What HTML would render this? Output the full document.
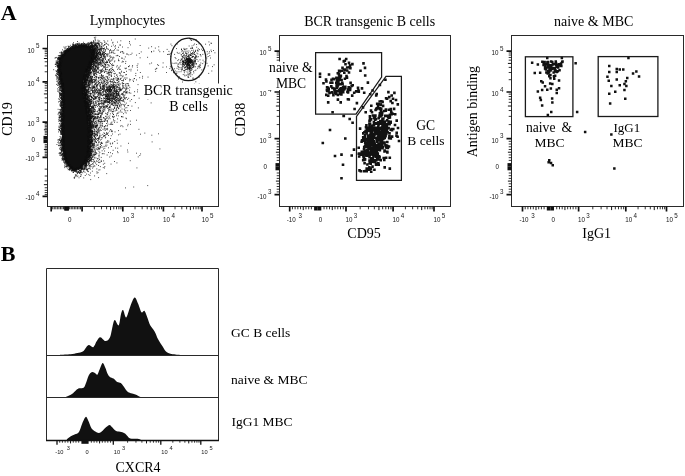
<!DOCTYPE html>
<html><head><meta charset="utf-8"><title>Figure</title><style>html,body{margin:0;padding:0;background:#fff}</style></head><body>
<svg width="685" height="476" viewBox="0 0 685 476" style="display:block">
<rect width="685" height="476" fill="#fff"/>
<text x="0.8" y="19.8" font-size="22" text-anchor="start" font-weight="bold" font-family="'Liberation Serif', serif" >A</text>
<text x="0.8" y="260.7" font-size="22" text-anchor="start" font-weight="bold" font-family="'Liberation Serif', serif" >B</text>
<path d="M65.7 52.5C67.2 51.0 67.9 50.5 69.3 49.7C70.6 48.9 71.8 48.2 73.9 47.6C76.0 47.0 79.8 46.3 81.9 46.2C84.0 46.0 85.3 46.3 86.6 46.6C88.0 46.9 89.0 47.2 89.8 47.8C90.6 48.5 91.3 49.4 91.7 50.4C92.0 51.5 92.1 52.3 92.0 53.9C91.8 55.6 91.7 57.9 90.9 60.2C90.1 62.5 88.1 65.0 86.9 67.8C85.7 70.6 84.5 74.1 83.7 77.3C82.9 80.5 82.3 83.5 82.2 86.7C82.1 89.9 82.5 93.1 83.1 96.2C83.7 99.3 85.0 101.6 85.7 105.6C86.4 109.6 87.1 114.5 87.5 120.0C87.9 125.5 88.3 132.7 88.3 138.4C88.3 144.1 88.0 150.4 87.3 154.4C86.6 158.4 85.3 160.4 83.9 162.7C82.4 165.0 80.3 167.3 78.6 168.4C76.9 169.4 75.4 169.7 73.8 169.0C72.1 168.3 69.9 166.2 68.5 164.4C67.1 162.6 66.3 160.8 65.4 158.1C64.5 155.3 63.8 152.7 63.4 147.8C63.0 142.9 63.2 135.2 63.2 128.9C63.2 122.6 63.1 113.9 63.2 110.0C63.3 106.1 63.9 108.8 63.9 105.6C63.9 102.3 63.5 94.9 63.1 90.5C62.7 86.1 62.0 82.9 61.4 79.1C60.8 75.3 59.8 71.2 59.6 67.8C59.4 64.4 59.4 61.5 60.4 58.9C61.4 56.4 64.3 54.0 65.7 52.5Z" fill="#101010" stroke="#101010" stroke-width="1.6" stroke-linejoin="round"/>
<path d="M57.5 66.4h0.85M63.5 155.0h0.85M62.4 139.0h0.85M61.0 78.3h0.85M68.0 169.2h0.85M60.4 113.2h0.85M62.2 96.4h0.85M86.2 83.0h0.85M79.9 46.5h0.85M86.0 103.5h0.85M84.8 98.8h0.85M57.0 85.3h0.85M60.6 75.4h0.85M64.4 48.8h0.85M88.0 157.7h0.85M62.9 100.3h0.85M94.7 57.5h0.85M63.5 106.7h0.85M93.1 54.5h0.85M90.4 149.1h0.85M61.8 101.5h0.85M87.2 103.6h0.85M89.5 114.6h0.85M84.2 97.9h0.85M62.9 129.2h0.85M82.7 90.8h0.85M62.9 54.4h0.85M89.8 143.8h0.85M88.1 152.6h0.85M88.0 159.3h0.85M66.7 166.2h0.85M75.4 169.4h0.85M86.0 161.2h0.85M62.6 52.8h0.85M64.5 103.9h0.85M62.3 108.0h0.85M61.5 133.4h0.85M63.3 156.2h0.85M86.9 114.8h0.85M60.4 54.0h0.85M89.5 149.0h0.85M84.3 79.2h0.85M63.5 93.2h0.85M89.7 65.8h0.85M60.7 89.8h0.85M65.4 158.9h0.85M93.1 53.3h0.85M75.9 47.9h0.85M91.0 143.1h0.85M74.2 46.7h0.85M90.9 62.2h0.85M86.2 163.1h0.85M59.0 58.3h0.85M88.2 148.4h0.85M60.3 103.7h0.85M59.8 74.0h0.85M61.7 99.2h0.85M60.3 153.5h0.85M87.6 141.4h0.85M85.7 161.9h0.85M85.0 93.5h0.85M87.4 157.4h0.85M89.3 126.0h0.85M83.8 88.4h0.85M64.4 53.6h0.85M67.2 50.2h0.85M91.5 47.7h0.85M85.2 74.0h0.85M59.1 58.5h0.85M62.1 136.3h0.85M60.5 83.1h0.85M86.8 76.3h0.85M58.7 127.7h0.85M91.5 122.1h0.85M86.4 154.9h0.85M66.7 52.4h0.85M64.2 158.1h0.85M62.8 98.4h0.85M64.1 144.6h0.85M92.7 63.6h0.85M82.6 166.9h0.85M84.7 95.9h0.85M58.7 61.2h0.85M59.0 84.5h0.85M87.6 73.0h0.85M86.2 160.3h0.85M57.7 66.4h0.85M59.7 92.9h0.85M62.2 131.5h0.85M61.1 151.4h0.85M77.0 41.5h0.85M62.9 121.8h0.85M89.4 151.5h0.85M90.4 46.3h0.85M83.7 88.1h0.85M80.5 167.3h0.85M60.3 126.1h0.85M86.2 159.5h0.85M63.4 158.9h0.85M61.2 86.1h0.85M63.0 137.5h0.85M89.5 120.1h0.85M60.1 149.8h0.85M66.3 161.6h0.85M90.8 51.7h0.85M79.9 46.4h0.85M62.9 145.2h0.85M90.2 126.6h0.85M66.7 160.9h0.85M86.5 110.5h0.85M85.8 82.5h0.85M93.9 62.2h0.85M88.6 125.4h0.85M60.9 102.9h0.85M88.7 130.5h0.85M88.9 124.9h0.85M70.2 166.9h0.85M61.6 57.4h0.85M90.0 129.3h0.85M67.2 165.1h0.85M87.8 141.9h0.85M65.0 159.3h0.85M88.8 142.9h0.85M63.0 151.1h0.85M78.4 169.9h0.85M62.8 140.1h0.85M59.5 63.0h0.85M89.3 62.8h0.85M74.3 168.7h0.85M91.3 143.1h0.85M87.7 119.0h0.85M84.7 86.3h0.85M78.8 45.1h0.85M88.2 131.2h0.85M59.8 98.7h0.85M90.3 48.1h0.85M89.0 132.6h0.85M61.1 60.0h0.85M60.0 63.9h0.85M84.2 81.3h0.85M65.5 50.4h0.85M63.8 141.9h0.85M68.6 50.0h0.85M84.7 103.5h0.85M88.0 156.9h0.85M61.7 85.4h0.85M89.9 48.0h0.85M62.5 145.4h0.85M82.0 166.8h0.85M92.0 58.1h0.85M60.2 93.7h0.85M61.6 93.9h0.85M89.2 152.5h0.85M59.9 66.3h0.85M65.3 160.0h0.85M59.4 77.5h0.85M60.6 61.6h0.85M71.6 168.7h0.85M84.1 98.9h0.85M89.9 62.2h0.85M72.7 172.3h0.85M85.7 72.5h0.85M60.9 119.2h0.85M57.9 71.6h0.85M82.1 87.9h0.85M77.8 171.7h0.85M79.1 45.3h0.85M85.6 70.6h0.85M93.4 124.8h0.85M61.4 82.8h0.85M57.4 58.8h0.85M62.3 150.1h0.85M67.9 165.6h0.85M71.7 170.3h0.85M81.1 45.5h0.85M88.1 123.5h0.85M58.8 55.5h0.85M91.0 133.9h0.85M84.0 79.6h0.85M82.5 87.8h0.85M61.1 130.1h0.85M75.3 46.4h0.85M59.2 59.3h0.85M61.5 83.8h0.85M72.6 168.0h0.85M89.3 148.6h0.85M61.6 116.7h0.85M77.9 167.8h0.85M89.1 151.4h0.85M87.1 110.0h0.85M89.7 143.5h0.85M63.1 119.3h0.85M79.6 46.3h0.85M71.8 47.0h0.85M60.9 127.7h0.85M90.3 122.6h0.85M62.4 105.1h0.85M72.6 48.2h0.85M60.7 76.1h0.85M95.0 56.0h0.85M88.9 134.7h0.85M59.2 59.5h0.85M93.4 51.6h0.85M58.4 145.7h0.85M63.3 125.9h0.85M90.1 137.9h0.85M86.3 45.8h0.85M84.7 164.2h0.85M87.8 139.8h0.85M60.9 86.1h0.85M57.8 139.7h0.85M87.1 116.0h0.85M80.7 45.9h0.85M66.3 164.0h0.85M86.9 97.7h0.85M60.0 138.8h0.85M62.2 88.3h0.85M87.6 118.2h0.85M59.9 76.8h0.85M84.0 163.4h0.85M81.3 165.1h0.85M61.2 115.3h0.85M59.4 109.6h0.85M60.2 76.5h0.85M66.0 52.6h0.85M89.9 62.5h0.85M89.9 133.4h0.85M59.7 69.0h0.85M88.2 105.3h0.85M64.5 50.6h0.85M70.1 166.3h0.85M62.8 118.5h0.85M61.1 121.3h0.85M61.8 103.5h0.85M61.0 149.0h0.85M92.3 59.0h0.85M62.9 91.8h0.85M90.0 135.8h0.85M59.8 93.0h0.85M62.2 102.1h0.85M60.1 58.9h0.85M68.9 50.0h0.85M61.9 88.5h0.85M62.7 153.8h0.85M87.2 153.9h0.85M61.8 107.3h0.85M58.5 64.2h0.85M86.1 160.6h0.85M88.7 47.5h0.85M61.5 126.6h0.85M82.6 84.7h0.85M82.8 83.4h0.85M85.7 74.2h0.85M84.2 75.8h0.85M59.9 75.5h0.85M90.4 120.3h0.85M92.4 50.5h0.85M86.3 70.9h0.85M91.1 129.0h0.85M90.6 116.6h0.85M90.3 106.3h0.85M60.5 64.6h0.85M62.3 86.8h0.85M69.3 170.1h0.85M62.8 56.7h0.85M88.7 114.0h0.85M91.4 60.8h0.85M84.0 94.9h0.85M90.2 47.1h0.85M56.4 63.7h0.85M86.4 81.1h0.85M88.7 142.9h0.85M85.0 76.5h0.85M62.1 57.4h0.85M88.9 64.3h0.85M85.4 162.7h0.85M59.6 64.9h0.85M83.7 163.3h0.85M60.1 78.2h0.85M59.8 79.9h0.85M60.9 114.9h0.85M60.3 121.1h0.85M70.1 165.9h0.85M69.1 165.4h0.85M63.3 96.6h0.85M88.0 138.4h0.85M58.5 65.0h0.85M60.0 84.0h0.85M89.8 123.8h0.85M89.4 133.8h0.85M58.6 129.5h0.85M59.0 71.7h0.85M90.3 49.6h0.85M84.1 45.2h0.85M87.7 89.3h0.85M88.1 139.4h0.85M87.7 66.8h0.85M86.2 163.7h0.85M79.4 168.4h0.85M58.7 63.9h0.85M62.6 120.1h0.85M86.1 89.6h0.85M59.7 109.8h0.85M62.2 104.6h0.85M62.0 139.0h0.85M58.6 139.8h0.85M87.1 105.5h0.85M63.0 129.8h0.85M92.3 60.0h0.85M63.1 152.9h0.85M60.4 72.9h0.85M57.8 58.4h0.85M86.1 103.1h0.85M88.3 112.5h0.85M64.7 156.2h0.85M89.1 130.9h0.85M62.4 126.1h0.85M88.5 77.2h0.85M89.2 67.7h0.85M79.4 46.3h0.85M89.1 149.4h0.85M87.2 80.4h0.85M84.9 103.5h0.85M56.5 74.3h0.85M62.4 103.1h0.85M60.6 95.2h0.85M67.1 162.7h0.85M91.8 52.8h0.85M58.0 121.1h0.85M66.2 160.0h0.85M57.3 76.8h0.85M88.0 152.9h0.85M87.3 68.5h0.85M67.5 162.3h0.85M87.7 146.0h0.85M62.4 145.7h0.85M88.8 123.9h0.85M88.7 105.1h0.85M90.9 56.4h0.85M56.5 61.0h0.85M59.2 118.1h0.85M91.2 149.4h0.85M83.9 85.3h0.85M64.4 153.9h0.85M90.9 134.2h0.85M64.4 152.5h0.85M89.1 48.7h0.85M85.6 71.9h0.85M62.7 125.1h0.85M81.4 45.6h0.85M63.8 140.7h0.85M89.6 133.9h0.85M65.2 51.7h0.85M58.6 115.9h0.85M63.0 133.8h0.85M63.0 102.2h0.85M61.3 78.8h0.85M61.9 125.3h0.85M61.4 94.1h0.85M92.1 52.6h0.85M59.1 73.5h0.85M60.3 75.0h0.85M63.1 134.9h0.85M61.1 105.7h0.85M61.9 123.0h0.85M62.8 83.9h0.85M60.5 82.2h0.85M86.0 164.9h0.85M59.2 101.3h0.85M59.1 73.3h0.85M85.7 101.7h0.85M76.9 46.3h0.85M87.5 68.1h0.85M72.5 45.9h0.85M91.1 140.4h0.85M69.2 48.9h0.85M83.5 91.6h0.85M83.8 90.8h0.85M62.5 132.9h0.85M84.8 88.8h0.85M55.7 64.1h0.85M86.0 72.6h0.85M59.0 58.4h0.85M71.4 168.9h0.85M83.0 87.4h0.85M74.8 46.7h0.85M88.8 104.9h0.85M67.4 164.0h0.85M94.2 50.3h0.85M88.1 66.5h0.85M93.9 52.2h0.85M60.9 140.4h0.85M88.9 47.0h0.85M69.5 48.7h0.85M92.3 146.2h0.85M86.1 105.4h0.85M72.7 168.5h0.85M59.2 68.4h0.85M62.7 90.1h0.85M80.6 168.0h0.85M63.1 150.3h0.85M62.0 102.3h0.85M88.1 141.2h0.85M62.4 144.3h0.85M84.3 80.4h0.85M62.5 159.4h0.85M82.5 85.7h0.85M85.4 73.0h0.85M62.6 116.9h0.85M69.6 168.8h0.85M91.8 124.8h0.85M75.7 47.6h0.85M84.9 86.8h0.85M60.5 106.5h0.85M87.5 149.3h0.85M59.5 61.5h0.85M60.2 78.8h0.85M62.8 91.2h0.85M68.5 48.3h0.85M77.9 45.9h0.85M68.7 167.1h0.85M86.6 113.6h0.85M61.0 93.8h0.85M92.2 107.6h0.85M91.7 64.1h0.85M92.4 52.0h0.85M87.2 104.5h0.85M62.7 154.0h0.85M94.2 56.7h0.85M63.9 106.3h0.85M85.4 103.4h0.85M88.8 106.6h0.85M60.4 144.0h0.85M62.0 89.8h0.85M92.2 140.4h0.85M61.1 107.7h0.85M86.1 105.1h0.85M91.7 57.4h0.85M63.4 98.2h0.85M59.2 116.0h0.85M61.7 120.4h0.85M61.0 83.1h0.85M86.6 157.5h0.85M84.6 75.5h0.85M67.6 166.1h0.85M70.6 168.0h0.85M88.0 127.4h0.85M61.8 150.6h0.85M84.9 93.5h0.85M61.4 158.7h0.85M62.6 108.2h0.85M93.5 47.1h0.85M88.7 145.3h0.85M61.8 145.1h0.85M79.5 45.2h0.85M65.0 152.3h0.85M55.9 75.7h0.85M62.5 99.1h0.85M62.1 137.8h0.85M63.9 105.5h0.85M87.4 120.6h0.85M89.0 110.9h0.85M88.1 47.0h0.85M60.0 128.3h0.85M86.6 108.2h0.85M61.9 88.1h0.85M87.6 148.6h0.85M58.6 79.5h0.85M91.2 59.5h0.85M89.6 65.2h0.85M89.8 116.1h0.85M71.6 46.5h0.85M90.4 155.4h0.85M61.7 147.5h0.85M62.9 143.7h0.85M83.3 79.2h0.85M91.2 67.5h0.85M73.5 170.3h0.85M63.5 151.7h0.85M58.1 66.5h0.85M59.7 79.5h0.85M88.1 125.1h0.85M89.0 65.6h0.85M82.8 90.0h0.85M62.4 82.9h0.85M87.3 145.7h0.85M61.8 53.2h0.85M64.8 145.3h0.85M66.4 162.9h0.85M92.3 48.8h0.85M67.7 163.3h0.85M89.9 124.4h0.85M61.4 94.0h0.85M91.0 58.9h0.85M87.3 73.9h0.85M61.4 144.8h0.85M57.6 140.1h0.85M60.6 98.0h0.85M83.2 163.6h0.85M89.0 123.9h0.85M85.3 105.4h0.85M87.2 122.9h0.85M59.4 144.0h0.85M81.2 168.9h0.85M86.4 103.0h0.85M82.6 79.5h0.85M60.1 131.5h0.85M83.6 88.9h0.85M84.4 78.1h0.85M87.3 110.8h0.85M62.5 91.9h0.85M87.7 146.7h0.85M67.1 163.3h0.85M87.0 46.6h0.85M91.0 114.9h0.85M61.6 119.0h0.85M61.4 112.9h0.85M69.6 166.6h0.85M63.3 85.1h0.85M87.6 102.7h0.85M88.3 66.7h0.85M85.9 45.0h0.85M84.5 75.6h0.85M60.4 116.6h0.85M58.3 77.9h0.85M93.5 57.8h0.85M86.8 158.5h0.85M93.0 58.2h0.85M61.2 93.8h0.85M91.9 57.0h0.85M61.2 150.2h0.85M87.1 45.9h0.85M61.2 123.6h0.85M58.8 76.2h0.85M63.2 125.7h0.85M83.3 95.3h0.85M61.6 95.1h0.85M86.6 104.6h0.85M62.5 118.4h0.85M63.7 97.0h0.85M88.3 153.8h0.85M62.3 156.1h0.85M62.2 91.0h0.85M85.7 72.7h0.85M69.6 48.3h0.85M88.8 140.1h0.85M87.7 70.5h0.85M62.3 82.8h0.85M61.5 87.4h0.85M90.0 123.9h0.85M87.0 106.0h0.85M58.8 130.6h0.85M89.0 146.2h0.85M91.5 47.7h0.85M63.6 145.0h0.85M59.8 126.0h0.85M86.6 43.7h0.85M59.6 112.6h0.85M81.5 166.5h0.85M62.6 99.1h0.85M61.6 91.6h0.85M61.3 140.9h0.85M85.8 112.7h0.85M88.9 124.1h0.85M62.5 126.9h0.85M81.5 44.5h0.85M84.2 84.3h0.85M88.4 164.7h0.85M58.9 66.9h0.85M61.6 118.5h0.85M61.3 101.3h0.85M84.6 74.3h0.85M85.9 98.2h0.85M82.9 94.3h0.85M61.4 120.2h0.85M81.4 168.0h0.85M86.4 79.1h0.85M63.5 120.3h0.85M63.1 150.9h0.85M59.9 79.3h0.85M75.0 168.8h0.85M92.7 56.6h0.85M61.4 81.8h0.85M85.8 70.8h0.85M79.4 45.4h0.85M61.4 105.7h0.85M88.8 144.6h0.85M63.5 148.9h0.85M91.6 57.2h0.85M63.2 128.2h0.85M89.7 131.8h0.85M62.9 52.3h0.85M63.6 151.3h0.85M58.4 68.1h0.85M63.2 107.8h0.85M62.9 94.4h0.85M87.7 47.0h0.85M62.2 113.1h0.85M62.3 159.9h0.85M88.4 129.5h0.85M89.1 106.6h0.85M61.4 150.0h0.85M86.0 76.1h0.85M86.6 71.7h0.85M62.2 86.0h0.85M64.1 118.0h0.85M68.1 163.6h0.85M62.9 117.9h0.85M89.9 108.9h0.85M61.9 127.6h0.85M87.1 77.3h0.85M88.6 142.2h0.85M91.4 62.8h0.85M89.1 125.5h0.85M88.0 113.7h0.85M89.1 136.3h0.85M90.5 152.2h0.85M72.9 44.0h0.85M88.5 114.6h0.85M59.1 93.1h0.85M89.5 140.4h0.85M80.8 170.6h0.85M92.3 48.7h0.85M88.7 127.4h0.85M57.4 59.2h0.85M78.0 168.9h0.85M70.0 49.2h0.85M63.0 128.4h0.85M62.4 114.5h0.85M91.3 125.9h0.85M73.8 48.1h0.85M63.6 98.0h0.85M84.4 90.7h0.85M59.4 72.1h0.85M88.5 120.7h0.85M88.8 127.3h0.85M63.2 109.0h0.85M94.7 59.1h0.85M72.2 44.1h0.85M63.7 116.6h0.85M57.4 71.5h0.85M63.8 53.6h0.85M91.7 57.6h0.85M91.0 61.4h0.85M90.0 113.7h0.85M64.3 130.5h0.85M55.7 75.7h0.85M61.6 98.6h0.85M90.1 123.4h0.85M57.9 73.8h0.85M83.1 91.1h0.85M93.7 54.7h0.85M89.0 140.2h0.85M90.2 46.9h0.85M62.2 139.5h0.85M62.4 54.7h0.85M91.7 51.3h0.85M93.5 54.1h0.85M89.3 70.3h0.85M86.9 69.8h0.85M83.3 169.8h0.85M70.4 167.5h0.85M59.2 64.7h0.85M88.5 144.0h0.85M56.3 71.0h0.85M61.0 119.4h0.85M60.7 90.8h0.85M87.4 74.2h0.85M89.9 146.5h0.85M59.3 74.6h0.85M61.8 119.6h0.85M84.5 80.4h0.85M59.5 94.2h0.85M60.1 114.6h0.85M93.3 62.5h0.85M84.4 44.8h0.85M83.6 93.0h0.85M87.8 151.5h0.85M88.8 63.7h0.85M73.8 47.7h0.85M91.4 52.3h0.85M88.0 106.5h0.85M92.4 127.8h0.85M84.8 106.0h0.85M90.2 143.0h0.85M63.2 128.5h0.85M83.0 88.5h0.85M89.4 145.8h0.85M62.5 125.5h0.85M79.8 45.6h0.85M59.7 67.6h0.85M63.5 53.1h0.85M88.5 101.2h0.85M56.5 81.5h0.85M85.3 89.9h0.85M60.2 73.8h0.85M58.1 145.3h0.85M83.1 88.7h0.85M81.9 46.1h0.85M88.7 128.4h0.85M61.5 121.6h0.85M83.2 84.4h0.85M85.4 161.8h0.85M93.3 55.5h0.85M88.2 139.0h0.85M73.7 47.4h0.85M61.3 55.7h0.85M85.5 159.5h0.85M61.1 93.8h0.85M92.5 56.6h0.85M89.3 67.6h0.85M86.9 69.4h0.85M73.0 169.0h0.85M62.6 89.3h0.85M66.6 159.5h0.85M87.8 153.5h0.85M59.5 67.9h0.85M86.8 71.5h0.85M90.1 67.1h0.85M61.0 141.6h0.85M63.5 90.6h0.85M83.9 94.4h0.85M83.4 92.9h0.85M84.6 165.7h0.85M63.4 111.6h0.85M84.8 98.3h0.85M61.1 99.0h0.85M85.0 162.6h0.85M58.2 131.9h0.85M62.5 154.0h0.85M91.4 153.6h0.85M80.9 166.1h0.85M63.3 52.0h0.85M90.2 130.0h0.85M57.0 65.5h0.85M62.2 107.7h0.85M88.9 71.7h0.85M62.0 85.6h0.85M88.0 125.5h0.85M88.2 70.1h0.85M87.1 90.7h0.85M93.0 60.4h0.85M86.5 115.0h0.85M91.9 53.3h0.85M78.7 168.4h0.85M61.1 56.9h0.85M57.6 61.2h0.85M59.4 67.2h0.85M84.3 88.0h0.85M81.6 85.2h0.85M63.6 139.8h0.85M55.2 57.7h0.85M61.3 99.2h0.85M83.5 77.4h0.85M62.8 124.6h0.85M85.6 159.5h0.85M90.7 142.6h0.85M87.0 157.0h0.85M78.4 169.2h0.85M57.2 74.3h0.85M61.9 108.6h0.85M75.8 46.5h0.85M62.8 115.3h0.85M87.6 106.8h0.85M87.0 113.5h0.85M66.4 160.5h0.85M62.1 55.6h0.85M82.8 45.6h0.85M84.5 161.3h0.85M86.0 86.6h0.85M58.2 75.4h0.85M91.5 149.5h0.85M58.3 91.8h0.85M61.6 83.7h0.85M91.1 49.7h0.85M62.6 116.7h0.85M62.6 108.3h0.85M63.0 98.3h0.85M63.9 55.9h0.85M62.7 117.3h0.85M59.9 97.8h0.85M62.5 131.7h0.85M86.2 101.2h0.85M61.9 92.7h0.85M62.7 133.3h0.85M62.6 139.5h0.85M59.6 57.8h0.85M62.3 124.4h0.85M88.2 113.6h0.85M87.8 104.4h0.85M88.0 109.7h0.85M89.1 67.0h0.85M86.6 46.8h0.85M63.0 117.7h0.85M61.7 110.2h0.85M90.0 66.6h0.85M89.5 129.4h0.85M59.1 72.6h0.85M62.6 95.0h0.85M63.6 162.5h0.85M59.4 58.3h0.85M85.9 110.6h0.85M61.0 93.8h0.85M57.7 69.0h0.85M67.5 163.4h0.85M89.1 64.1h0.85M85.2 101.1h0.85M85.3 162.6h0.85M84.0 98.2h0.85M90.1 46.8h0.85M89.9 68.6h0.85M60.6 60.2h0.85M90.5 126.0h0.85M70.2 167.4h0.85M91.8 141.5h0.85M61.6 105.7h0.85M93.9 48.5h0.85M84.3 97.9h0.85M66.4 165.6h0.85M63.3 104.7h0.85M90.5 147.3h0.85M62.2 132.9h0.85M62.8 106.2h0.85M64.1 149.6h0.85M82.5 169.1h0.85M59.8 70.1h0.85M90.3 143.5h0.85M62.4 147.5h0.85M90.5 123.1h0.85M76.2 170.5h0.85M87.8 112.5h0.85M90.4 133.6h0.85M61.8 107.5h0.85M61.4 99.2h0.85M82.9 80.9h0.85M65.7 50.7h0.85M60.2 63.4h0.85M69.6 48.8h0.85M85.9 164.5h0.85M84.3 163.2h0.85M63.5 153.1h0.85M85.6 103.2h0.85M94.3 57.8h0.85M89.0 131.6h0.85M58.0 59.0h0.85M80.3 167.4h0.85M88.4 144.2h0.85M76.8 44.9h0.85M59.6 71.2h0.85M59.5 55.7h0.85M78.4 44.0h0.85M60.9 139.8h0.85M62.9 114.3h0.85M91.9 48.9h0.85M88.0 120.4h0.85M61.7 124.2h0.85M58.0 87.4h0.85M84.1 168.7h0.85M84.1 102.0h0.85M63.8 137.9h0.85M86.1 113.3h0.85M63.1 124.1h0.85M69.4 49.3h0.85M61.6 53.9h0.85M84.5 94.2h0.85M92.0 55.8h0.85M91.3 54.5h0.85M64.6 53.5h0.85M59.6 69.6h0.85M88.9 151.5h0.85M62.6 115.6h0.85M84.1 76.2h0.85M59.4 69.3h0.85M90.1 123.3h0.85M66.5 163.4h0.85M89.4 120.2h0.85M92.4 50.8h0.85M60.7 78.8h0.85M60.3 113.3h0.85M82.3 164.8h0.85M65.1 52.2h0.85M84.3 43.5h0.85M91.5 138.9h0.85M63.4 128.5h0.85M86.7 116.0h0.85M87.8 157.5h0.85M85.8 69.8h0.85M63.2 101.8h0.85M86.7 91.3h0.85M77.3 44.0h0.85M85.7 69.1h0.85M61.5 87.2h0.85M87.6 159.7h0.85M61.2 80.8h0.85M83.2 162.8h0.85M63.5 47.0h0.85M62.7 104.9h0.85M86.8 151.3h0.85M93.0 51.9h0.85M92.1 55.2h0.85M85.7 44.3h0.85M82.1 165.1h0.85M63.4 140.9h0.85M89.1 47.0h0.85M70.4 168.0h0.85M59.5 81.6h0.85M60.5 76.7h0.85M86.0 71.6h0.85M85.7 94.9h0.85M62.6 142.7h0.85M63.0 117.8h0.85M62.6 146.5h0.85M67.2 161.4h0.85M87.6 108.6h0.85M57.3 70.6h0.85M87.4 79.1h0.85M62.2 147.5h0.85M59.7 74.3h0.85M63.0 150.5h0.85M74.5 44.6h0.85M85.0 75.0h0.85M82.6 90.7h0.85M59.8 68.5h0.85M86.6 111.0h0.85M84.4 84.2h0.85M68.3 165.4h0.85M89.5 143.9h0.85M88.9 122.1h0.85M90.5 59.2h0.85M93.7 52.2h0.85M84.3 101.9h0.85M71.9 169.2h0.85M70.5 48.0h0.85M62.8 127.5h0.85M83.1 91.3h0.85M63.3 132.6h0.85M63.5 145.8h0.85M88.6 155.2h0.85M60.3 152.5h0.85M86.2 104.1h0.85M87.3 73.0h0.85M66.1 49.2h0.85M77.9 172.1h0.85M82.3 166.9h0.85M94.3 52.5h0.85M60.9 154.5h0.85M84.3 85.3h0.85M88.7 142.0h0.85M88.4 150.1h0.85M56.5 62.3h0.85M64.4 156.2h0.85M85.8 76.5h0.85M86.2 106.5h0.85M62.1 101.7h0.85M92.2 56.5h0.85M62.9 129.6h0.85M88.1 131.9h0.85M60.9 77.4h0.85M91.4 132.6h0.85M59.2 71.7h0.85M87.7 67.4h0.85M83.8 86.6h0.85M89.8 141.1h0.85M58.0 72.2h0.85M59.5 83.5h0.85M90.1 131.8h0.85M63.4 90.9h0.85M61.9 139.6h0.85M57.9 55.6h0.85M54.8 64.4h0.85M63.3 100.1h0.85M66.2 162.0h0.85M89.8 123.9h0.85M68.6 164.8h0.85M62.7 99.8h0.85M85.8 44.2h0.85M88.7 122.9h0.85M64.0 162.8h0.85M61.5 117.7h0.85M84.9 87.1h0.85M83.6 97.7h0.85M92.5 127.3h0.85M59.5 117.3h0.85M87.9 125.4h0.85M92.0 46.8h0.85M60.2 58.1h0.85M88.5 123.8h0.85M63.5 151.0h0.85M91.6 128.4h0.85M60.3 126.4h0.85M59.9 117.5h0.85M88.9 69.7h0.85M94.2 58.0h0.85M85.7 104.5h0.85M89.9 46.1h0.85M62.7 84.4h0.85M60.5 63.5h0.85M91.5 56.3h0.85M84.7 100.5h0.85M59.5 63.1h0.85M65.4 162.3h0.85M88.4 138.1h0.85M89.5 64.8h0.85M87.7 128.1h0.85M88.2 115.7h0.85M86.9 161.8h0.85M62.8 147.2h0.85M88.4 142.6h0.85M84.3 78.9h0.85M87.9 149.3h0.85M65.3 161.0h0.85M88.5 137.2h0.85M58.9 88.6h0.85M61.1 133.4h0.85M61.7 79.8h0.85M84.3 95.9h0.85M89.3 151.6h0.85M87.5 67.2h0.85M59.6 69.4h0.85M91.6 139.2h0.85M59.9 100.8h0.85M89.3 47.7h0.85M61.8 129.2h0.85M88.9 144.1h0.85M59.7 81.4h0.85M88.2 156.7h0.85M91.3 57.9h0.85M63.4 111.4h0.85M62.5 133.5h0.85M92.8 50.8h0.85M90.5 61.3h0.85M91.9 131.2h0.85M61.7 132.7h0.85M58.7 112.1h0.85M72.3 47.3h0.85M85.5 114.1h0.85M58.6 68.8h0.85M62.9 96.0h0.85M80.1 45.6h0.85M63.5 128.8h0.85M62.5 96.3h0.85M74.7 45.7h0.85M88.7 126.1h0.85M89.2 126.8h0.85M62.4 111.2h0.85M63.5 115.7h0.85M72.5 169.2h0.85M84.6 165.1h0.85M95.4 53.1h0.85M61.8 141.7h0.85M87.9 152.8h0.85M59.4 52.7h0.85M85.0 47.2h0.85M62.5 139.9h0.85M89.0 163.3h0.85M79.1 168.8h0.85M64.7 53.5h0.85M62.1 92.2h0.85M88.2 129.0h0.85M90.0 139.2h0.85M88.0 116.5h0.85M65.5 48.2h0.85M85.4 102.0h0.85M87.2 96.2h0.85M81.1 166.3h0.85M66.8 162.6h0.85M61.7 55.7h0.85M57.2 64.9h0.85M63.1 132.3h0.85M64.1 158.7h0.85M85.7 102.7h0.85M84.0 98.5h0.85M88.1 157.4h0.85M62.4 53.1h0.85M59.0 120.3h0.85M90.0 131.0h0.85M69.8 169.0h0.85M84.7 83.7h0.85M91.0 47.3h0.85M76.7 169.6h0.85M87.4 105.1h0.85M89.1 116.2h0.85M62.5 93.7h0.85M92.7 52.3h0.85M62.9 158.4h0.85M63.4 129.6h0.85M89.5 142.5h0.85M62.3 136.2h0.85M91.8 47.0h0.85M56.4 57.4h0.85M60.2 73.4h0.85M91.5 59.3h0.85M68.6 164.9h0.85M60.0 76.2h0.85M93.5 53.5h0.85M62.8 106.3h0.85M88.2 146.9h0.85M83.0 90.7h0.85M61.1 55.4h0.85M88.0 152.3h0.85M84.0 81.3h0.85M62.8 153.1h0.85M66.0 166.3h0.85M85.5 106.8h0.85M61.0 125.2h0.85M92.7 51.9h0.85M63.0 159.3h0.85M62.6 95.1h0.85M62.9 117.4h0.85M90.4 66.7h0.85M62.3 107.4h0.85M88.8 155.7h0.85M91.7 49.4h0.85M89.2 140.9h0.85M85.4 98.4h0.85M60.5 77.2h0.85M87.9 122.3h0.85M74.4 169.2h0.85M62.7 152.3h0.85M89.2 137.3h0.85M92.0 57.6h0.85M61.7 57.0h0.85M84.2 91.1h0.85M87.2 117.0h0.85M88.0 115.3h0.85M60.8 126.8h0.85M88.6 43.0h0.85M82.1 85.4h0.85M55.1 75.1h0.85M63.0 118.4h0.85M70.9 168.7h0.85M62.7 119.2h0.85M89.6 114.2h0.85M63.0 97.5h0.85M62.2 105.3h0.85M87.5 153.5h0.85M62.1 130.3h0.85M89.6 81.4h0.85M82.9 95.1h0.85M62.8 153.0h0.85M76.4 45.8h0.85M59.8 75.8h0.85M62.3 116.1h0.85M87.4 106.0h0.85M83.5 94.5h0.85M68.8 46.6h0.85M88.1 117.0h0.85M85.5 72.4h0.85M60.6 82.6h0.85M57.1 69.4h0.85M84.8 78.5h0.85M66.5 50.5h0.85M82.5 82.9h0.85M81.0 44.4h0.85M62.8 131.1h0.85M90.5 49.2h0.85M85.7 79.8h0.85M59.6 81.3h0.85M61.8 122.1h0.85M89.4 125.8h0.85M96.1 60.3h0.85M62.0 137.0h0.85M88.3 104.7h0.85M62.7 132.9h0.85M62.3 100.4h0.85M89.3 139.6h0.85M91.4 60.2h0.85M62.7 123.8h0.85M58.9 89.7h0.85M88.8 147.6h0.85M91.3 134.4h0.85M80.1 170.6h0.85M60.6 84.2h0.85M87.8 105.1h0.85M85.8 108.0h0.85M66.1 52.1h0.85M73.5 47.5h0.85M64.3 163.6h0.85M59.0 60.1h0.85M82.7 93.4h0.85M84.5 94.5h0.85M84.7 96.4h0.85M86.0 106.3h0.85M59.6 83.7h0.85M58.4 69.9h0.85M90.0 120.3h0.85M89.1 150.1h0.85M92.1 49.6h0.85M84.2 77.6h0.85M59.3 153.4h0.85M74.9 45.5h0.85M80.5 166.3h0.85M81.6 164.8h0.85M80.0 46.2h0.85M89.8 152.7h0.85M88.9 117.0h0.85M93.0 58.1h0.85M63.2 158.8h0.85M62.3 90.0h0.85M85.1 97.9h0.85M73.8 170.0h0.85M60.9 55.0h0.85M59.3 90.2h0.85M64.4 106.9h0.85M89.1 123.7h0.85M88.1 159.4h0.85M79.8 44.2h0.85M57.7 73.9h0.85M68.2 46.6h0.85M74.4 47.6h0.85M77.6 44.5h0.85M83.0 82.6h0.85M58.8 79.2h0.85M61.3 74.3h0.85M79.5 170.0h0.85M89.4 160.6h0.85M89.8 112.2h0.85M88.5 68.5h0.85M63.1 148.7h0.85M72.3 168.8h0.85M84.8 157.1h0.85M61.3 125.4h0.85M83.4 95.0h0.85M61.6 160.2h0.85M63.4 100.4h0.85M76.6 47.3h0.85M94.1 135.2h0.85M73.5 46.3h0.85M91.4 60.4h0.85M89.6 132.9h0.85M90.3 143.5h0.85M69.0 48.8h0.85M89.2 43.9h0.85M89.4 44.7h0.85M59.5 73.0h0.85M60.9 150.4h0.85M86.0 109.6h0.85M89.8 141.4h0.85M88.5 148.4h0.85M87.9 47.1h0.85M83.8 90.9h0.85M60.2 84.3h0.85M86.4 70.6h0.85M89.0 122.2h0.85M88.7 148.4h0.85M58.7 82.9h0.85M57.3 65.7h0.85M64.4 158.3h0.85M62.0 132.3h0.85M63.6 154.6h0.85M86.3 162.7h0.85M91.4 137.0h0.85M88.0 119.3h0.85M61.9 142.6h0.85M84.0 84.2h0.85M84.0 87.5h0.85M63.3 154.6h0.85M85.6 92.4h0.85M90.4 147.4h0.85M57.9 85.2h0.85M91.0 62.5h0.85M84.2 77.0h0.85M59.0 58.3h0.85M88.1 126.9h0.85M87.7 151.9h0.85M61.3 121.7h0.85M61.0 54.7h0.85M88.2 111.7h0.85M86.6 157.5h0.85M91.1 121.5h0.85M59.5 86.2h0.85M59.4 75.6h0.85M83.2 45.1h0.85M87.0 77.5h0.85M63.5 153.3h0.85M84.5 87.3h0.85M91.3 62.5h0.85M61.9 82.3h0.85M58.7 72.1h0.85M87.4 96.4h0.85M64.6 157.0h0.85M86.7 112.0h0.85M91.1 63.3h0.85M61.1 82.9h0.85M66.7 50.4h0.85M87.8 109.0h0.85M78.5 46.9h0.85M64.9 52.7h0.85M85.6 168.6h0.85M60.1 101.1h0.85M89.8 134.5h0.85M60.9 93.6h0.85M69.4 169.9h0.85M87.4 83.0h0.85M67.8 49.6h0.85M84.5 80.9h0.85M63.6 55.2h0.85M61.8 118.5h0.85M61.1 82.0h0.85M61.6 99.3h0.85M59.7 154.9h0.85M82.9 83.2h0.85M89.5 131.0h0.85M84.3 76.4h0.85M61.6 80.0h0.85M85.3 87.2h0.85M60.1 105.7h0.85M93.2 59.9h0.85M89.5 129.9h0.85M91.2 136.4h0.85M62.2 126.1h0.85M86.2 159.6h0.85M63.6 96.9h0.85M62.3 153.8h0.85M65.1 51.3h0.85M79.5 46.8h0.85M88.6 136.6h0.85M85.5 73.1h0.85M85.9 82.5h0.85M91.8 54.5h0.85M54.6 58.1h0.85M84.8 94.8h0.85M63.5 138.1h0.85M87.5 72.3h0.85M91.8 58.5h0.85M59.6 69.1h0.85M88.8 153.5h0.85M89.0 123.6h0.85M84.5 75.8h0.85M92.0 60.4h0.85M79.2 45.4h0.85M62.5 142.9h0.85M91.9 48.0h0.85M58.2 57.5h0.85M84.3 99.9h0.85M61.9 107.9h0.85M85.9 106.4h0.85M62.4 149.2h0.85M62.4 154.1h0.85M89.2 125.0h0.85M84.2 77.6h0.85M88.5 130.9h0.85M88.4 111.1h0.85M87.7 103.3h0.85M82.9 83.0h0.85M61.2 104.5h0.85M87.2 118.4h0.85M59.8 105.2h0.85M60.8 152.2h0.85M87.3 155.7h0.85M63.0 128.9h0.85M63.8 88.6h0.85M91.0 62.6h0.85M62.1 147.3h0.85M86.1 93.8h0.85M61.1 137.2h0.85M86.5 156.9h0.85M84.9 95.6h0.85M91.6 121.5h0.85M84.5 88.0h0.85M63.3 138.5h0.85M86.0 83.6h0.85M61.8 84.2h0.85M59.3 75.3h0.85M84.1 77.3h0.85M62.3 106.7h0.85M88.4 154.5h0.85M58.9 79.3h0.85M76.7 168.3h0.85M62.3 98.9h0.85M59.2 77.7h0.85M62.7 105.0h0.85M88.5 131.4h0.85M89.2 140.3h0.85M86.2 104.6h0.85M63.7 116.6h0.85M87.7 42.6h0.85M87.1 67.1h0.85M89.7 67.1h0.85M62.6 145.7h0.85M88.2 145.2h0.85M76.6 43.8h0.85M88.7 131.3h0.85M58.8 60.9h0.85M90.8 113.1h0.85M59.8 83.7h0.85M88.6 119.9h0.85M87.7 66.6h0.85M78.1 46.3h0.85M61.5 114.9h0.85M87.6 153.1h0.85M61.7 99.6h0.85M62.3 141.9h0.85M76.2 45.3h0.85M64.4 166.3h0.85M72.6 169.9h0.85M93.0 63.3h0.85M90.7 135.5h0.85M89.5 125.5h0.85M64.7 156.4h0.85M62.6 143.7h0.85M59.4 81.4h0.85M81.1 43.9h0.85M62.8 127.8h0.85M85.0 84.4h0.85M84.2 79.7h0.85M86.6 117.2h0.85M76.3 169.0h0.85M68.8 47.0h0.85M73.7 170.7h0.85M64.1 101.5h0.85M67.5 49.8h0.85M62.9 84.9h0.85M91.4 58.7h0.85M61.7 97.2h0.85M90.3 120.0h0.85M89.6 120.2h0.85M88.7 70.0h0.85M74.2 169.6h0.85M82.2 86.4h0.85M85.7 76.3h0.85M63.5 139.9h0.85M63.1 125.8h0.85M56.9 62.2h0.85M78.4 168.7h0.85M89.7 146.7h0.85M62.0 134.2h0.85M59.7 149.3h0.85M61.1 72.8h0.85M60.6 116.6h0.85M60.3 80.2h0.85M62.5 141.3h0.85M58.0 70.5h0.85M63.5 145.2h0.85M80.2 171.9h0.85M64.7 50.3h0.85M86.6 99.6h0.85M60.0 86.7h0.85M62.8 144.4h0.85M88.3 64.6h0.85M77.9 46.2h0.85M86.3 69.8h0.85M88.1 75.1h0.85M85.1 160.7h0.85M85.0 94.4h0.85M64.3 167.6h0.85M62.9 124.7h0.85M62.5 118.6h0.85M60.8 112.2h0.85M85.8 101.6h0.85M57.7 68.0h0.85M58.2 65.8h0.85M86.1 45.9h0.85M64.2 154.2h0.85M89.1 135.2h0.85M62.4 93.6h0.85M61.6 139.6h0.85M88.4 151.9h0.85M90.8 118.1h0.85M84.7 46.8h0.85M89.2 117.4h0.85M66.9 50.1h0.85M58.9 61.2h0.85M63.0 150.5h0.85M80.8 169.2h0.85M89.0 137.7h0.85M59.8 147.6h0.85M90.8 142.2h0.85M61.0 75.4h0.85M86.4 109.7h0.85M90.1 142.9h0.85M86.1 70.4h0.85M61.3 129.3h0.85M90.7 151.1h0.85M85.1 97.6h0.85M86.0 91.5h0.85M62.4 90.6h0.85M57.7 80.9h0.85M87.3 76.9h0.85M85.1 71.3h0.85M69.9 165.8h0.85M59.2 59.4h0.85M65.3 163.2h0.85M58.4 90.1h0.85M63.1 115.0h0.85M92.9 126.3h0.85M84.8 98.9h0.85M62.2 114.0h0.85M70.5 168.8h0.85M68.0 165.7h0.85M77.7 47.3h0.85M89.5 148.1h0.85M63.4 112.6h0.85M62.9 102.2h0.85M79.6 168.3h0.85M62.7 97.8h0.85M64.3 103.7h0.85M86.3 76.2h0.85M61.6 129.1h0.85M59.8 77.1h0.85M92.8 152.0h0.85M72.4 46.6h0.85M60.7 56.5h0.85M65.6 50.8h0.85M91.2 45.3h0.85M88.4 153.2h0.85M88.4 110.2h0.85M87.6 103.0h0.85M59.0 68.3h0.85M88.3 137.1h0.85M87.0 44.4h0.85M88.3 152.4h0.85M82.5 95.3h0.85M89.0 150.0h0.85M61.1 95.7h0.85M59.4 76.7h0.85M63.2 130.7h0.85M56.3 73.2h0.85M85.3 81.1h0.85M87.7 116.1h0.85M62.4 109.5h0.85M84.9 99.8h0.85M71.3 166.5h0.85M63.0 147.7h0.85M87.6 106.5h0.85M83.9 75.3h0.85M64.7 51.3h0.85M88.4 132.2h0.85M92.7 133.2h0.85M61.0 128.7h0.85M62.2 125.8h0.85M65.8 50.3h0.85M86.9 153.0h0.85M61.9 113.8h0.85M58.3 59.9h0.85M61.8 124.7h0.85M87.3 101.5h0.85M90.5 127.8h0.85M87.2 122.0h0.85M84.7 89.2h0.85M65.7 50.2h0.85M80.0 167.0h0.85M84.5 95.6h0.85M84.8 102.4h0.85M88.1 121.3h0.85M62.3 101.1h0.85M61.4 126.8h0.85M65.3 164.8h0.85M62.8 124.8h0.85M87.8 105.2h0.85M88.1 125.5h0.85M61.2 103.2h0.85M65.7 154.8h0.85M65.0 160.0h0.85M84.8 76.0h0.85M93.3 57.6h0.85M83.5 82.9h0.85M86.8 135.2h0.85M85.7 94.5h0.85M86.3 155.5h0.85M84.0 94.7h0.85M58.8 65.5h0.85M61.2 58.6h0.85M85.9 108.8h0.85M59.9 121.9h0.85M91.4 143.9h0.85M63.1 106.6h0.85M61.1 57.8h0.85M62.7 97.2h0.85M91.0 138.5h0.85M88.9 157.1h0.85M62.4 98.1h0.85M87.3 122.6h0.85M91.7 46.8h0.85M89.3 125.3h0.85M88.4 129.0h0.85M86.5 46.5h0.85M85.8 71.0h0.85M86.9 130.2h0.85M61.4 83.0h0.85M89.0 132.7h0.85M76.4 168.1h0.85M85.5 103.5h0.85M83.9 80.8h0.85M87.4 68.9h0.85M91.6 46.8h0.85M84.9 45.9h0.85M89.3 136.8h0.85M72.9 168.4h0.85M91.0 49.5h0.85M56.7 78.0h0.85M88.5 154.0h0.85M62.2 84.6h0.85M61.9 126.0h0.85M89.6 135.9h0.85M85.9 106.5h0.85M87.4 95.7h0.85M88.5 66.9h0.85M86.3 158.6h0.85M87.5 120.0h0.85M86.4 157.0h0.85M89.0 66.9h0.85M62.8 138.8h0.85M61.7 93.9h0.85M75.9 168.9h0.85M92.0 47.2h0.85M89.9 64.1h0.85M62.4 122.5h0.85M89.4 106.8h0.85M88.9 112.7h0.85M55.7 61.0h0.85M60.4 126.1h0.85M88.4 140.8h0.85M61.3 113.3h0.85M83.5 97.2h0.85M92.9 59.7h0.85M88.1 149.8h0.85M61.2 117.6h0.85M85.2 97.0h0.85M56.2 65.8h0.85M89.5 104.6h0.85M72.2 169.6h0.85M86.6 71.8h0.85M61.7 149.4h0.85M86.2 73.1h0.85M86.5 109.6h0.85M82.6 43.9h0.85M90.0 69.1h0.85M93.3 53.6h0.85M59.6 121.3h0.85M62.2 127.5h0.85M62.7 99.5h0.85M86.0 107.1h0.85M86.4 78.1h0.85M85.4 75.8h0.85M93.3 52.9h0.85M90.1 47.1h0.85M92.8 118.6h0.85M92.7 59.4h0.85M64.6 154.6h0.85M66.5 166.5h0.85M90.8 121.3h0.85M93.7 53.8h0.85M60.0 60.3h0.85M84.0 81.5h0.85M61.9 108.5h0.85M61.1 77.7h0.85M57.7 74.6h0.85M86.1 106.0h0.85M91.7 46.0h0.85M62.5 100.7h0.85M84.6 75.8h0.85M60.1 142.6h0.85M89.8 66.2h0.85M87.3 103.1h0.85M87.8 141.5h0.85M63.3 150.0h0.85M87.2 132.9h0.85M80.9 166.1h0.85M63.5 115.5h0.85M88.7 150.9h0.85M61.5 111.2h0.85M59.1 66.5h0.85M79.0 167.3h0.85M61.5 142.6h0.85M61.7 146.1h0.85M61.4 79.8h0.85M88.1 148.1h0.85M63.7 93.2h0.85M84.9 106.3h0.85M62.0 87.4h0.85M85.9 158.8h0.85M91.4 45.9h0.85M58.6 153.3h0.85M86.1 112.0h0.85M57.2 63.5h0.85M85.8 165.1h0.85M60.9 101.3h0.85M88.7 140.8h0.85M83.9 43.7h0.85M71.2 167.7h0.85M63.5 150.3h0.85M62.0 154.2h0.85M91.7 45.8h0.85M70.3 48.0h0.85M64.3 155.1h0.85M89.4 153.1h0.85M59.0 93.2h0.85M82.8 82.6h0.85M62.9 133.5h0.85M81.7 87.6h0.85M91.8 54.5h0.85M71.7 166.9h0.85M89.9 137.4h0.85M91.2 140.9h0.85M87.7 73.2h0.85M86.0 70.5h0.85M63.0 144.5h0.85M88.7 128.1h0.85M62.0 131.6h0.85M88.4 131.8h0.85M62.8 124.0h0.85M89.9 125.9h0.85M86.4 119.0h0.85M83.3 89.8h0.85M66.3 162.2h0.85M89.1 130.7h0.85M86.0 77.2h0.85M77.6 46.4h0.85M59.3 70.8h0.85M87.4 123.0h0.85M60.0 68.4h0.85M89.4 136.3h0.85M72.5 45.7h0.85M64.1 52.1h0.85M73.8 170.8h0.85M60.1 61.6h0.85M61.5 129.3h0.85M85.5 75.9h0.85M83.4 84.8h0.85M87.6 151.9h0.85M73.0 44.5h0.85M90.4 108.6h0.85M64.7 51.7h0.85M68.8 167.5h0.85M60.1 132.5h0.85M86.0 85.4h0.85M68.7 49.3h0.85M85.7 75.9h0.85M91.2 126.2h0.85M91.3 114.2h0.85M63.2 106.5h0.85M62.0 135.3h0.85M79.5 46.5h0.85M89.2 138.5h0.85M60.3 131.1h0.85M59.5 55.5h0.85M90.6 139.5h0.85M87.9 148.3h0.85M89.6 127.4h0.85M57.9 70.8h0.85M90.6 153.1h0.85M88.2 118.6h0.85M87.2 117.3h0.85M77.9 169.2h0.85M61.7 88.2h0.85M87.4 150.3h0.85M58.2 141.9h0.85M88.3 115.6h0.85M87.7 127.0h0.85M87.6 112.0h0.85M92.3 55.7h0.85M91.4 60.8h0.85M85.8 159.5h0.85M64.0 159.3h0.85M63.6 50.8h0.85M83.0 90.2h0.85M57.7 80.3h0.85M87.7 151.1h0.85M83.8 44.0h0.85M57.9 83.6h0.85M90.4 118.3h0.85M57.5 63.2h0.85M88.0 149.6h0.85M61.6 84.4h0.85M90.6 132.4h0.85M62.6 121.5h0.85M91.9 52.8h0.85M85.8 74.0h0.85M88.0 72.5h0.85M85.2 162.7h0.85M80.4 165.5h0.85M87.6 74.4h0.85M62.2 127.0h0.85M62.7 108.2h0.85M62.4 128.7h0.85M79.6 168.2h0.85M62.3 142.5h0.85M61.4 86.9h0.85M61.1 141.1h0.85M59.5 155.2h0.85M66.4 50.3h0.85M88.4 119.3h0.85M85.8 80.4h0.85M88.7 108.9h0.85M88.1 113.3h0.85M60.8 98.5h0.85M84.1 92.1h0.85M85.1 102.3h0.85M88.5 127.8h0.85M83.2 86.9h0.85M89.6 130.9h0.85M63.5 54.7h0.85M89.2 114.2h0.85M83.2 85.1h0.85M65.6 46.6h0.85M59.7 57.2h0.85M62.4 88.5h0.85M84.2 91.5h0.85M56.6 63.4h0.85M91.8 131.3h0.85M61.8 157.2h0.85M62.3 88.9h0.85M85.3 95.7h0.85M63.7 91.1h0.85M90.3 145.0h0.85M76.6 47.5h0.85M59.6 74.6h0.85M92.8 51.0h0.85M65.1 162.2h0.85M80.8 168.4h0.85M62.2 134.3h0.85M61.9 127.5h0.85M61.7 134.6h0.85M61.4 141.5h0.85M60.5 56.1h0.85M59.2 71.4h0.85M61.4 147.0h0.85M92.8 51.5h0.85M95.4 50.6h0.85M61.7 113.2h0.85M88.6 159.5h0.85M63.3 117.0h0.85M58.2 72.6h0.85M59.2 99.4h0.85M91.6 57.2h0.85M88.1 138.5h0.85M79.3 43.9h0.85M87.6 96.4h0.85M79.2 46.3h0.85M59.9 87.8h0.85M84.6 44.8h0.85M91.5 57.9h0.85M89.4 66.2h0.85M88.9 44.9h0.85M62.4 114.7h0.85M87.7 143.4h0.85M66.5 161.0h0.85M60.5 73.2h0.85M61.9 125.0h0.85M89.4 139.4h0.85M75.2 171.0h0.85M62.4 147.8h0.85M89.9 116.8h0.85M84.1 162.0h0.85M60.3 109.9h0.85M62.1 90.9h0.85M88.5 68.1h0.85M59.2 139.6h0.85M88.1 119.8h0.85M61.0 124.3h0.85M89.4 135.2h0.85M95.8 52.4h0.85M62.2 139.1h0.85M59.8 106.0h0.85M60.8 117.6h0.85M92.5 46.7h0.85M71.4 170.8h0.85M80.6 45.1h0.85M65.4 159.0h0.85M91.5 62.0h0.85M83.6 97.1h0.85M86.3 159.1h0.85M64.3 165.1h0.85M62.4 89.9h0.85M62.5 94.9h0.85M93.8 53.0h0.85M91.2 141.3h0.85M59.9 58.5h0.85M61.6 119.1h0.85M62.6 131.1h0.85M86.0 160.7h0.85M75.4 171.1h0.85M84.9 162.1h0.85M58.9 70.1h0.85M62.1 158.7h0.85M89.3 115.8h0.85M91.8 60.7h0.85M53.3 69.7h0.85M85.2 80.2h0.85M65.6 50.5h0.85M86.5 70.8h0.85M87.9 152.8h0.85M81.1 167.8h0.85M82.2 91.6h0.85M59.6 142.5h0.85M70.8 48.8h0.85M61.5 131.5h0.85M85.9 164.4h0.85M83.4 78.3h0.85M61.8 123.5h0.85M86.9 111.8h0.85M61.5 96.5h0.85M90.3 61.9h0.85M66.1 50.9h0.85M62.9 146.4h0.85M71.9 46.2h0.85M89.9 136.6h0.85M60.9 148.8h0.85M83.7 95.7h0.85M83.7 98.4h0.85M83.6 82.8h0.85M67.4 51.5h0.85M59.7 65.3h0.85M62.9 140.9h0.85M89.7 152.9h0.85M86.3 75.2h0.85M62.8 54.4h0.85M87.7 70.8h0.85M88.2 108.0h0.85M91.0 133.2h0.85M83.2 79.8h0.85M65.5 159.5h0.85M60.8 129.1h0.85M70.3 48.8h0.85M59.4 75.1h0.85M89.3 124.1h0.85M88.0 66.0h0.85M75.9 46.5h0.85M59.7 88.6h0.85M88.2 126.4h0.85M65.2 166.6h0.85M90.6 45.2h0.85M60.1 77.2h0.85M62.7 89.0h0.85M58.0 65.5h0.85M61.9 122.2h0.85M87.7 138.1h0.85M84.0 94.5h0.85M59.4 67.3h0.85M88.2 156.5h0.85M87.5 71.0h0.85M85.7 161.5h0.85M91.0 142.3h0.85M92.2 51.3h0.85M88.3 143.7h0.85M72.3 44.9h0.85M84.2 87.8h0.85M62.2 84.8h0.85M89.5 153.8h0.85M85.1 92.8h0.85M62.8 119.0h0.85M62.8 145.2h0.85M94.8 50.3h0.85M70.8 49.0h0.85M88.6 152.9h0.85M87.9 147.3h0.85M82.7 164.8h0.85M62.9 149.0h0.85M87.2 74.4h0.85M64.0 150.7h0.85M63.2 150.1h0.85M88.6 110.0h0.85M83.9 90.2h0.85M64.0 106.0h0.85M72.1 167.2h0.85M63.0 133.4h0.85M71.6 166.9h0.85M86.6 149.5h0.85M61.9 120.2h0.85M85.4 45.5h0.85M58.2 69.7h0.85M61.2 129.0h0.85M58.0 70.8h0.85M90.9 63.9h0.85M87.0 158.9h0.85M84.2 164.0h0.85M82.8 92.7h0.85M61.8 144.8h0.85M84.4 86.8h0.85M62.0 154.5h0.85M61.1 109.6h0.85M61.5 87.8h0.85M63.1 116.2h0.85M89.0 148.8h0.85M61.0 107.5h0.85M73.6 170.4h0.85M61.6 97.0h0.85M62.6 138.0h0.85M73.6 168.7h0.85M62.4 151.4h0.85M60.2 79.1h0.85M64.7 53.9h0.85M63.4 145.4h0.85M68.4 50.2h0.85M60.3 153.4h0.85M76.8 168.3h0.85M63.4 96.7h0.85M60.8 105.0h0.85M63.3 147.8h0.85M83.9 79.2h0.85M60.3 114.9h0.85M91.7 61.5h0.85M59.7 70.2h0.85M85.2 98.5h0.85M88.0 129.5h0.85M70.1 166.1h0.85M62.1 119.8h0.85M82.9 44.5h0.85M85.6 102.0h0.85M88.1 135.7h0.85M91.1 154.7h0.85M89.0 154.6h0.85M62.2 86.1h0.85M66.9 165.1h0.85M58.4 57.6h0.85M60.5 114.6h0.85M57.7 66.1h0.85M61.0 152.1h0.85M63.3 117.0h0.85M73.1 170.0h0.85M58.8 92.0h0.85M83.4 94.0h0.85M59.3 82.8h0.85M88.0 137.3h0.85M66.1 159.4h0.85M84.3 78.4h0.85M83.2 88.0h0.85M87.3 115.4h0.85M69.1 48.5h0.85M62.1 95.6h0.85M59.5 117.1h0.85M82.8 164.1h0.85M58.6 117.6h0.85M62.8 136.5h0.85M62.8 126.0h0.85M87.3 112.5h0.85M68.6 166.8h0.85M66.3 51.0h0.85M62.7 144.7h0.85M94.3 55.8h0.85M62.6 128.7h0.85M60.6 130.2h0.85M81.6 165.5h0.85M84.0 97.2h0.85M62.7 145.0h0.85M86.7 93.8h0.85M84.1 81.9h0.85M63.3 140.2h0.85M80.9 167.4h0.85M89.1 65.0h0.85M65.2 153.2h0.85M61.7 116.3h0.85M72.7 168.6h0.85M87.6 119.6h0.85M87.6 92.1h0.85M88.7 46.8h0.85M91.3 56.5h0.85M61.4 97.9h0.85M62.8 145.9h0.85M61.8 113.6h0.85M92.6 51.3h0.85M63.4 155.8h0.85M63.5 107.8h0.85M88.4 70.9h0.85M87.6 71.8h0.85M62.6 151.0h0.85M62.4 114.4h0.85M59.6 75.6h0.85M86.3 118.2h0.85M83.1 97.1h0.85M61.0 77.7h0.85M73.9 171.3h0.85M85.0 82.0h0.85M88.5 46.3h0.85M88.0 64.8h0.85M61.6 60.7h0.85M59.2 140.5h0.85M63.0 115.2h0.85M59.9 112.5h0.85M66.7 164.8h0.85M90.9 116.8h0.85M86.6 90.5h0.85M89.2 151.2h0.85M62.9 125.0h0.85M62.1 144.1h0.85M87.2 149.0h0.85M86.4 102.5h0.85M61.1 97.6h0.85M89.2 127.5h0.85M88.6 64.0h0.85M72.6 171.9h0.85M90.9 51.8h0.85M90.2 104.4h0.85M88.8 96.1h0.85M92.6 61.8h0.85M63.3 145.7h0.85M59.2 75.9h0.85M83.0 86.1h0.85M92.2 56.6h0.85M85.3 107.2h0.85M62.3 55.3h0.85M61.0 104.8h0.85M63.6 94.6h0.85M83.4 101.7h0.85M87.9 143.5h0.85M92.3 55.6h0.85M62.6 89.4h0.85M64.4 155.3h0.85M82.0 45.5h0.85M61.1 120.4h0.85M74.0 169.6h0.85M78.8 43.2h0.85M87.6 117.8h0.85M63.2 160.5h0.85M88.6 103.3h0.85M85.5 72.1h0.85M56.4 79.8h0.85M59.7 67.7h0.85M75.5 45.9h0.85M80.6 46.4h0.85M60.7 89.3h0.85M85.1 100.7h0.85M85.7 46.9h0.85M91.0 153.3h0.85M60.6 140.0h0.85M86.8 114.9h0.85M85.2 99.3h0.85M88.4 111.3h0.85M83.5 165.0h0.85M87.7 115.9h0.85M56.9 71.0h0.85M59.6 111.9h0.85M64.3 107.2h0.85M83.0 88.1h0.85M92.2 49.4h0.85M56.0 71.5h0.85M85.3 104.4h0.85M88.8 158.9h0.85M87.7 155.5h0.85M64.7 154.6h0.85M63.0 129.8h0.85M89.6 66.1h0.85M65.5 51.4h0.85M61.8 131.0h0.85M60.8 87.8h0.85M63.6 103.1h0.85M60.5 95.0h0.85M84.8 45.7h0.85M57.7 63.3h0.85M83.2 93.5h0.85M85.9 76.9h0.85M63.4 115.4h0.85M85.0 79.4h0.85M78.3 169.6h0.85M63.8 96.6h0.85M61.6 92.5h0.85M84.6 162.6h0.85M86.6 156.1h0.85M85.4 89.1h0.85M83.5 97.6h0.85M68.3 47.5h0.85M90.4 143.7h0.85M84.0 80.0h0.85M64.4 156.5h0.85M61.0 140.7h0.85M85.6 108.6h0.85M60.0 124.8h0.85M62.8 51.3h0.85M89.8 117.0h0.85M66.4 161.7h0.85M57.1 74.6h0.85M92.8 48.1h0.85M86.1 160.6h0.85M84.5 85.0h0.85M83.5 162.8h0.85M87.7 102.8h0.85M87.9 130.0h0.85M92.8 55.6h0.85M88.9 131.5h0.85M62.1 126.0h0.85M90.0 118.5h0.85M86.6 68.7h0.85M62.0 99.8h0.85M87.1 66.8h0.85M88.3 142.1h0.85M86.8 85.0h0.85M87.8 84.2h0.85M60.2 80.3h0.85M92.0 140.3h0.85M62.5 83.0h0.85M60.3 71.9h0.85M56.5 144.5h0.85M64.3 150.8h0.85M59.7 119.7h0.85M93.7 49.4h0.85M63.5 158.0h0.85M89.0 135.6h0.85M84.1 168.3h0.85M88.0 148.9h0.85M63.3 87.1h0.85M68.2 49.2h0.85M60.1 113.7h0.85M59.0 61.0h0.85M62.4 89.2h0.85M59.5 74.1h0.85M87.6 69.7h0.85M91.7 49.1h0.85M82.5 86.6h0.85M76.1 168.5h0.85M89.2 46.4h0.85M85.9 106.5h0.85M90.0 62.1h0.85M86.7 79.0h0.85M87.1 161.1h0.85M83.4 96.3h0.85M80.7 171.9h0.85M79.9 46.1h0.85M62.3 119.9h0.85M62.0 137.5h0.85M64.0 153.8h0.85M89.6 121.8h0.85M60.0 78.8h0.85M63.3 134.1h0.85M86.3 111.6h0.85M58.0 101.9h0.85M55.3 64.4h0.85M71.6 167.3h0.85M87.8 150.1h0.85M88.5 115.3h0.85M86.5 109.1h0.85M96.1 60.6h0.85M81.7 44.2h0.85M60.7 147.6h0.85M66.8 160.5h0.85M60.2 140.7h0.85M61.4 86.7h0.85M62.2 111.8h0.85M84.6 83.2h0.85M91.9 59.3h0.85M89.7 155.0h0.85M77.3 46.3h0.85M65.6 158.1h0.85M62.3 84.1h0.85M63.5 126.0h0.85M64.9 159.2h0.85M61.2 97.7h0.85M89.4 47.9h0.85M89.1 132.9h0.85M63.6 131.2h0.85M60.8 56.8h0.85M80.8 44.0h0.85M83.2 44.9h0.85M62.9 153.0h0.85M62.6 142.1h0.85M76.4 172.1h0.85M93.7 46.4h0.85M58.4 129.4h0.85M85.4 160.0h0.85M91.9 46.6h0.85M72.1 48.1h0.85M56.6 76.4h0.85M62.8 94.7h0.85M57.8 66.6h0.85M87.8 67.1h0.85M60.3 55.5h0.85M85.3 165.5h0.85M63.0 116.0h0.85M62.8 148.0h0.85M90.5 106.5h0.85M87.9 113.8h0.85M59.8 56.3h0.85M58.3 70.1h0.85M62.5 157.6h0.85M68.1 166.0h0.85M62.1 129.1h0.85M59.5 90.3h0.85M63.4 145.1h0.85M84.1 84.6h0.85M84.9 77.8h0.85M59.8 63.9h0.85M62.1 91.4h0.85M85.5 75.0h0.85M62.5 148.5h0.85M89.5 131.8h0.85M84.1 81.9h0.85M69.5 169.1h0.85M87.9 125.4h0.85M59.4 97.1h0.85M89.3 61.8h0.85M63.4 130.5h0.85M90.7 139.9h0.85M59.1 76.0h0.85M61.0 53.2h0.85M81.7 168.0h0.85M91.1 126.1h0.85M60.9 107.1h0.85M87.7 129.3h0.85M88.8 137.5h0.85M63.5 106.0h0.85M72.3 48.5h0.85M89.8 46.0h0.85M83.0 82.3h0.85M92.7 54.6h0.85M75.2 46.2h0.85M62.1 120.1h0.85M82.7 45.4h0.85M95.2 57.9h0.85M75.4 45.2h0.85M65.4 157.6h0.85M86.9 69.6h0.85M62.6 102.2h0.85M62.7 143.6h0.85M74.1 170.4h0.85M88.0 70.5h0.85M88.1 45.4h0.85M57.3 62.5h0.85M83.7 77.1h0.85M88.4 140.1h0.85M79.8 167.9h0.85M66.8 165.6h0.85M58.9 63.3h0.85M87.4 67.7h0.85M60.5 146.8h0.85M64.5 153.6h0.85M61.1 134.3h0.85M59.2 58.6h0.85M65.0 163.0h0.85M62.1 100.7h0.85M88.3 110.4h0.85M82.6 91.3h0.85M65.8 159.2h0.85M88.5 139.2h0.85M66.6 50.0h0.85M90.5 150.6h0.85M91.0 135.3h0.85M60.7 106.8h0.85M63.8 102.9h0.85M64.8 159.6h0.85M84.8 77.5h0.85M85.3 165.6h0.85M61.5 149.0h0.85M78.2 45.1h0.85M61.7 128.3h0.85M89.4 142.8h0.85M91.5 64.1h0.85M89.2 114.8h0.85M62.2 90.1h0.85M82.1 91.8h0.85M82.8 87.7h0.85M63.2 88.6h0.85M57.8 61.9h0.85M89.5 128.2h0.85M88.9 115.0h0.85M84.6 95.8h0.85M65.0 158.2h0.85M92.5 48.0h0.85M55.7 64.6h0.85M93.8 58.1h0.85M64.5 101.4h0.85M59.3 80.3h0.85M88.0 154.5h0.85M80.1 167.4h0.85M86.6 73.7h0.85M87.3 161.7h0.85M65.8 157.3h0.85M62.7 142.3h0.85M66.7 164.3h0.85M63.2 153.5h0.85M82.7 43.6h0.85M70.8 49.4h0.85M87.1 126.7h0.85M86.0 72.2h0.85M59.3 73.3h0.85M63.2 135.6h0.85M84.5 165.5h0.85M63.4 138.6h0.85M88.2 70.2h0.85M62.9 114.7h0.85M61.6 148.6h0.85M62.3 105.6h0.85M87.8 146.4h0.85M63.6 142.4h0.85M60.5 73.9h0.85M86.5 113.1h0.85M88.4 154.7h0.85M62.5 140.0h0.85M71.8 47.2h0.85M84.1 165.0h0.85M89.6 65.6h0.85M62.0 148.0h0.85M87.2 69.8h0.85M83.8 46.0h0.85M58.4 65.4h0.85M85.0 83.7h0.85M86.9 120.0h0.85M80.5 172.1h0.85M88.1 116.7h0.85M75.2 169.7h0.85M58.3 57.0h0.85M74.3 46.5h0.85M85.0 76.4h0.85M88.7 125.4h0.85M63.8 155.5h0.85M86.6 160.0h0.85M57.6 65.5h0.85M90.2 64.2h0.85M60.7 76.0h0.85M88.0 44.6h0.85M88.6 65.3h0.85M88.6 139.5h0.85M88.1 150.5h0.85M58.5 67.5h0.85M82.6 90.8h0.85M91.1 149.8h0.85M63.3 133.8h0.85M64.4 154.0h0.85M82.7 87.7h0.85M94.7 60.3h0.85M89.9 69.3h0.85M89.1 131.8h0.85M84.4 95.5h0.85M84.5 163.6h0.85M90.3 58.0h0.85M78.2 45.5h0.85M63.5 129.2h0.85M61.7 134.5h0.85M84.8 97.3h0.85M88.6 131.8h0.85M89.4 131.6h0.85M91.4 44.2h0.85M83.3 96.8h0.85M84.8 92.3h0.85M89.9 125.9h0.85M62.3 138.5h0.85M87.9 104.7h0.85M65.7 161.1h0.85M88.6 118.1h0.85M87.9 159.5h0.85M62.5 131.5h0.85M79.3 172.3h0.85M87.6 68.4h0.85M61.8 54.3h0.85M62.1 137.8h0.85M64.8 151.7h0.85M90.1 117.1h0.85M87.7 107.5h0.85M91.8 46.1h0.85M87.6 137.9h0.85M92.0 54.8h0.85M88.8 140.3h0.85M59.8 78.4h0.85M57.5 70.6h0.85M76.0 47.2h0.85M72.7 167.7h0.85M85.1 97.3h0.85M86.6 71.3h0.85M61.9 88.4h0.85M94.2 48.1h0.85M87.5 44.5h0.85M91.2 47.3h0.85M88.6 78.7h0.85M84.3 101.0h0.85M85.5 94.6h0.85M85.0 79.6h0.85M61.8 96.5h0.85M62.2 101.4h0.85M93.3 53.7h0.85M89.9 63.8h0.85M57.4 65.9h0.85M63.0 120.8h0.85M92.6 54.5h0.85M93.8 54.7h0.85M74.2 169.2h0.85M65.5 52.2h0.85M61.1 113.3h0.85M59.5 64.9h0.85M74.2 168.7h0.85M62.7 90.1h0.85M84.6 161.0h0.85M62.4 86.8h0.85M89.7 141.3h0.85M63.2 134.3h0.85M61.3 95.3h0.85M90.3 137.9h0.85M83.8 43.6h0.85M85.0 74.4h0.85M87.3 68.3h0.85M77.8 45.8h0.85M76.9 43.8h0.85M85.1 99.3h0.85M61.8 129.6h0.85M88.9 148.3h0.85M89.3 116.2h0.85M78.5 47.0h0.85M61.8 57.6h0.85M58.9 58.1h0.85M85.2 79.7h0.85M87.4 69.2h0.85M61.3 62.2h0.85M61.0 70.8h0.85M63.6 117.8h0.85M63.0 119.9h0.85M62.5 115.3h0.85M63.7 128.0h0.85M64.4 159.5h0.85M60.2 95.3h0.85M59.8 82.6h0.85M81.5 167.1h0.85M82.1 84.7h0.85M69.3 169.4h0.85M63.2 87.6h0.85M90.8 64.4h0.85M56.2 84.4h0.85M90.2 135.0h0.85M64.2 159.6h0.85M74.1 45.6h0.85M61.3 144.5h0.85M59.5 115.7h0.85M82.8 82.3h0.85M86.6 74.8h0.85M88.3 155.6h0.85M90.0 45.6h0.85M68.1 165.2h0.85M60.4 83.6h0.85M86.2 107.3h0.85M62.7 130.4h0.85M76.9 44.7h0.85M87.4 100.7h0.85M59.2 64.5h0.85M69.3 165.9h0.85M62.4 103.0h0.85M87.2 125.4h0.85M90.7 120.9h0.85M62.4 136.8h0.85M81.4 166.1h0.85M64.3 149.6h0.85M68.3 162.1h0.85M65.3 154.3h0.85M59.7 62.0h0.85M60.5 95.6h0.85M75.0 170.5h0.85M89.0 126.0h0.85M61.6 126.0h0.85M65.0 161.5h0.85M63.2 105.2h0.85M61.6 119.0h0.85M92.8 47.4h0.85M62.0 123.1h0.85M69.9 164.8h0.85M88.4 47.1h0.85M60.7 69.8h0.85M88.8 74.8h0.85M62.4 99.2h0.85M87.9 127.7h0.85M58.6 72.9h0.85M63.9 103.1h0.85M91.3 66.3h0.85M69.1 165.8h0.85M61.5 112.3h0.85M62.5 86.0h0.85M85.3 97.9h0.85M88.9 152.5h0.85M62.3 85.4h0.85M58.6 79.4h0.85M62.2 110.7h0.85M89.6 139.8h0.85M89.7 124.9h0.85M63.2 128.2h0.85M69.5 166.1h0.85M83.0 87.2h0.85M89.9 149.8h0.85M80.7 172.2h0.85M57.1 66.7h0.85M75.6 43.7h0.85M76.4 169.2h0.85M60.3 90.2h0.85M84.5 46.4h0.85M63.1 112.7h0.85M80.6 166.6h0.85M89.4 75.1h0.85M69.9 49.6h0.85M64.5 54.6h0.85M92.2 60.0h0.85M63.3 97.3h0.85M89.6 156.1h0.85M83.6 92.6h0.85M87.9 147.4h0.85M84.6 79.7h0.85M84.0 46.0h0.85M61.6 88.9h0.85M92.0 113.8h0.85M61.4 118.2h0.85M85.1 99.9h0.85M84.4 88.4h0.85M86.9 99.3h0.85M89.1 67.2h0.85M89.7 142.7h0.85M84.5 97.2h0.85M73.6 46.0h0.85M84.8 161.1h0.85M73.8 45.3h0.85M89.8 152.1h0.85M82.4 85.1h0.85M58.4 68.1h0.85M62.5 128.4h0.85M87.2 95.9h0.85M58.6 68.7h0.85M85.2 102.1h0.85M62.0 118.3h0.85M88.9 155.9h0.85M85.2 45.0h0.85M58.8 78.2h0.85M64.2 99.6h0.85M73.5 169.1h0.85M63.4 100.2h0.85M84.2 75.2h0.85M63.3 94.9h0.85M82.7 164.7h0.85M63.1 126.9h0.85M58.6 61.8h0.85M86.0 92.5h0.85M63.1 127.9h0.85M87.2 157.0h0.85M63.8 96.9h0.85M87.6 141.0h0.85M58.4 72.1h0.85M73.1 47.0h0.85M89.1 155.0h0.85M80.0 167.9h0.85M88.4 108.6h0.85M83.7 93.9h0.85M60.5 85.5h0.85M59.6 63.5h0.85M65.8 156.6h0.85M62.0 142.4h0.85M60.7 61.8h0.85M61.3 103.0h0.85M87.6 68.1h0.85M73.5 49.1h0.85M62.2 140.0h0.85M59.8 130.7h0.85M66.4 52.1h0.85M63.4 105.2h0.85M79.8 44.8h0.85M92.3 147.0h0.85M87.0 112.7h0.85M83.8 89.7h0.85M63.2 155.9h0.85M90.1 154.1h0.85M59.1 73.9h0.85M78.1 171.7h0.85M62.9 104.7h0.85M88.8 139.1h0.85M86.4 101.3h0.85M87.5 108.9h0.85M87.1 157.3h0.85M61.4 142.9h0.85M88.4 154.5h0.85M60.0 81.0h0.85M61.0 79.1h0.85M83.0 94.0h0.85M87.6 122.6h0.85M60.6 83.4h0.85M89.9 147.0h0.85M80.7 45.8h0.85M90.3 125.7h0.85M62.8 137.2h0.85M86.8 69.1h0.85M88.0 115.4h0.85M76.4 170.2h0.85M86.0 165.8h0.85M90.0 149.5h0.85M89.0 118.0h0.85M89.3 66.2h0.85M88.0 45.4h0.85M89.0 144.5h0.85M89.6 66.8h0.85M60.0 58.0h0.85M63.9 55.6h0.85M74.6 47.2h0.85M87.9 135.7h0.85M86.8 102.9h0.85M59.9 64.6h0.85M71.3 46.6h0.85M86.0 164.3h0.85M58.1 79.0h0.85M59.6 79.5h0.85M92.3 131.7h0.85M88.0 143.2h0.85M88.4 141.1h0.85M60.5 52.3h0.85M67.8 169.7h0.85M91.4 151.7h0.85M92.7 51.6h0.85M82.3 91.9h0.85M81.5 44.5h0.85M89.2 70.0h0.85M63.6 151.4h0.85M85.4 44.8h0.85M62.2 100.6h0.85M93.2 51.8h0.85M59.6 127.5h0.85M59.0 138.9h0.85M83.8 77.6h0.85M88.0 120.2h0.85M91.8 141.4h0.85M62.4 85.8h0.85M88.3 43.8h0.85M84.8 76.0h0.85M90.3 119.5h0.85M58.7 69.5h0.85M62.9 143.6h0.85M86.5 73.2h0.85M62.5 137.3h0.85M84.2 95.6h0.85M90.5 136.2h0.85M88.1 114.7h0.85M64.5 157.6h0.85M83.9 92.9h0.85M59.7 64.1h0.85M89.5 134.7h0.85M86.3 79.8h0.85M62.9 104.6h0.85M58.8 59.8h0.85M84.1 45.5h0.85M62.6 139.8h0.85M82.7 89.2h0.85M60.0 73.5h0.85M78.6 44.6h0.85M84.4 74.0h0.85M58.4 113.7h0.85M90.2 146.7h0.85M93.9 54.5h0.85M63.5 155.6h0.85M90.4 160.1h0.85M61.0 132.8h0.85M60.7 86.3h0.85M87.9 45.0h0.85M86.9 107.4h0.85M85.6 101.7h0.85M91.6 53.3h0.85M64.4 107.1h0.85M82.7 94.3h0.85M63.1 94.9h0.85M58.1 67.3h0.85M90.6 122.8h0.85M92.1 47.5h0.85M64.3 136.6h0.85M62.6 89.4h0.85M59.8 103.4h0.85M94.5 54.0h0.85M61.5 155.3h0.85M89.1 65.5h0.85M70.5 168.3h0.85M62.7 113.0h0.85M87.3 154.5h0.85M59.4 152.6h0.85M66.4 51.0h0.85M86.1 108.3h0.85M69.9 168.0h0.85M62.8 134.0h0.85M59.1 72.3h0.85M91.3 61.3h0.85M88.8 118.5h0.85M61.1 84.2h0.85M88.4 43.6h0.85M69.8 167.8h0.85M88.7 105.5h0.85M59.7 65.9h0.85M61.3 105.1h0.85M66.4 161.9h0.85M88.7 120.9h0.85M71.6 168.3h0.85M62.5 130.0h0.85M62.0 90.2h0.85M72.5 46.8h0.85M68.8 164.9h0.85M83.8 97.8h0.85M89.1 46.8h0.85M64.1 104.7h0.85M62.7 157.4h0.85M84.5 79.0h0.85M84.4 101.6h0.85M88.7 127.9h0.85M61.1 151.0h0.85M80.9 166.2h0.85M64.2 52.4h0.85M60.7 78.2h0.85M65.0 158.7h0.85M61.5 116.2h0.85M61.4 97.0h0.85M86.3 45.7h0.85M89.3 118.4h0.85M62.9 116.3h0.85M68.6 50.6h0.85M61.8 140.2h0.85M77.7 45.9h0.85M80.9 169.6h0.85M68.1 48.3h0.85M58.8 85.0h0.85M84.0 80.8h0.85M56.5 77.1h0.85M85.5 96.5h0.85M81.4 168.0h0.85M93.2 108.8h0.85M82.6 164.2h0.85M61.5 145.8h0.85M87.9 152.4h0.85M59.5 120.3h0.85M88.0 141.2h0.85M61.6 114.4h0.85M89.5 145.3h0.85M63.6 118.9h0.85M89.1 67.9h0.85M62.0 90.8h0.85M89.1 122.1h0.85M59.7 128.4h0.85M88.3 148.2h0.85M89.8 146.7h0.85M75.8 46.6h0.85M90.2 134.1h0.85M80.9 167.3h0.85M88.7 45.2h0.85M89.9 71.6h0.85M67.1 48.6h0.85M63.7 104.0h0.85M57.0 91.1h0.85M62.7 115.8h0.85M90.0 61.2h0.85M62.0 109.0h0.85M60.0 88.0h0.85M81.8 45.2h0.85M91.9 130.9h0.85M64.0 100.8h0.85M83.1 42.3h0.85M58.7 129.4h0.85M62.6 98.8h0.85M90.2 47.5h0.85M62.0 131.0h0.85M62.1 137.0h0.85M63.7 51.7h0.85M85.2 44.2h0.85M79.0 167.6h0.85M91.5 142.1h0.85M57.8 69.8h0.85M91.3 140.9h0.85M87.6 160.2h0.85M82.6 45.9h0.85M84.0 92.1h0.85M61.4 116.4h0.85M91.5 130.7h0.85M61.8 100.0h0.85M60.1 145.3h0.85M88.3 128.2h0.85M60.0 80.7h0.85M62.2 136.9h0.85M61.7 101.0h0.85M75.4 44.4h0.85M57.7 70.5h0.85M86.8 154.9h0.85M80.6 166.3h0.85M63.4 131.8h0.85M87.4 148.1h0.85M82.3 85.4h0.85M82.1 164.2h0.85M61.1 56.9h0.85M58.4 70.0h0.85M82.6 83.4h0.85M89.1 120.7h0.85M88.6 144.5h0.85M81.4 45.2h0.85M90.0 63.8h0.85M91.6 128.8h0.85M72.0 168.5h0.85M62.9 147.4h0.85M87.2 157.3h0.85M63.9 97.4h0.85M87.9 145.7h0.85M60.1 67.5h0.85M65.3 50.8h0.85M60.2 137.2h0.85M62.6 55.3h0.85M63.7 102.0h0.85M88.1 151.4h0.85M61.1 102.7h0.85M63.8 106.6h0.85M59.5 104.9h0.85M60.6 58.1h0.85M63.5 161.7h0.85M85.6 98.6h0.85M57.7 66.1h0.85M84.7 78.8h0.85M59.9 81.2h0.85M86.5 71.9h0.85M67.6 50.6h0.85M60.1 116.9h0.85M92.8 55.7h0.85M86.7 46.1h0.85M61.3 52.7h0.85M58.2 66.2h0.85M61.2 143.2h0.85M62.4 128.9h0.85M93.2 61.1h0.85M65.4 161.6h0.85M59.2 75.5h0.85M87.1 158.7h0.85M89.7 46.1h0.85M63.0 142.3h0.85M80.6 167.8h0.85M62.9 144.0h0.85M91.0 126.8h0.85M89.2 146.1h0.85M89.6 99.9h0.85M83.0 164.9h0.85M85.8 86.8h0.85M84.4 99.3h0.85M88.3 46.1h0.85M93.6 51.2h0.85M89.3 124.2h0.85M87.7 154.7h0.85M91.6 49.9h0.85M75.3 171.8h0.85M63.7 155.5h0.85M88.5 119.9h0.85M90.6 108.8h0.85M83.0 86.9h0.85M63.2 116.1h0.85M64.0 158.3h0.85M59.2 68.0h0.85M61.0 125.4h0.85M58.2 82.3h0.85M87.4 117.3h0.85M61.8 122.9h0.85M62.3 108.8h0.85M61.5 110.9h0.85M61.8 81.8h0.85M91.7 45.8h0.85M73.0 42.7h0.85M57.0 58.7h0.85M88.3 158.5h0.85M69.5 169.6h0.85M91.7 60.1h0.85M80.6 169.4h0.85M84.3 90.6h0.85M60.8 140.7h0.85M91.2 50.9h0.85M87.5 72.4h0.85M63.3 108.9h0.85M88.6 150.2h0.85M95.7 52.5h0.85M93.5 54.8h0.85M87.5 108.4h0.85M59.8 73.0h0.85M88.6 147.1h0.85M85.7 158.2h0.85M87.3 155.3h0.85M93.2 58.5h0.85M85.1 77.4h0.85M61.2 59.4h0.85M92.6 54.3h0.85M70.1 165.3h0.85M87.1 105.8h0.85M60.7 118.6h0.85M90.4 68.5h0.85M63.1 104.7h0.85M70.5 47.4h0.85M62.6 135.0h0.85M85.1 163.7h0.85M88.9 141.1h0.85M86.1 160.4h0.85M82.9 97.8h0.85M62.1 156.3h0.85M78.3 46.1h0.85M63.6 150.9h0.85M64.6 154.7h0.85M58.2 98.9h0.85M94.2 51.4h0.85M68.9 165.6h0.85M90.3 122.6h0.85M89.8 148.4h0.85M58.6 81.1h0.85M61.3 99.0h0.85M59.2 78.1h0.85M58.1 66.5h0.85M63.2 99.8h0.85M71.1 170.9h0.85M85.4 74.2h0.85M88.2 150.1h0.85M58.4 68.0h0.85M82.9 82.3h0.85M91.0 60.4h0.85M61.2 121.3h0.85M60.2 73.1h0.85M73.1 47.6h0.85M63.7 121.3h0.85M61.6 103.7h0.85M58.0 58.1h0.85M61.6 85.9h0.85M62.1 56.1h0.85M90.1 64.0h0.85M83.2 163.6h0.85M61.8 99.3h0.85M90.3 106.1h0.85M60.5 106.0h0.85M57.8 72.9h0.85M59.9 77.4h0.85M86.6 107.1h0.85M63.6 103.6h0.85M88.0 112.2h0.85M58.8 76.3h0.85M72.0 169.4h0.85M63.9 106.5h0.85M92.5 61.3h0.85M94.5 62.2h0.85M90.8 145.2h0.85M64.7 156.6h0.85M91.6 59.9h0.85M84.8 100.3h0.85M88.0 145.5h0.85M61.4 139.7h0.85M59.1 76.4h0.85M62.9 115.3h0.85M58.1 72.0h0.85M57.0 72.7h0.85M56.3 62.4h0.85M64.1 94.4h0.85M62.7 127.1h0.85M76.7 172.3h0.85M62.3 120.3h0.85M58.5 71.3h0.85M90.4 137.0h0.85M87.9 115.9h0.85M62.7 80.5h0.85M60.3 141.2h0.85M91.8 58.3h0.85M86.6 96.7h0.85M87.7 67.3h0.85M59.7 66.5h0.85M96.4 53.7h0.85M77.8 46.6h0.85M88.2 133.3h0.85M89.4 143.1h0.85M81.4 45.3h0.85M89.8 157.5h0.85M63.4 133.6h0.85M62.3 109.1h0.85M88.4 71.9h0.85M57.6 114.2h0.85M62.1 137.3h0.85M60.1 83.4h0.85M72.6 170.4h0.85M92.7 54.6h0.85M62.1 135.6h0.85M63.9 105.3h0.85M61.2 133.1h0.85M79.1 170.5h0.85M60.0 110.2h0.85M59.1 81.8h0.85M89.8 152.7h0.85M90.3 135.0h0.85M71.2 169.6h0.85M60.0 142.6h0.85M82.3 89.3h0.85M91.6 47.5h0.85M87.2 159.1h0.85M63.6 142.5h0.85M90.9 46.9h0.85M85.5 74.2h0.85M59.4 63.0h0.85M82.1 169.0h0.85M60.0 70.3h0.85M60.9 123.0h0.85M84.4 46.4h0.85M93.9 57.2h0.85M67.3 50.8h0.85M60.4 90.0h0.85M90.2 129.3h0.85M85.3 89.9h0.85M85.2 166.8h0.85M61.3 142.9h0.85M90.1 153.2h0.85M83.3 45.1h0.85M87.3 113.9h0.85M89.1 123.9h0.85M63.2 156.0h0.85M63.3 141.6h0.85M87.8 130.8h0.85M85.9 102.4h0.85M90.2 132.2h0.85M94.4 61.7h0.85M73.3 45.3h0.85M88.7 68.0h0.85M67.4 163.4h0.85M66.9 168.1h0.85M88.2 46.4h0.85M58.9 123.5h0.85M60.8 90.6h0.85M83.4 87.6h0.85M87.7 152.4h0.85M91.5 124.7h0.85M90.2 118.5h0.85M59.4 59.1h0.85M62.5 144.2h0.85M62.6 134.1h0.85M60.7 82.1h0.85M86.4 153.5h0.85M88.3 67.1h0.85M63.1 133.5h0.85M88.7 131.2h0.85M58.0 63.8h0.85M59.0 58.2h0.85M88.7 127.0h0.85M61.8 87.4h0.85M60.9 124.0h0.85M91.3 128.1h0.85M62.4 141.0h0.85M89.1 120.6h0.85M63.5 96.5h0.85M62.6 102.0h0.85M59.1 64.6h0.85M86.8 46.8h0.85M62.1 129.5h0.85M92.0 54.4h0.85M62.6 98.6h0.85M70.9 170.5h0.85M90.3 154.6h0.85M71.8 168.7h0.85M59.5 72.7h0.85M71.5 167.7h0.85M57.8 64.1h0.85M61.7 115.6h0.85M59.8 57.6h0.85M57.8 83.8h0.85M83.9 45.9h0.85M90.0 131.2h0.85M89.1 124.8h0.85M89.0 110.1h0.85M82.6 169.4h0.85M60.7 91.9h0.85M88.2 67.4h0.85M85.3 88.1h0.85M86.8 105.3h0.85M62.1 85.4h0.85M91.6 48.0h0.85M61.4 131.2h0.85M89.6 73.1h0.85M62.2 93.1h0.85M58.1 75.2h0.85M63.0 151.4h0.85M62.9 145.9h0.85M92.3 50.2h0.85M63.2 99.0h0.85M62.9 129.3h0.85M81.2 46.1h0.85M88.1 156.4h0.85M86.4 152.2h0.85M87.8 71.3h0.85M64.6 52.7h0.85M91.6 49.6h0.85M59.1 145.6h0.85M83.1 93.7h0.85M60.5 97.8h0.85M92.9 56.8h0.85M91.0 118.1h0.85M91.9 59.0h0.85M84.4 95.2h0.85M60.6 94.9h0.85M61.5 103.0h0.85M57.1 65.6h0.85M85.3 85.9h0.85M63.4 53.9h0.85M61.5 103.8h0.85M75.0 171.0h0.85M85.6 166.8h0.85M73.6 168.4h0.85M62.5 116.4h0.85M81.5 46.8h0.85M59.1 71.2h0.85M93.0 55.0h0.85M91.9 54.5h0.85M61.0 114.7h0.85M90.7 152.2h0.85M71.7 166.9h0.85M88.9 131.3h0.85M72.6 170.4h0.85M62.8 128.2h0.85M61.0 119.0h0.85M62.7 126.5h0.85M63.3 102.3h0.85M61.3 115.8h0.85M60.9 130.6h0.85M63.2 112.0h0.85M67.5 49.7h0.85M60.0 76.7h0.85M78.4 168.8h0.85M89.5 152.1h0.85M61.1 95.4h0.85M86.7 112.3h0.85M61.9 100.8h0.85M88.7 111.2h0.85M58.2 65.3h0.85M56.7 62.7h0.85M84.8 163.0h0.85M59.4 87.0h0.85M83.3 162.8h0.85M87.1 156.7h0.85M71.2 47.7h0.85M87.8 123.4h0.85M86.0 161.2h0.85M91.8 57.1h0.85M73.3 168.9h0.85M87.7 119.2h0.85M60.0 73.3h0.85M87.0 76.2h0.85M62.1 82.7h0.85M63.1 99.2h0.85M82.0 46.0h0.85M62.3 123.6h0.85M90.6 61.5h0.85M90.3 131.1h0.85M88.8 125.4h0.85M94.0 57.3h0.85M59.9 111.3h0.85M62.9 126.7h0.85M89.5 67.0h0.85M89.6 129.8h0.85M61.7 113.1h0.85M60.3 125.9h0.85M66.2 163.6h0.85M73.3 170.0h0.85M60.9 84.7h0.85M65.4 160.7h0.85M86.6 114.4h0.85M93.2 146.7h0.85M91.8 131.2h0.85M90.0 64.0h0.85M81.6 43.6h0.85M60.0 72.5h0.85M84.6 163.1h0.85M64.2 54.9h0.85M59.2 112.7h0.85M59.8 120.3h0.85M84.8 161.5h0.85M86.8 155.5h0.85M85.2 163.3h0.85M59.7 114.9h0.85M57.9 74.1h0.85M85.4 101.3h0.85M63.6 115.6h0.85M59.1 94.2h0.85M88.4 106.8h0.85M86.8 161.0h0.85M58.4 65.5h0.85M81.1 169.1h0.85M62.4 127.1h0.85M83.6 45.6h0.85M89.7 104.4h0.85M84.6 46.7h0.85M84.0 79.6h0.85M86.3 75.5h0.85M60.0 141.0h0.85M96.3 56.8h0.85M86.2 159.6h0.85M73.1 45.4h0.85M64.8 162.1h0.85M64.7 151.2h0.85M93.5 57.3h0.85M90.1 64.6h0.85M61.5 115.9h0.85M63.1 92.6h0.85M62.3 88.9h0.85M64.3 154.9h0.85M88.8 136.1h0.85M62.2 127.5h0.85M85.9 103.9h0.85M74.0 171.1h0.85M58.1 58.2h0.85M84.0 81.6h0.85M59.4 57.4h0.85M58.7 126.1h0.85M96.6 55.7h0.85M61.1 91.4h0.85M79.3 167.6h0.85M59.3 85.9h0.85M89.9 141.5h0.85M87.5 108.1h0.85M84.9 98.0h0.85M62.1 116.9h0.85M85.3 163.6h0.85M83.7 89.6h0.85M57.5 142.4h0.85M94.5 48.1h0.85M91.4 122.1h0.85M88.2 124.9h0.85M86.5 105.1h0.85M78.3 172.7h0.85M60.4 88.0h0.85M87.9 73.6h0.85M62.5 145.8h0.85M89.7 66.2h0.85M87.0 104.7h0.85M57.0 60.1h0.85M89.6 64.2h0.85M68.9 50.0h0.85M90.5 127.0h0.85M61.3 111.7h0.85M63.0 114.0h0.85M63.2 91.5h0.85M88.1 152.2h0.85M81.7 46.9h0.85M61.3 108.9h0.85M61.3 121.7h0.85M91.9 46.6h0.85M81.8 168.0h0.85M61.8 120.2h0.85M55.5 70.8h0.85M95.2 59.6h0.85M61.9 132.7h0.85M87.3 108.6h0.85M65.3 160.5h0.85M58.7 68.7h0.85M60.3 145.6h0.85M62.5 125.5h0.85M64.2 53.0h0.85M62.9 125.7h0.85M63.9 103.8h0.85M62.5 148.8h0.85M90.3 141.4h0.85M92.0 121.8h0.85M58.3 119.3h0.85M61.1 153.9h0.85M88.9 133.1h0.85M90.1 139.0h0.85M63.9 110.6h0.85M62.0 108.7h0.85M62.8 85.9h0.85M60.4 141.0h0.85M59.8 62.0h0.85M59.6 82.3h0.85M85.7 99.9h0.85M59.3 96.2h0.85M72.9 46.4h0.85M62.1 95.8h0.85M85.8 159.2h0.85M92.1 47.3h0.85M89.0 144.7h0.85M70.1 47.1h0.85M59.6 136.6h0.85M92.3 126.5h0.85M69.8 164.5h0.85M58.9 66.3h0.85M89.0 63.4h0.85M66.3 159.0h0.85M82.9 165.0h0.85M69.2 168.5h0.85M72.9 171.1h0.85M62.6 98.8h0.85M87.2 77.4h0.85M64.6 152.2h0.85M61.9 130.1h0.85M93.4 53.4h0.85M59.4 56.4h0.85M87.8 150.9h0.85M75.2 45.0h0.85M59.3 87.2h0.85M58.5 143.3h0.85M59.9 104.6h0.85M89.4 48.3h0.85M81.1 45.8h0.85M55.5 63.1h0.85M64.9 52.0h0.85M91.9 152.3h0.85M83.5 163.5h0.85M60.0 67.7h0.85M87.6 99.8h0.85M74.9 46.7h0.85M90.6 139.6h0.85M63.0 156.1h0.85M55.3 66.5h0.85M92.2 56.1h0.85M59.9 79.7h0.85M60.2 102.5h0.85M90.2 117.8h0.85M61.0 86.6h0.85M63.7 151.3h0.85M57.6 72.0h0.85M85.3 46.2h0.85M86.5 72.0h0.85M61.5 107.3h0.85M62.7 55.6h0.85M86.1 44.8h0.85M89.9 129.3h0.85M58.8 129.6h0.85M59.0 71.8h0.85M85.6 108.2h0.85M85.6 166.2h0.85M90.6 63.2h0.85M91.8 59.3h0.85M92.6 61.8h0.85M86.6 45.7h0.85M56.6 57.7h0.85M69.7 165.4h0.85M89.1 82.3h0.85M61.0 77.8h0.85M88.3 149.9h0.85M89.1 66.2h0.85M89.5 64.0h0.85M63.4 143.8h0.85M88.7 155.9h0.85M59.6 86.3h0.85M61.9 100.9h0.85M82.3 83.6h0.85M83.7 89.7h0.85M79.5 170.9h0.85M62.0 129.8h0.85M87.8 121.8h0.85M88.7 118.6h0.85M84.3 93.2h0.85M96.5 55.6h0.85M57.5 72.7h0.85M63.2 103.3h0.85M60.7 82.4h0.85M90.1 115.7h0.85M86.7 101.5h0.85M65.1 150.5h0.85M87.4 139.5h0.85M59.7 63.7h0.85M61.6 108.1h0.85M61.9 127.6h0.85M92.6 53.8h0.85M87.2 111.0h0.85M75.4 46.3h0.85M63.9 156.5h0.85M78.9 167.5h0.85M61.2 120.1h0.85M63.4 143.9h0.85M84.4 79.9h0.85M60.9 80.3h0.85M58.7 63.4h0.85M93.5 55.8h0.85M83.3 82.7h0.85M62.4 130.2h0.85M74.6 45.0h0.85M91.7 54.6h0.85M82.1 166.1h0.85M61.5 129.3h0.85M90.0 151.3h0.85M85.5 159.6h0.85M89.1 63.7h0.85M89.6 127.5h0.85M90.1 153.7h0.85M90.9 52.1h0.85M83.6 95.9h0.85M84.2 102.7h0.85M60.9 102.2h0.85M84.5 88.0h0.85M89.3 155.6h0.85M58.5 77.3h0.85M82.1 164.5h0.85M59.1 72.5h0.85M94.6 61.5h0.85M92.4 50.7h0.85M57.3 65.2h0.85M63.7 105.3h0.85M87.2 90.9h0.85M66.3 159.3h0.85M68.9 165.5h0.85M85.9 90.2h0.85M58.4 112.7h0.85M57.2 82.0h0.85M85.3 163.6h0.85M62.2 134.4h0.85M89.3 109.0h0.85M62.5 82.9h0.85M63.8 149.4h0.85M83.2 93.1h0.85M61.2 128.5h0.85M87.3 111.4h0.85M92.0 59.4h0.85M88.7 137.1h0.85M83.4 90.6h0.85M95.0 54.0h0.85M87.1 71.2h0.85M66.2 167.0h0.85M70.4 48.1h0.85M86.4 77.0h0.85M64.6 155.6h0.85M84.1 87.7h0.85M65.8 52.7h0.85M89.5 122.4h0.85M84.9 95.8h0.85M89.1 128.5h0.85M56.9 67.4h0.85M85.3 93.9h0.85M91.0 126.8h0.85M92.8 154.0h0.85M59.7 74.7h0.85M63.6 54.9h0.85M89.9 48.8h0.85M76.8 46.6h0.85M86.1 107.4h0.85M61.7 91.4h0.85M62.7 94.3h0.85M89.0 135.2h0.85M59.8 75.7h0.85M76.8 172.7h0.85M61.8 104.8h0.85M62.9 124.3h0.85M62.1 138.4h0.85M62.7 119.9h0.85M88.1 104.9h0.85M58.5 67.7h0.85M60.9 55.3h0.85M62.8 118.7h0.85M69.7 168.2h0.85M71.8 47.1h0.85M62.7 100.8h0.85M71.8 167.7h0.85M89.5 129.8h0.85M59.9 63.9h0.85M60.0 68.2h0.85M62.2 159.1h0.85M61.9 155.6h0.85M85.0 81.2h0.85M59.4 130.3h0.85M58.6 58.0h0.85M90.5 61.5h0.85M84.9 78.9h0.85M89.3 134.3h0.85M83.0 90.6h0.85M90.7 48.0h0.85M63.1 146.1h0.85M88.1 117.7h0.85M67.4 49.3h0.85M71.9 169.8h0.85M60.9 143.4h0.85M88.1 99.4h0.85M84.8 101.2h0.85M67.3 50.7h0.85M90.9 159.9h0.85M89.7 139.5h0.85M60.5 66.1h0.85M58.9 117.4h0.85M61.1 126.0h0.85M88.5 125.0h0.85M61.5 132.0h0.85M61.4 113.3h0.85M62.6 113.9h0.85M87.7 127.0h0.85M57.3 65.3h0.85M77.3 168.6h0.85M70.7 168.1h0.85M85.8 103.6h0.85M62.7 120.9h0.85M89.2 46.5h0.85M88.5 157.7h0.85M61.7 111.9h0.85M58.7 76.9h0.85M87.5 162.0h0.85M92.9 47.7h0.85M61.7 108.4h0.85M61.2 53.9h0.85M62.1 110.9h0.85M61.3 116.5h0.85M63.8 111.9h0.85M60.4 62.7h0.85M90.5 124.7h0.85M87.6 70.7h0.85M89.3 101.2h0.85M67.6 49.2h0.85M88.8 81.8h0.85M89.0 147.3h0.85M89.6 149.4h0.85M84.8 79.1h0.85M63.6 161.7h0.85M89.0 111.0h0.85M62.0 89.0h0.85M83.9 92.0h0.85M64.2 51.6h0.85M93.6 52.4h0.85M62.3 124.9h0.85M62.3 147.9h0.85M71.9 170.7h0.85M89.0 142.1h0.85M84.8 100.5h0.85M65.0 155.5h0.85M69.7 165.2h0.85M60.8 125.2h0.85M83.7 99.1h0.85M95.1 49.9h0.85M60.2 86.3h0.85M73.0 169.3h0.85M84.0 83.2h0.85M93.7 149.9h0.85M91.0 134.3h0.85M74.8 169.9h0.85M83.4 81.9h0.85M58.5 82.7h0.85M88.5 80.7h0.85M85.5 103.9h0.85M62.9 116.3h0.85M77.7 43.3h0.85M84.5 76.9h0.85M91.9 47.3h0.85M87.6 108.7h0.85M61.1 91.1h0.85M75.9 45.4h0.85M79.2 167.3h0.85M58.6 74.7h0.85M75.4 45.0h0.85M58.6 78.3h0.85M83.3 162.5h0.85M91.5 124.1h0.85M62.6 124.9h0.85M56.5 73.4h0.85M90.1 131.5h0.85M84.7 84.2h0.85M89.7 140.9h0.85M83.1 90.7h0.85M90.6 136.3h0.85M76.3 171.3h0.85M60.4 141.8h0.85M85.4 80.8h0.85M57.3 63.0h0.85M61.2 76.5h0.85M60.8 78.9h0.85M59.1 58.9h0.85M83.1 87.8h0.85M91.9 55.0h0.85M85.0 161.0h0.85M89.9 143.0h0.85M62.8 127.1h0.85M88.5 137.5h0.85M76.7 171.2h0.85M62.7 55.1h0.85M61.5 144.6h0.85M62.9 54.7h0.85M89.0 118.8h0.85M81.6 44.0h0.85M88.4 133.2h0.85M58.4 64.1h0.85M75.8 45.1h0.85M62.5 148.7h0.85M83.6 77.4h0.85M87.7 151.0h0.85M84.0 87.5h0.85M92.8 140.8h0.85M59.3 148.7h0.85M61.4 90.9h0.85M85.1 110.7h0.85M94.7 57.2h0.85M92.0 48.1h0.85M88.8 130.2h0.85M68.3 164.9h0.85M89.3 50.1h0.85M58.9 117.8h0.85M88.9 130.4h0.85M87.6 116.9h0.85M61.5 106.0h0.85M86.1 159.2h0.85M61.4 97.9h0.85M81.1 45.2h0.85M91.1 60.1h0.85M62.7 99.5h0.85M82.1 89.6h0.85M87.3 160.7h0.85M60.3 134.2h0.85M58.3 59.3h0.85M87.5 69.6h0.85M58.6 126.9h0.85M77.6 45.7h0.85M57.5 69.7h0.85M60.3 86.9h0.85M87.7 120.8h0.85M69.9 45.3h0.85M57.7 64.9h0.85M61.3 80.9h0.85M61.6 145.1h0.85M64.7 161.0h0.85M90.3 141.7h0.85M90.2 129.8h0.85M62.9 114.3h0.85M86.5 103.5h0.85M85.7 75.0h0.85M88.3 129.2h0.85M61.5 127.0h0.85M59.8 78.5h0.85M64.0 130.5h0.85M70.2 165.8h0.85M87.4 68.2h0.85M92.6 61.0h0.85M63.6 147.2h0.85M73.1 172.5h0.85M62.2 139.6h0.85M86.4 106.4h0.85M64.6 51.1h0.85M59.1 77.6h0.85M93.2 56.6h0.85M87.5 65.7h0.85M79.2 45.6h0.85M89.2 156.8h0.85M89.4 156.3h0.85M70.5 48.2h0.85M63.0 108.5h0.85M83.5 93.6h0.85M87.1 119.1h0.85M61.1 131.2h0.85M87.9 69.2h0.85M62.3 158.2h0.85M85.8 98.9h0.85M59.7 73.5h0.85M64.6 47.7h0.85M89.4 64.5h0.85M66.5 51.7h0.85M88.4 148.1h0.85M88.7 137.0h0.85M92.4 50.5h0.85M84.8 92.4h0.85M61.7 134.8h0.85M85.4 75.5h0.85M92.5 49.9h0.85M89.3 66.5h0.85M58.2 70.7h0.85M62.3 119.9h0.85M88.4 154.5h0.85M73.0 168.8h0.85M79.6 168.3h0.85M84.3 45.0h0.85M89.0 122.6h0.85M86.8 107.1h0.85M88.8 130.4h0.85M55.8 62.1h0.85M61.4 85.8h0.85M63.4 92.2h0.85M61.5 117.0h0.85M81.8 168.4h0.85M90.9 127.3h0.85M87.0 107.7h0.85M62.1 102.2h0.85M89.5 110.9h0.85M90.4 125.0h0.85M86.9 108.8h0.85M86.2 45.3h0.85M88.5 129.5h0.85M84.7 84.5h0.85M90.4 116.4h0.85M88.6 137.6h0.85M64.2 157.1h0.85M89.4 143.1h0.85M60.9 62.5h0.85M86.5 70.4h0.85M89.3 65.0h0.85M60.0 133.2h0.85M60.7 108.7h0.85M84.0 87.3h0.85M60.5 90.4h0.85M62.0 147.7h0.85M86.8 80.8h0.85M85.5 166.7h0.85M62.3 114.4h0.85M60.7 148.2h0.85M85.5 90.8h0.85M60.4 80.1h0.85M89.2 65.7h0.85M62.4 130.7h0.85M69.0 164.8h0.85M65.1 157.9h0.85M84.9 72.2h0.85M61.8 138.5h0.85M87.1 104.3h0.85M84.7 162.5h0.85M64.1 144.9h0.85M61.1 51.9h0.85M85.3 160.4h0.85M61.5 101.5h0.85M74.4 47.8h0.85M91.0 64.5h0.85M60.1 64.0h0.85M90.9 65.0h0.85M95.5 59.5h0.85M89.3 140.5h0.85M60.4 155.7h0.85M61.1 71.9h0.85M59.0 84.4h0.85M90.9 61.1h0.85M62.7 101.5h0.85M82.8 86.2h0.85M87.9 123.2h0.85M62.1 49.8h0.85M60.9 118.7h0.85M63.1 120.3h0.85M84.0 89.7h0.85M79.6 167.7h0.85M56.7 78.7h0.85M88.2 66.7h0.85M89.9 151.0h0.85M73.0 47.4h0.85M60.6 123.3h0.85M89.3 111.2h0.85M64.2 116.3h0.85M87.7 73.5h0.85M62.7 101.7h0.85M60.7 83.0h0.85M58.3 59.7h0.85M86.3 163.5h0.85M61.1 155.3h0.85M86.2 159.6h0.85M88.6 112.5h0.85M64.9 158.7h0.85M62.6 140.6h0.85M87.0 156.2h0.85M92.2 62.4h0.85M83.6 87.2h0.85M88.2 147.2h0.85M62.5 123.5h0.85M90.8 137.9h0.85M62.1 122.7h0.85M64.3 157.2h0.85M59.5 76.0h0.85M90.3 126.1h0.85M90.6 155.6h0.85M91.7 52.9h0.85M95.1 58.2h0.85M84.9 96.4h0.85M57.5 61.6h0.85M88.3 64.0h0.85M67.3 48.8h0.85M62.3 105.7h0.85M89.6 64.7h0.85M66.4 51.3h0.85M60.6 131.4h0.85M60.6 134.3h0.85M62.8 87.8h0.85M62.5 108.2h0.85M60.5 66.3h0.85M61.8 90.1h0.85M65.9 162.8h0.85M62.8 98.3h0.85M83.2 96.7h0.85M84.6 160.2h0.85M73.5 48.8h0.85M88.2 141.5h0.85M61.9 124.1h0.85M61.7 128.5h0.85M62.0 150.9h0.85M78.8 46.7h0.85M94.4 53.6h0.85M88.4 108.1h0.85M60.0 120.6h0.85M87.3 150.7h0.85M58.8 64.7h0.85M58.4 66.6h0.85M86.6 72.4h0.85M61.4 149.9h0.85M64.6 160.6h0.85M69.9 166.2h0.85M87.5 135.9h0.85M84.5 168.0h0.85M65.3 157.2h0.85M86.0 107.4h0.85M94.3 53.1h0.85M69.4 169.0h0.85M59.4 78.5h0.85M86.7 99.4h0.85M85.7 102.0h0.85M96.0 49.5h0.85M61.8 150.1h0.85M67.7 46.1h0.85M84.4 84.5h0.85M85.8 80.4h0.85M85.8 70.2h0.85M59.2 77.2h0.85M58.6 62.5h0.85M63.3 143.4h0.85M84.4 92.1h0.85M72.8 170.0h0.85M59.5 63.8h0.85M62.2 147.3h0.85M61.8 89.6h0.85M62.6 131.0h0.85M75.8 171.3h0.85M60.3 81.0h0.85M73.4 169.9h0.85M62.0 135.1h0.85M73.0 47.9h0.85M88.5 147.1h0.85M61.6 114.8h0.85M64.3 152.5h0.85M61.3 139.5h0.85M59.8 113.7h0.85M66.7 166.2h0.85M90.8 49.4h0.85M60.7 103.0h0.85M85.6 160.5h0.85M91.6 150.5h0.85M91.1 132.0h0.85M90.7 126.1h0.85M83.9 76.0h0.85M61.5 122.3h0.85M63.9 105.1h0.85M87.5 156.8h0.85M93.5 50.6h0.85M62.6 159.5h0.85M71.5 46.5h0.85M89.4 63.9h0.85M85.4 70.9h0.85M88.3 76.3h0.85M86.4 162.6h0.85M87.2 70.9h0.85M84.5 161.4h0.85M62.7 105.5h0.85M61.9 89.9h0.85M62.4 53.0h0.85M62.5 99.5h0.85M60.8 57.7h0.85M62.1 97.6h0.85M76.3 168.6h0.85M84.4 45.0h0.85M60.7 110.2h0.85M85.3 70.2h0.85M92.5 53.9h0.85M85.1 161.8h0.85M88.0 110.9h0.85M63.6 144.8h0.85M57.7 66.8h0.85M67.1 51.7h0.85M85.3 102.6h0.85M57.1 88.9h0.85M88.8 65.1h0.85M85.7 80.8h0.85M88.1 140.0h0.85M80.5 168.3h0.85M62.8 114.9h0.85M61.0 114.7h0.85M63.2 55.6h0.85M92.1 117.9h0.85M73.0 46.2h0.85M57.8 83.9h0.85M63.9 151.5h0.85M64.4 150.1h0.85M59.9 94.5h0.85M86.1 100.0h0.85M63.4 101.7h0.85M62.3 123.8h0.85M60.5 72.9h0.85M91.4 143.9h0.85M61.7 149.4h0.85M64.0 158.0h0.85M62.2 91.6h0.85M62.4 120.7h0.85M88.2 131.9h0.85M63.0 127.0h0.85M66.5 164.5h0.85M62.5 107.0h0.85M78.5 172.0h0.85M70.6 166.8h0.85M91.4 142.1h0.85M84.7 164.0h0.85M88.0 143.7h0.85M89.4 143.4h0.85M63.0 131.3h0.85M63.6 121.7h0.85M90.2 63.0h0.85M59.9 55.7h0.85M63.8 96.9h0.85M63.6 154.6h0.85M62.4 130.8h0.85M84.7 159.1h0.85M84.2 76.7h0.85M86.2 103.8h0.85M88.4 116.0h0.85M61.2 109.9h0.85M61.8 94.5h0.85M63.2 151.4h0.85M88.0 137.6h0.85M67.3 48.5h0.85M63.5 92.9h0.85M72.6 168.0h0.85M89.5 130.5h0.85M88.5 135.5h0.85M60.9 52.6h0.85M63.3 132.1h0.85M88.8 128.3h0.85M89.3 124.8h0.85M62.3 56.9h0.85M58.7 67.5h0.85M90.1 126.1h0.85M65.8 49.8h0.85M87.8 136.5h0.85M60.6 100.8h0.85M88.7 68.5h0.85M92.1 123.8h0.85M61.4 109.9h0.85M87.3 100.5h0.85M86.7 46.0h0.85M84.6 89.9h0.85M62.1 110.5h0.85M84.1 89.0h0.85M87.5 157.7h0.85M59.3 95.5h0.85M62.6 88.6h0.85M91.8 132.1h0.85M63.7 155.9h0.85M62.5 115.7h0.85M58.7 65.7h0.85M88.0 111.4h0.85M86.0 162.1h0.85M87.1 76.1h0.85M83.8 82.5h0.85M87.1 43.7h0.85M58.4 71.8h0.85M89.1 117.2h0.85M61.5 81.4h0.85M59.7 93.6h0.85M60.0 94.4h0.85M83.9 164.1h0.85M67.3 161.5h0.85M67.5 51.2h0.85M82.4 94.4h0.85M70.2 47.4h0.85M69.6 48.4h0.85M89.5 120.0h0.85M63.9 102.9h0.85M64.2 159.5h0.85M61.3 145.0h0.85M89.5 109.7h0.85M89.3 142.2h0.85M88.6 125.3h0.85M88.9 162.0h0.85M89.1 64.0h0.85M62.3 110.5h0.85M90.5 140.3h0.85M86.2 84.2h0.85M88.9 63.9h0.85M69.8 48.0h0.85M87.6 153.4h0.85M90.8 47.4h0.85M86.3 103.2h0.85M62.0 54.7h0.85M83.6 167.8h0.85M84.3 78.0h0.85M62.4 90.1h0.85M61.6 57.3h0.85M86.6 70.9h0.85M72.9 48.3h0.85M63.1 112.9h0.85M62.1 141.7h0.85M60.8 143.9h0.85M83.8 166.5h0.85M63.4 142.2h0.85M89.2 156.3h0.85M88.6 116.9h0.85M65.9 52.6h0.85M84.9 102.9h0.85M72.1 170.4h0.85M88.6 143.7h0.85M64.8 156.4h0.85M85.0 80.4h0.85M61.0 95.8h0.85M62.3 139.3h0.85M59.4 96.8h0.85M61.2 85.2h0.85M62.0 101.9h0.85M61.8 124.0h0.85M80.1 46.2h0.85M88.1 137.7h0.85M61.5 84.7h0.85M60.4 79.0h0.85M86.7 165.7h0.85M61.7 95.0h0.85M60.3 86.6h0.85M65.5 159.2h0.85M60.8 75.9h0.85M63.3 153.6h0.85M86.7 47.1h0.85M88.1 66.7h0.85M88.7 133.2h0.85M89.7 149.3h0.85M89.8 159.2h0.85M90.7 132.2h0.85M63.8 160.0h0.85M86.0 103.4h0.85M60.0 68.3h0.85M75.1 46.9h0.85M73.5 48.2h0.85M87.5 106.0h0.85M64.5 159.7h0.85M86.1 72.2h0.85M89.5 155.2h0.85M83.1 96.8h0.85M92.7 58.8h0.85M61.3 120.3h0.85M61.0 138.6h0.85M80.4 45.1h0.85M61.5 126.4h0.85M63.5 55.1h0.85M94.0 52.7h0.85M82.1 163.4h0.85M91.5 50.4h0.85M69.6 165.8h0.85M88.2 155.6h0.85M93.3 56.8h0.85M58.9 62.0h0.85M66.8 52.0h0.85M60.9 97.0h0.85M61.0 132.6h0.85M63.1 144.1h0.85M64.0 51.3h0.85M90.1 130.7h0.85M74.0 170.0h0.85M59.3 64.3h0.85M77.4 44.7h0.85M89.5 150.8h0.85M63.2 103.5h0.85M95.5 60.6h0.85M83.8 77.3h0.85M66.7 161.8h0.85M56.8 77.8h0.85M90.9 47.1h0.85M79.9 45.3h0.85M61.0 88.4h0.85M86.8 96.0h0.85M88.7 158.3h0.85M60.8 111.8h0.85M59.5 124.1h0.85M89.4 81.7h0.85M61.6 91.2h0.85M62.7 117.9h0.85M57.7 109.3h0.85M106.5 98.4h0.85M113.1 95.8h0.85M119.7 97.4h0.85M108.7 96.2h0.85M125.5 89.2h0.85M110.1 88.5h0.85M114.4 84.8h0.85M115.1 101.0h0.85M106.5 88.1h0.85M101.5 95.3h0.85M104.1 89.9h0.85M109.0 89.4h0.85M117.8 107.7h0.85M97.0 88.4h0.85M113.7 86.5h0.85M108.2 96.6h0.85M121.7 104.3h0.85M109.9 96.0h0.85M109.4 93.5h0.85M103.7 80.8h0.85M109.4 102.8h0.85M117.3 80.0h0.85M110.6 89.9h0.85M114.0 86.2h0.85M118.4 93.3h0.85M116.0 102.0h0.85M98.4 93.2h0.85M122.5 95.1h0.85M119.3 98.3h0.85M108.5 97.2h0.85M119.3 105.3h0.85M122.1 86.1h0.85M117.8 84.0h0.85M111.1 93.3h0.85M116.4 97.5h0.85M120.7 90.1h0.85M117.9 98.1h0.85M112.0 85.4h0.85M116.0 97.5h0.85M117.5 94.7h0.85M110.2 98.1h0.85M115.2 100.5h0.85M125.2 90.0h0.85M126.0 71.3h0.85M118.7 88.4h0.85M126.0 87.9h0.85M119.4 87.1h0.85M104.1 101.4h0.85M118.0 89.4h0.85M128.8 92.4h0.85M122.9 86.9h0.85M105.3 95.7h0.85M104.9 98.6h0.85M97.0 96.4h0.85M108.1 87.3h0.85M113.5 93.2h0.85M108.8 101.4h0.85M114.0 98.0h0.85M121.3 94.4h0.85M117.8 91.6h0.85M116.2 99.2h0.85M108.2 82.9h0.85M103.1 87.5h0.85M115.9 93.9h0.85M109.9 98.8h0.85M117.1 106.1h0.85M107.8 99.4h0.85M116.9 87.4h0.85M112.8 87.7h0.85M110.4 98.3h0.85M100.1 88.0h0.85M106.4 95.7h0.85M106.9 98.0h0.85M106.0 90.9h0.85M116.2 97.5h0.85M113.0 94.7h0.85M119.0 105.9h0.85M109.4 89.2h0.85M104.7 108.8h0.85M105.8 84.5h0.85M113.8 103.3h0.85M103.4 94.0h0.85M102.0 89.4h0.85M123.3 96.3h0.85M110.2 95.5h0.85M114.0 94.2h0.85M103.7 85.6h0.85M126.0 88.9h0.85M120.3 89.3h0.85M121.0 100.5h0.85M110.5 111.0h0.85M105.5 93.1h0.85M106.0 88.8h0.85M109.5 87.4h0.85M109.7 107.5h0.85M99.9 85.0h0.85M105.4 91.3h0.85M119.0 100.7h0.85M115.3 96.6h0.85M128.6 86.0h0.85M104.0 94.8h0.85M113.4 93.1h0.85M106.1 84.6h0.85M110.1 89.4h0.85M108.6 86.4h0.85M121.3 98.6h0.85M124.9 90.9h0.85M112.4 93.0h0.85M112.1 93.0h0.85M110.8 79.3h0.85M110.1 100.5h0.85M98.4 92.2h0.85M116.0 105.1h0.85M111.4 98.6h0.85M124.2 105.3h0.85M108.9 90.2h0.85M119.1 96.8h0.85M108.2 93.2h0.85M114.2 93.4h0.85M110.2 93.1h0.85M101.6 108.8h0.85M120.5 107.0h0.85M111.1 96.0h0.85M116.0 101.5h0.85M99.3 97.8h0.85M105.1 94.4h0.85M107.4 108.5h0.85M115.7 94.8h0.85M121.7 94.4h0.85M107.0 93.5h0.85M109.5 95.4h0.85M117.8 94.1h0.85M111.5 103.0h0.85M114.0 102.5h0.85M112.9 84.7h0.85M104.2 81.8h0.85M119.9 98.3h0.85M108.7 87.1h0.85M114.5 93.9h0.85M114.2 88.3h0.85M104.3 107.5h0.85M105.4 94.8h0.85M121.3 80.5h0.85M116.9 95.5h0.85M111.0 97.1h0.85M103.8 77.4h0.85M125.1 92.7h0.85M118.2 103.8h0.85M114.0 98.6h0.85M116.9 107.5h0.85M115.4 105.0h0.85M110.0 91.7h0.85M112.6 98.2h0.85M115.7 110.4h0.85M117.8 95.5h0.85M125.8 97.6h0.85M114.5 98.9h0.85M109.7 86.4h0.85M112.9 92.6h0.85M106.0 96.0h0.85M110.6 90.3h0.85M99.7 93.7h0.85M124.2 102.0h0.85M119.5 94.8h0.85M119.3 89.7h0.85M108.9 99.1h0.85M102.1 95.5h0.85M114.1 108.4h0.85M107.2 98.4h0.85M107.5 90.7h0.85M93.3 87.6h0.85M120.0 99.1h0.85M113.1 114.5h0.85M115.8 85.2h0.85M110.6 94.6h0.85M123.1 87.9h0.85M115.0 102.8h0.85M106.4 95.7h0.85M98.1 95.8h0.85M96.8 92.0h0.85M123.9 98.3h0.85M112.4 96.2h0.85M127.0 99.4h0.85M119.2 91.6h0.85M109.0 86.8h0.85M110.8 89.5h0.85M118.9 100.1h0.85M111.2 90.7h0.85M92.0 90.4h0.85M114.1 100.3h0.85M90.7 76.1h0.85M113.1 86.9h0.85M110.5 91.3h0.85M116.1 80.3h0.85M108.1 102.5h0.85M113.5 88.5h0.85M115.2 97.3h0.85M105.9 100.5h0.85M116.7 94.0h0.85M118.6 85.8h0.85M117.3 93.5h0.85M105.5 90.3h0.85M120.1 90.7h0.85M109.6 89.9h0.85M106.6 102.6h0.85M127.4 105.6h0.85M115.5 101.0h0.85M109.6 91.1h0.85M103.9 106.4h0.85M109.7 89.4h0.85M107.6 96.6h0.85M108.2 95.2h0.85M113.2 105.6h0.85M103.5 97.4h0.85M107.2 91.7h0.85M123.3 100.0h0.85M109.4 98.9h0.85M111.9 103.8h0.85M108.7 98.9h0.85M110.6 95.1h0.85M111.0 90.2h0.85M112.8 102.8h0.85M107.9 92.0h0.85M114.6 89.1h0.85M118.1 100.7h0.85M96.2 89.9h0.85M104.6 101.6h0.85M118.5 85.6h0.85M107.3 94.4h0.85M109.5 100.8h0.85M118.8 99.7h0.85M119.6 102.5h0.85M111.6 91.7h0.85M107.0 101.5h0.85M118.2 103.1h0.85M109.8 92.0h0.85M113.9 105.0h0.85M114.5 96.9h0.85M106.4 98.6h0.85M115.8 87.6h0.85M129.3 80.8h0.85M120.7 89.6h0.85M112.8 82.5h0.85M105.3 100.8h0.85M109.1 88.0h0.85M120.3 100.9h0.85M112.9 95.0h0.85M129.0 90.1h0.85M115.2 97.4h0.85M96.7 68.4h0.85M112.5 102.9h0.85M113.2 85.6h0.85M104.4 102.2h0.85M108.1 72.4h0.85M118.2 95.1h0.85M115.1 105.0h0.85M124.8 99.1h0.85M109.3 66.1h0.85M114.2 90.3h0.85M124.8 107.9h0.85M116.1 109.0h0.85M110.4 91.6h0.85M102.4 88.3h0.85M113.3 105.2h0.85M103.6 102.0h0.85M135.3 75.6h0.85M108.5 92.4h0.85M121.5 116.6h0.85M123.9 91.7h0.85M102.4 91.5h0.85M110.7 95.2h0.85M101.9 110.9h0.85M103.7 100.5h0.85M113.3 78.7h0.85M111.8 92.4h0.85M109.2 102.1h0.85M106.2 123.5h0.85M122.8 80.9h0.85M85.3 107.6h0.85M113.7 93.1h0.85M101.0 74.4h0.85M91.8 123.8h0.85M127.7 85.3h0.85M130.6 69.3h0.85M118.3 100.8h0.85M102.2 86.5h0.85M100.3 92.6h0.85M124.7 104.4h0.85M115.4 105.9h0.85M92.5 117.1h0.85M110.5 75.8h0.85M107.1 84.0h0.85M112.0 95.9h0.85M86.8 107.7h0.85M129.0 79.2h0.85M126.4 107.7h0.85M121.6 112.3h0.85M96.6 101.1h0.85M100.5 121.5h0.85M100.9 76.8h0.85M122.8 99.8h0.85M111.3 93.7h0.85M117.4 113.5h0.85M103.6 85.1h0.85M105.0 91.1h0.85M111.2 76.0h0.85M114.2 76.3h0.85M107.8 88.9h0.85M108.5 110.5h0.85M128.2 105.5h0.85M127.6 88.5h0.85M125.8 91.4h0.85M113.4 95.4h0.85M97.0 84.4h0.85M109.3 96.6h0.85M109.7 81.4h0.85M98.9 92.1h0.85M98.6 77.3h0.85M109.9 94.2h0.85M102.3 69.8h0.85M114.0 102.2h0.85M106.7 87.3h0.85M86.6 103.3h0.85M99.5 101.0h0.85M104.8 90.2h0.85M109.0 69.5h0.85M139.9 72.5h0.85M112.2 81.8h0.85M108.5 109.2h0.85M91.4 90.2h0.85M116.2 93.5h0.85M115.2 82.6h0.85M93.8 75.6h0.85M106.7 101.3h0.85M111.8 112.0h0.85M112.1 94.4h0.85M113.1 70.4h0.85M117.1 78.1h0.85M107.0 121.3h0.85M98.0 93.5h0.85M114.1 93.6h0.85M111.0 85.0h0.85M131.9 66.9h0.85M100.2 110.5h0.85M116.8 82.4h0.85M101.6 88.9h0.85M138.7 98.2h0.85M100.2 95.0h0.85M104.4 110.7h0.85M114.1 107.8h0.85M112.7 117.5h0.85M115.3 95.5h0.85M100.3 86.7h0.85M115.1 85.8h0.85M137.1 91.9h0.85M103.0 104.3h0.85M105.4 97.1h0.85M110.0 83.0h0.85M125.6 93.1h0.85M122.4 87.8h0.85M96.0 76.5h0.85M105.6 89.7h0.85M111.6 98.4h0.85M98.0 94.9h0.85M98.2 83.5h0.85M137.9 107.9h0.85M107.2 114.4h0.85M125.9 103.1h0.85M126.4 88.9h0.85M109.7 81.3h0.85M117.1 76.3h0.85M105.7 97.7h0.85M105.7 96.3h0.85M130.2 79.7h0.85M125.7 83.5h0.85M101.2 94.8h0.85M121.8 83.1h0.85M103.3 86.5h0.85M103.4 94.4h0.85M103.5 88.8h0.85M114.7 86.8h0.85M123.1 83.5h0.85M102.9 117.5h0.85M126.8 92.9h0.85M119.7 96.3h0.85M105.6 100.4h0.85M114.2 108.0h0.85M91.6 102.1h0.85M112.8 83.4h0.85M106.5 86.9h0.85M97.1 84.8h0.85M119.2 73.0h0.85M107.1 62.4h0.85M105.0 96.9h0.85M110.5 92.6h0.85M99.3 99.1h0.85M101.5 103.4h0.85M113.2 87.2h0.85M126.6 87.1h0.85M121.8 93.3h0.85M111.0 104.5h0.85M115.6 91.9h0.85M109.8 94.7h0.85M111.9 87.9h0.85M100.1 59.6h0.85M109.8 89.0h0.85M123.8 97.6h0.85M123.0 113.7h0.85M109.9 81.5h0.85M119.6 84.6h0.85M108.3 110.0h0.85M116.8 105.7h0.85M96.9 92.5h0.85M122.8 76.0h0.85M113.1 97.1h0.85M86.8 112.0h0.85M103.5 90.3h0.85M128.7 69.7h0.85M115.9 86.4h0.85M111.5 81.8h0.85M125.4 78.0h0.85M114.8 98.8h0.85M110.1 88.6h0.85M108.2 104.8h0.85M115.8 91.0h0.85M99.6 94.0h0.85M116.6 91.6h0.85M126.1 68.2h0.85M137.2 89.8h0.85M99.1 70.2h0.85M120.1 99.2h0.85M108.8 91.4h0.85M112.8 86.8h0.85M123.2 99.9h0.85M109.8 71.6h0.85M125.4 86.1h0.85M100.2 108.2h0.85M116.3 66.9h0.85M93.6 87.1h0.85M97.9 90.1h0.85M138.5 129.3h0.85M110.6 102.1h0.85M120.4 90.6h0.85M95.6 105.5h0.85M109.2 97.8h0.85M118.5 82.0h0.85M128.8 93.0h0.85M113.5 86.7h0.85M118.6 104.8h0.85M105.2 99.4h0.85M106.5 76.7h0.85M107.6 99.7h0.85M116.9 105.6h0.85M104.0 88.3h0.85M111.9 99.9h0.85M109.9 80.2h0.85M94.8 106.9h0.85M122.4 83.8h0.85M126.7 91.4h0.85M115.9 108.0h0.85M106.1 82.4h0.85M92.9 96.0h0.85M115.9 103.0h0.85M117.5 93.5h0.85M123.2 79.3h0.85M115.3 98.6h0.85M109.9 113.8h0.85M115.8 109.1h0.85M120.6 89.9h0.85M131.5 106.1h0.85M111.4 90.7h0.85M100.3 90.3h0.85M108.7 94.8h0.85M106.7 99.4h0.85M110.3 72.4h0.85M105.8 80.9h0.85M97.7 89.0h0.85M120.8 78.2h0.85M90.1 90.2h0.85M142.7 84.8h0.85M114.1 87.1h0.85M120.2 110.3h0.85M109.5 107.1h0.85M99.8 94.9h0.85M97.8 94.6h0.85M104.7 95.3h0.85M99.4 95.2h0.85M112.4 85.1h0.85M102.8 77.4h0.85M107.0 97.3h0.85M109.8 94.2h0.85M124.6 88.2h0.85M114.3 102.7h0.85M116.7 97.1h0.85M112.1 116.5h0.85M110.5 87.4h0.85M117.5 112.8h0.85M126.2 92.7h0.85M120.0 98.6h0.85M112.1 100.5h0.85M117.8 94.1h0.85M129.4 87.6h0.85M126.0 118.7h0.85M133.6 95.8h0.85M109.3 72.3h0.85M110.7 122.9h0.85M94.8 72.9h0.85M120.1 100.1h0.85M92.1 91.6h0.85M114.9 73.3h0.85M121.4 75.7h0.85M123.2 94.9h0.85M103.9 72.1h0.85M107.7 91.1h0.85M109.9 84.9h0.85M109.0 103.2h0.85M101.7 89.7h0.85M116.1 92.0h0.85M120.4 111.8h0.85M107.5 95.0h0.85M80.3 87.9h0.85M118.3 78.2h0.85M125.2 68.7h0.85M125.5 85.8h0.85M100.5 86.2h0.85M108.4 79.5h0.85M96.7 85.7h0.85M121.2 97.3h0.85M125.3 84.6h0.85M107.5 88.0h0.85M112.7 98.0h0.85M129.7 101.0h0.85M112.9 109.2h0.85M102.9 75.7h0.85M118.2 94.3h0.85M112.4 103.9h0.85M107.6 90.8h0.85M115.2 100.3h0.85M121.5 93.7h0.85M113.9 61.8h0.85M124.0 72.5h0.85M110.7 124.0h0.85M107.7 72.3h0.85M128.1 85.2h0.85M109.4 90.1h0.85M118.9 101.9h0.85M109.8 106.1h0.85M101.6 100.6h0.85M104.6 100.9h0.85M104.1 86.6h0.85M126.6 78.0h0.85M98.7 99.3h0.85M108.3 86.7h0.85M109.6 118.7h0.85M100.2 88.7h0.85M112.8 80.3h0.85M110.7 98.2h0.85M101.5 106.1h0.85M99.0 90.3h0.85M114.6 131.9h0.85M92.7 95.6h0.85M137.6 84.6h0.85M122.5 94.7h0.85M96.0 97.0h0.85M101.7 93.1h0.85M95.3 101.2h0.85M85.7 89.9h0.85M124.6 98.5h0.85M107.4 89.1h0.85M106.6 126.0h0.85M110.5 91.9h0.85M103.3 86.1h0.85M117.4 84.4h0.85M102.5 85.1h0.85M107.3 94.2h0.85M105.9 89.6h0.85M103.1 107.5h0.85M112.0 88.1h0.85M114.1 91.4h0.85M94.5 89.8h0.85M128.3 98.3h0.85M123.4 83.6h0.85M95.4 83.3h0.85M125.2 79.5h0.85M102.7 105.8h0.85M108.4 89.5h0.85M115.0 93.1h0.85M107.8 95.2h0.85M103.5 91.5h0.85M117.9 78.7h0.85M108.8 77.7h0.85M118.8 99.7h0.85M120.9 104.9h0.85M121.8 101.0h0.85M102.8 103.7h0.85M101.4 121.2h0.85M114.0 99.4h0.85M98.0 105.4h0.85M123.3 72.4h0.85M105.1 86.1h0.85M104.2 109.3h0.85M133.7 78.7h0.85M122.0 88.7h0.85M125.4 61.4h0.85M106.4 107.2h0.85M103.0 106.9h0.85M105.6 106.2h0.85M117.1 86.7h0.85M103.0 89.9h0.85M123.2 91.9h0.85M104.0 133.5h0.85M94.4 89.1h0.85M116.7 78.9h0.85M110.8 86.7h0.85M95.4 97.7h0.85M99.0 82.5h0.85M123.9 78.0h0.85M117.3 106.7h0.85M121.4 97.8h0.85M108.5 74.4h0.85M112.5 97.5h0.85M105.6 79.6h0.85M120.1 78.7h0.85M115.6 85.9h0.85M93.2 112.1h0.85M117.3 98.7h0.85M96.0 90.3h0.85M113.8 82.5h0.85M128.2 66.5h0.85M118.2 68.1h0.85M94.3 75.7h0.85M116.8 82.8h0.85M103.7 80.3h0.85M95.1 80.4h0.85M100.3 87.5h0.85M106.6 61.5h0.85M103.8 106.6h0.85M105.5 90.4h0.85M102.8 82.7h0.85M109.6 74.3h0.85M108.6 70.3h0.85M113.8 71.4h0.85M117.1 103.7h0.85M93.1 99.4h0.85M105.8 105.5h0.85M104.5 87.4h0.85M107.0 106.6h0.85M89.7 100.4h0.85M111.0 84.7h0.85M107.5 102.5h0.85M118.6 112.0h0.85M103.2 67.1h0.85M104.1 88.3h0.85M105.3 106.0h0.85M133.9 95.5h0.85M91.2 103.7h0.85M103.1 91.2h0.85M118.7 95.3h0.85M109.2 94.3h0.85M117.9 98.5h0.85M131.6 53.2h0.85M101.7 83.4h0.85M118.5 93.4h0.85M118.8 72.8h0.85M107.6 98.7h0.85M109.3 85.7h0.85M112.7 111.3h0.85M87.7 110.5h0.85M112.8 79.9h0.85M116.8 91.2h0.85M122.6 80.6h0.85M120.0 79.3h0.85M113.2 99.3h0.85M109.0 98.7h0.85M103.6 103.9h0.85M104.6 81.9h0.85M108.7 90.0h0.85M101.1 100.6h0.85M108.6 98.2h0.85M94.2 74.2h0.85M107.1 78.3h0.85M108.5 97.7h0.85M121.6 109.0h0.85M118.1 81.8h0.85M115.7 84.1h0.85M115.6 77.5h0.85M124.0 95.9h0.85M106.9 73.7h0.85M112.8 84.1h0.85M112.5 81.8h0.85M104.2 98.5h0.85M125.4 74.9h0.85M107.9 95.6h0.85M108.3 85.2h0.85M132.6 80.2h0.85M113.7 84.6h0.85M108.9 62.1h0.85M119.2 88.1h0.85M99.8 111.5h0.85M107.0 83.1h0.85M101.1 104.1h0.85M110.2 86.9h0.85M96.0 79.4h0.85M113.6 90.5h0.85M88.8 79.8h0.85M112.3 124.3h0.85M102.0 62.9h0.85M118.0 84.7h0.85M96.1 97.8h0.85M107.5 78.7h0.85M96.2 89.2h0.85M110.8 68.5h0.85M120.3 74.9h0.85M124.6 94.9h0.85M108.0 94.9h0.85M103.7 89.9h0.85M127.2 83.6h0.85M118.5 79.5h0.85M109.7 102.8h0.85M97.3 94.9h0.85M87.4 76.4h0.85M105.6 101.8h0.85M117.5 79.3h0.85M108.6 93.1h0.85M93.5 96.0h0.85M124.1 106.3h0.85M103.7 85.6h0.85M100.1 84.5h0.85M107.3 99.3h0.85M110.8 79.1h0.85M118.6 101.8h0.85M103.5 87.7h0.85M108.9 70.2h0.85M111.4 99.2h0.85M130.4 93.2h0.85M107.0 88.9h0.85M116.4 100.7h0.85M100.9 93.2h0.85M116.8 65.7h0.85M124.4 88.1h0.85M119.1 90.2h0.85M107.4 89.9h0.85M113.0 101.7h0.85M107.2 76.8h0.85M102.7 78.6h0.85M118.0 78.8h0.85M126.0 92.5h0.85M109.1 107.2h0.85M106.2 87.2h0.85M118.2 100.1h0.85M99.6 121.6h0.85M116.0 75.2h0.85M108.2 102.5h0.85M112.4 101.6h0.85M134.9 102.6h0.85M131.2 99.5h0.85M103.1 109.9h0.85M102.8 103.0h0.85M117.0 80.5h0.85M102.8 88.9h0.85M114.5 91.6h0.85M114.7 103.5h0.85M107.5 94.5h0.85M120.1 89.0h0.85M109.0 101.4h0.85M105.2 91.6h0.85M106.2 96.6h0.85M111.7 86.1h0.85M111.3 89.9h0.85M108.4 97.2h0.85M111.6 97.0h0.85M107.4 89.0h0.85M115.8 92.3h0.85M106.3 98.8h0.85M105.3 94.3h0.85M111.9 98.2h0.85M116.8 89.3h0.85M117.4 96.6h0.85M107.5 98.8h0.85M117.1 98.1h0.85M106.7 96.6h0.85M107.3 90.6h0.85M117.3 99.6h0.85M109.8 90.4h0.85M111.4 98.4h0.85M112.8 99.1h0.85M108.0 101.3h0.85M116.3 91.8h0.85M118.1 87.6h0.85M111.6 94.9h0.85M116.1 95.3h0.85M115.7 97.5h0.85M106.1 96.3h0.85M119.3 95.7h0.85M109.8 88.8h0.85M108.7 91.7h0.85M106.0 98.4h0.85M116.5 101.7h0.85M113.1 93.9h0.85M107.5 99.7h0.85M111.9 101.2h0.85M115.9 93.9h0.85M111.8 88.9h0.85M106.0 92.5h0.85M108.5 99.4h0.85M113.6 88.8h0.85M110.7 90.3h0.85M116.3 89.8h0.85M116.2 93.6h0.85M106.9 91.2h0.85M113.9 89.7h0.85M116.8 90.8h0.85M113.7 101.7h0.85M107.7 89.4h0.85M115.6 88.2h0.85M112.8 90.7h0.85M111.4 87.1h0.85M106.0 96.0h0.85M114.8 90.4h0.85M106.6 94.6h0.85M111.5 95.4h0.85M106.5 96.5h0.85M114.0 89.3h0.85M113.4 95.3h0.85M118.1 94.9h0.85M115.9 96.3h0.85M115.8 99.4h0.85M112.4 100.1h0.85M115.9 99.8h0.85M117.4 95.0h0.85M111.2 100.0h0.85M106.8 89.9h0.85M111.5 86.5h0.85M110.0 94.7h0.85M116.8 91.5h0.85M116.2 95.7h0.85M114.5 91.4h0.85M119.0 96.9h0.85M106.1 89.5h0.85M112.9 98.5h0.85M111.0 90.1h0.85M111.7 86.5h0.85M113.6 89.6h0.85M110.4 99.8h0.85M113.1 96.5h0.85M112.1 88.2h0.85M109.0 86.5h0.85M107.2 95.8h0.85M107.0 96.8h0.85M103.5 94.2h0.85M118.4 92.1h0.85M117.2 100.7h0.85M106.4 90.1h0.85M116.5 87.7h0.85M114.1 96.2h0.85M111.6 89.5h0.85M113.0 91.3h0.85M111.9 104.7h0.85M108.6 99.8h0.85M107.0 97.0h0.85M116.1 94.0h0.85M115.0 91.9h0.85M112.7 93.8h0.85M105.7 102.1h0.85M115.8 90.2h0.85M106.2 94.5h0.85M109.2 92.2h0.85M108.9 89.1h0.85M111.3 87.3h0.85M109.1 99.6h0.85M107.3 99.7h0.85M114.7 97.7h0.85M115.9 89.3h0.85M105.2 96.6h0.85M118.0 92.5h0.85M111.2 101.3h0.85M108.1 89.9h0.85M115.7 94.2h0.85M109.8 87.3h0.85M115.6 90.9h0.85M115.4 92.4h0.85M105.2 92.6h0.85M113.0 97.3h0.85M108.6 90.5h0.85M107.9 88.0h0.85M108.8 101.6h0.85M113.8 99.4h0.85M108.6 99.5h0.85M113.0 87.1h0.85M109.6 99.9h0.85M101.7 113.7h0.85M108.3 98.6h0.85M106.7 100.6h0.85M97.5 69.1h0.85M103.6 40.6h0.85M95.5 52.4h0.85M93.1 68.9h0.85M95.0 65.6h0.85M118.0 130.6h0.85M103.5 48.8h0.85M89.0 67.4h0.85M95.1 63.7h0.85M91.3 87.3h0.85M102.5 106.1h0.85M96.1 62.2h0.85M109.1 72.9h0.85M113.8 96.6h0.85M126.1 54.0h0.85M125.8 113.0h0.85M103.4 55.9h0.85M95.2 66.7h0.85M98.3 72.2h0.85M91.2 140.0h0.85M91.0 107.6h0.85M103.1 95.3h0.85M89.7 56.1h0.85M112.9 53.1h0.85M93.6 65.1h0.85M111.8 131.0h0.85M90.5 122.5h0.85M88.3 89.3h0.85M97.3 64.9h0.85M120.9 72.1h0.85M88.9 100.0h0.85M88.3 101.1h0.85M114.8 96.3h0.85M97.6 64.9h0.85M89.6 99.7h0.85M106.5 80.5h0.85M116.5 110.3h0.85M98.4 92.4h0.85M99.7 107.2h0.85M107.7 94.7h0.85M106.3 71.6h0.85M93.6 118.9h0.85M100.5 55.4h0.85M92.8 104.3h0.85M88.0 72.5h0.85M88.4 74.6h0.85M123.1 92.9h0.85M100.7 70.2h0.85M101.4 55.9h0.85M102.9 58.6h0.85M96.7 52.9h0.85M93.4 85.9h0.85M100.4 94.2h0.85M88.6 82.7h0.85M95.2 40.7h0.85M95.4 89.0h0.85M90.5 112.2h0.85M104.1 52.6h0.85M92.9 59.4h0.85M93.7 111.3h0.85M99.5 80.4h0.85M109.4 116.0h0.85M101.0 75.6h0.85M94.1 44.2h0.85M88.8 84.0h0.85M127.8 83.6h0.85M90.5 93.6h0.85M105.9 61.0h0.85M101.3 72.0h0.85M109.8 143.2h0.85M117.1 69.3h0.85M97.9 130.4h0.85M103.6 53.1h0.85M93.5 91.7h0.85M113.3 95.8h0.85M124.1 110.0h0.85M109.6 85.1h0.85M128.3 66.7h0.85M99.9 88.2h0.85M101.4 43.0h0.85M93.3 41.2h0.85M103.8 129.9h0.85M102.7 109.0h0.85M102.2 137.8h0.85M108.0 99.3h0.85M96.9 43.4h0.85M93.1 57.0h0.85M99.3 94.1h0.85M100.1 61.5h0.85M97.1 58.2h0.85M96.6 54.3h0.85M89.8 63.5h0.85M95.2 97.2h0.85M107.1 64.7h0.85M129.9 121.1h0.85M88.7 132.2h0.85M102.6 83.2h0.85M88.4 114.9h0.85M105.4 116.4h0.85M95.0 91.1h0.85M93.9 80.1h0.85M104.1 121.5h0.85M102.3 103.9h0.85M107.6 80.0h0.85M90.1 70.9h0.85M102.0 85.3h0.85M102.9 111.8h0.85M96.7 104.7h0.85M88.5 68.4h0.85M96.6 80.9h0.85M118.8 89.9h0.85M89.8 73.5h0.85M92.0 82.7h0.85M91.7 57.5h0.85M99.2 62.3h0.85M89.8 93.3h0.85M124.3 91.9h0.85M88.2 76.6h0.85M110.9 146.5h0.85M91.4 80.4h0.85M89.3 105.0h0.85M93.9 93.1h0.85M111.7 71.9h0.85M99.2 104.6h0.85M112.4 116.3h0.85M106.4 85.6h0.85M99.1 99.4h0.85M89.7 165.4h0.85M101.9 60.4h0.85M100.2 79.6h0.85M104.9 101.5h0.85M103.0 85.4h0.85M106.0 62.4h0.85M100.8 71.7h0.85M100.8 78.8h0.85M91.0 77.7h0.85M96.1 86.9h0.85M90.1 130.1h0.85M102.4 91.8h0.85M116.5 74.8h0.85M111.8 104.9h0.85M100.7 103.6h0.85M92.9 55.4h0.85M94.5 68.3h0.85M102.3 54.7h0.85M101.4 94.8h0.85M88.6 109.7h0.85M112.3 79.3h0.85M104.6 120.2h0.85M105.1 69.4h0.85M90.4 76.5h0.85M119.5 83.6h0.85M99.3 90.7h0.85M96.1 132.1h0.85M99.9 54.4h0.85M123.0 101.3h0.85M109.9 87.8h0.85M104.5 118.7h0.85M148.3 48.1h0.85M122.7 53.1h0.85M93.5 133.4h0.85M105.7 120.9h0.85M117.9 115.8h0.85M94.6 82.2h0.85M88.6 115.4h0.85M112.9 85.9h0.85M99.6 55.1h0.85M104.2 81.8h0.85M104.7 78.2h0.85M92.4 56.5h0.85M111.9 69.5h0.85M104.9 66.1h0.85M103.3 100.2h0.85M107.4 112.8h0.85M121.4 116.8h0.85M105.5 116.3h0.85M117.5 55.7h0.85M105.7 101.6h0.85M98.5 108.3h0.85M109.0 97.1h0.85M103.3 59.2h0.85M89.6 89.9h0.85M106.2 62.3h0.85M110.6 110.7h0.85M98.5 44.2h0.85M122.0 100.8h0.85M135.4 73.4h0.85M115.1 48.3h0.85M100.0 72.9h0.85M91.5 81.2h0.85M93.1 108.8h0.85M107.9 107.9h0.85M96.3 120.1h0.85M97.0 106.6h0.85M110.9 72.6h0.85M106.6 73.2h0.85M103.4 89.9h0.85M119.6 75.7h0.85M119.2 106.7h0.85M109.1 88.6h0.85M107.3 140.7h0.85M101.2 71.1h0.85M112.9 114.5h0.85M119.9 89.5h0.85M95.1 99.0h0.85M96.7 87.3h0.85M90.6 116.3h0.85M91.1 99.8h0.85M93.3 72.1h0.85M96.0 82.4h0.85M91.1 78.9h0.85M114.1 87.6h0.85M98.7 91.7h0.85M94.9 73.3h0.85M91.5 69.2h0.85M112.8 85.1h0.85M110.0 96.7h0.85M88.9 95.8h0.85M100.2 54.6h0.85M99.6 84.7h0.85M92.0 97.5h0.85M101.6 112.9h0.85M104.2 98.5h0.85M112.8 111.7h0.85M101.0 82.3h0.85M110.4 109.2h0.85M103.8 104.9h0.85M103.7 81.7h0.85M101.8 87.7h0.85M94.0 47.3h0.85M97.6 114.3h0.85M107.2 62.2h0.85M89.8 42.3h0.85M88.2 117.6h0.85M103.5 94.8h0.85M92.6 138.7h0.85M113.3 120.8h0.85M105.8 142.1h0.85M118.0 108.5h0.85M111.9 69.4h0.85M101.0 75.6h0.85M88.8 116.3h0.85M95.2 45.1h0.85M93.0 101.1h0.85M94.5 73.5h0.85M104.3 121.2h0.85M93.4 69.4h0.85M99.0 64.5h0.85M97.2 111.9h0.85M97.2 114.9h0.85M108.5 93.3h0.85M97.5 68.2h0.85M90.8 103.7h0.85M100.3 71.4h0.85M104.6 102.6h0.85M89.8 87.6h0.85M91.3 106.3h0.85M121.9 58.2h0.85M97.3 66.1h0.85M89.2 136.8h0.85M122.2 93.7h0.85M92.0 79.9h0.85M93.4 59.5h0.85M100.5 70.3h0.85M107.0 91.5h0.85M112.4 50.9h0.85M88.1 83.7h0.85M88.2 77.6h0.85M122.2 85.2h0.85M88.7 119.2h0.85M90.4 72.7h0.85M115.5 78.9h0.85M92.9 92.1h0.85M103.5 67.9h0.85M123.4 85.7h0.85M98.0 72.3h0.85M90.1 66.7h0.85M94.7 123.8h0.85M95.0 87.9h0.85M137.5 63.9h0.85M102.3 65.6h0.85M125.8 129.6h0.85M108.9 107.6h0.85M97.4 101.8h0.85M130.5 70.9h0.85M105.0 68.4h0.85M92.2 116.4h0.85M109.8 105.0h0.85M91.6 61.0h0.85M94.6 84.3h0.85M114.4 102.8h0.85M133.1 81.5h0.85M89.7 96.5h0.85M97.8 65.3h0.85M102.9 121.2h0.85M101.6 125.7h0.85M89.0 66.3h0.85M119.5 45.0h0.85M93.9 71.6h0.85M123.8 109.2h0.85M109.0 90.7h0.85M100.5 83.3h0.85M88.2 90.0h0.85M105.9 43.3h0.85M98.7 83.6h0.85M107.5 82.0h0.85M93.4 67.1h0.85M114.1 107.1h0.85M102.9 66.4h0.85M92.0 66.9h0.85M97.8 104.6h0.85M104.8 102.7h0.85M114.1 86.9h0.85M97.2 91.4h0.85M105.5 95.9h0.85M94.5 94.4h0.85M109.9 57.4h0.85M98.7 108.4h0.85M114.3 141.5h0.85M108.9 95.8h0.85M106.8 77.5h0.85M98.4 118.0h0.85M95.6 102.6h0.85M112.1 63.9h0.85M93.2 82.3h0.85M95.1 68.8h0.85M106.4 113.8h0.85M97.0 48.1h0.85M136.0 120.2h0.85M111.6 65.9h0.85M90.5 93.3h0.85M90.0 72.7h0.85M93.1 95.7h0.85M108.8 117.6h0.85M108.4 102.6h0.85M103.2 50.8h0.85M98.1 77.7h0.85M119.5 88.8h0.85M104.9 137.9h0.85M95.4 70.6h0.85M93.0 73.7h0.85M93.2 63.2h0.85M88.3 83.5h0.85M98.7 103.6h0.85M111.0 57.1h0.85M111.6 124.5h0.85M88.6 120.5h0.85M88.4 107.6h0.85M93.1 102.6h0.85M103.7 153.8h0.85M92.1 55.2h0.85M95.5 69.5h0.85M91.7 145.6h0.85M93.1 50.5h0.85M90.2 93.8h0.85M94.3 80.2h0.85M109.4 58.7h0.85M95.5 58.3h0.85M104.0 79.0h0.85M102.7 92.6h0.85M102.7 98.9h0.85M88.9 101.7h0.85M91.9 87.0h0.85M99.2 85.9h0.85M98.5 102.2h0.85M95.6 67.1h0.85M90.5 47.6h0.85M88.9 108.6h0.85M96.7 100.7h0.85M92.7 120.9h0.85M89.0 49.8h0.85M101.3 60.9h0.85M94.6 93.6h0.85M113.5 57.7h0.85M116.3 114.0h0.85M115.3 103.1h0.85M112.8 57.1h0.85M109.3 106.6h0.85M107.4 44.3h0.85M107.9 72.1h0.85M100.2 91.3h0.85M116.7 122.3h0.85M101.2 107.2h0.85M95.2 127.2h0.85M99.0 44.0h0.85M89.5 175.5h0.85M111.8 60.0h0.85M102.6 92.7h0.85M106.2 129.1h0.85M91.0 99.5h0.85M95.2 119.0h0.85M105.0 50.3h0.85M123.4 53.1h0.85M96.9 72.4h0.85M102.2 68.9h0.85M89.9 88.1h0.85M108.5 75.7h0.85M109.1 51.9h0.85M92.4 91.2h0.85M119.9 45.1h0.85M108.5 65.2h0.85M116.1 93.9h0.85M105.0 59.5h0.85M105.8 84.3h0.85M111.2 103.3h0.85M94.5 126.9h0.85M107.9 118.9h0.85M113.1 109.9h0.85M100.9 98.9h0.85M94.4 49.3h0.85M101.9 60.6h0.85M110.8 60.1h0.85M119.8 69.4h0.85M95.7 80.9h0.85M93.7 57.8h0.85M100.6 72.4h0.85M88.6 116.3h0.85M109.6 72.3h0.85M102.0 76.7h0.85M91.6 80.6h0.85M125.9 74.5h0.85M92.8 145.3h0.85M114.6 111.0h0.85M89.6 132.7h0.85M136.9 67.3h0.85M107.1 106.1h0.85M134.2 91.7h0.85M91.2 82.2h0.85M108.9 61.0h0.85M116.4 90.7h0.85M92.0 111.7h0.85M104.3 163.3h0.85M95.2 126.6h0.85M98.7 90.0h0.85M88.2 63.2h0.85M104.2 67.1h0.85M122.0 76.8h0.85M90.5 117.7h0.85M116.8 105.1h0.85M88.8 60.7h0.85M99.3 100.3h0.85M92.1 88.8h0.85M98.6 141.9h0.85M91.1 42.9h0.85M94.7 81.1h0.85M98.6 57.6h0.85M105.2 83.5h0.85M103.8 58.1h0.85M98.1 81.2h0.85M98.6 67.4h0.85M98.6 59.3h0.85M106.8 80.7h0.85M97.1 68.3h0.85M104.7 58.0h0.85M100.3 77.3h0.85M97.8 84.8h0.85M99.6 93.4h0.85M90.9 72.6h0.85M100.1 117.3h0.85M89.4 43.5h0.85M119.5 87.7h0.85M100.6 70.3h0.85M96.3 114.6h0.85M91.0 118.5h0.85M109.9 91.5h0.85M90.0 70.0h0.85M118.9 69.2h0.85M100.4 60.4h0.85M89.1 85.1h0.85M99.3 127.6h0.85M91.6 137.5h0.85M116.4 92.7h0.85M94.1 87.6h0.85M89.3 80.4h0.85M92.2 92.5h0.85M134.0 78.5h0.85M88.3 133.4h0.85M97.3 63.2h0.85M88.7 87.5h0.85M107.6 67.0h0.85M127.3 110.7h0.85M118.1 134.8h0.85M94.8 102.9h0.85M108.7 89.8h0.85M96.5 85.9h0.85M115.2 100.6h0.85M102.0 71.4h0.85M97.1 130.7h0.85M105.9 133.9h0.85M89.1 112.8h0.85M93.2 107.5h0.85M99.6 73.5h0.85M95.4 135.8h0.85M99.6 46.2h0.85M111.0 64.6h0.85M99.9 144.1h0.85M94.4 73.4h0.85M96.5 62.3h0.85M97.8 113.9h0.85M106.5 118.3h0.85M114.4 91.0h0.85M121.9 82.8h0.85M125.2 63.4h0.85M130.1 110.5h0.85M120.2 126.1h0.85M125.7 97.6h0.85M123.4 97.3h0.85M107.2 128.4h0.85M97.4 132.8h0.85M120.0 52.4h0.85M90.7 98.1h0.85M102.7 52.9h0.85M100.7 64.3h0.85M90.8 117.4h0.85M99.3 54.7h0.85M118.5 81.1h0.85M88.8 120.3h0.85M101.1 98.5h0.85M97.5 40.2h0.85M89.6 83.0h0.85M93.2 79.5h0.85M94.9 60.8h0.85M100.6 142.6h0.85M110.1 87.6h0.85M93.8 87.5h0.85M94.5 114.7h0.85M93.8 90.7h0.85M94.4 49.5h0.85M116.9 86.3h0.85M106.8 98.1h0.85M109.1 90.8h0.85M116.0 115.7h0.85M99.6 110.6h0.85M101.7 100.8h0.85M107.3 82.0h0.85M93.1 87.7h0.85M116.7 140.2h0.85M99.3 41.0h0.85M96.4 117.9h0.85M97.9 99.1h0.85M111.8 67.6h0.85M102.5 86.5h0.85M98.2 103.6h0.85M104.2 48.0h0.85M109.0 91.5h0.85M104.2 102.9h0.85M121.6 62.2h0.85M101.0 90.6h0.85M107.0 125.7h0.85M92.6 92.4h0.85M97.4 63.2h0.85M112.3 43.0h0.85M101.8 114.2h0.85M94.3 81.5h0.85M89.3 84.3h0.85M90.8 81.2h0.85M96.0 66.7h0.85M108.1 135.5h0.85M98.9 106.2h0.85M103.8 128.1h0.85M106.9 53.9h0.85M120.2 103.7h0.85M93.9 105.2h0.85M91.1 55.7h0.85M96.0 63.0h0.85M105.1 64.4h0.85M90.8 115.2h0.85M106.1 93.3h0.85M89.8 67.4h0.85M88.9 106.3h0.85M90.7 68.9h0.85M93.7 90.6h0.85M96.3 85.0h0.85M88.1 63.5h0.85M100.5 113.3h0.85M114.6 88.5h0.85M102.5 81.9h0.85M98.5 128.4h0.85M124.7 112.1h0.85M98.7 93.4h0.85M100.3 53.3h0.85M93.6 86.5h0.85M115.8 55.7h0.85M130.1 44.9h0.85M98.9 97.7h0.85M117.8 94.8h0.85M93.2 72.2h0.85M99.9 87.8h0.85M95.5 43.6h0.85M93.3 116.8h0.85M95.5 66.6h0.85M94.9 97.9h0.85M123.1 104.8h0.85M94.0 61.1h0.85M88.7 96.5h0.85M97.5 90.2h0.85M98.2 98.1h0.85M111.1 75.0h0.85M100.5 113.7h0.85M106.0 106.7h0.85M99.8 129.4h0.85M113.8 116.4h0.85M110.1 49.7h0.85M104.9 71.4h0.85M105.9 98.9h0.85M95.0 114.5h0.85M98.0 67.8h0.85M112.8 87.4h0.85M88.7 95.5h0.85M92.0 84.1h0.85M98.2 114.7h0.85M107.9 59.7h0.85M98.1 101.0h0.85M102.1 65.2h0.85M91.7 98.8h0.85M88.2 61.6h0.85M95.1 79.2h0.85M98.7 112.5h0.85M118.6 60.7h0.85M121.5 89.0h0.85M107.3 104.6h0.85M90.7 83.9h0.85M105.3 79.6h0.85M92.7 87.2h0.85M109.2 62.6h0.85M92.7 107.8h0.85M92.9 106.9h0.85M91.1 134.7h0.85M111.1 94.7h0.85M122.6 117.0h0.85M119.9 73.3h0.85M109.3 100.2h0.85M91.0 61.8h0.85M89.4 93.7h0.85M113.4 78.3h0.85M105.2 113.3h0.85M99.5 82.4h0.85M91.4 78.8h0.85M120.5 105.2h0.85M94.8 67.4h0.85M89.1 75.4h0.85M90.0 121.5h0.85M112.8 69.9h0.85M92.2 76.4h0.85M103.5 118.2h0.85M103.0 98.1h0.85M99.6 96.4h0.85M92.4 94.1h0.85M89.4 48.2h0.85M104.1 64.4h0.85M99.7 63.6h0.85M93.7 105.3h0.85M108.8 74.9h0.85M127.3 125.8h0.85M102.8 86.3h0.85M98.0 103.8h0.85M91.5 68.9h0.85M102.9 70.7h0.85M112.1 98.8h0.85M92.8 110.9h0.85M109.9 69.0h0.85M111.5 122.1h0.85M96.6 116.4h0.85M89.9 84.7h0.85M90.6 110.0h0.85M89.3 141.5h0.85M107.3 56.3h0.85M99.0 137.4h0.85M91.5 101.4h0.85M105.6 146.4h0.85M102.6 48.5h0.85M106.7 114.8h0.85M98.9 49.4h0.85M108.9 90.2h0.85M113.3 65.3h0.85M118.4 108.7h0.85M98.0 71.2h0.85M83.7 85.0h0.85M91.5 144.2h0.85M92.3 144.6h0.85M90.5 141.5h0.85M87.2 90.3h0.85M91.2 47.3h0.85M110.2 50.3h0.85M89.2 120.8h0.85M76.9 173.2h0.85M108.4 111.6h0.85M89.8 105.2h0.85M87.9 92.8h0.85M89.8 72.5h0.85M83.5 171.3h0.85M112.5 42.3h0.85M89.7 114.5h0.85M90.6 66.0h0.85M99.5 75.8h0.85M86.8 169.9h0.85M106.9 133.5h0.85M90.4 116.6h0.85M92.3 56.5h0.85M86.9 101.3h0.85M96.3 55.7h0.85M121.0 116.5h0.85M97.0 53.4h0.85M87.7 97.2h0.85M84.4 81.6h0.85M105.6 76.4h0.85M100.6 70.3h0.85M91.1 68.3h0.85M91.3 124.0h0.85M89.4 64.9h0.85M107.7 116.3h0.85M95.9 142.4h0.85M88.2 115.4h0.85M89.1 100.4h0.85M85.4 89.1h0.85M91.2 76.3h0.85M86.0 98.9h0.85M92.1 116.8h0.85M91.9 81.7h0.85M87.2 78.9h0.85M89.8 102.5h0.85M86.9 103.5h0.85M83.6 89.2h0.85M94.2 116.7h0.85M98.0 142.8h0.85M98.2 137.3h0.85M91.7 140.8h0.85M87.5 113.2h0.85M106.7 155.0h0.85M95.6 53.3h0.85M90.5 120.8h0.85M97.1 61.2h0.85M111.7 131.7h0.85M90.3 96.6h0.85M86.7 76.1h0.85M101.6 102.3h0.85M104.1 72.5h0.85M98.0 148.8h0.85M91.1 116.7h0.85M90.4 112.3h0.85M96.1 60.0h0.85M92.2 50.8h0.85M107.4 112.8h0.85M105.3 53.5h0.85M95.6 76.8h0.85M102.0 60.0h0.85M91.7 110.9h0.85M86.0 77.2h0.85M87.1 86.3h0.85M104.7 67.1h0.85M86.7 92.1h0.85M92.2 66.7h0.85M88.3 156.3h0.85M93.1 118.1h0.85M96.1 56.6h0.85M90.3 103.4h0.85M101.3 46.5h0.85M90.2 145.1h0.85M97.1 132.0h0.85M89.2 110.3h0.85M95.2 98.4h0.85M88.4 174.6h0.85M97.9 110.1h0.85M98.1 116.6h0.85M85.8 74.6h0.85M95.8 139.1h0.85M103.0 149.0h0.85M98.8 59.1h0.85M95.5 71.2h0.85M102.7 57.8h0.85M97.5 47.1h0.85M102.6 87.8h0.85M90.6 108.9h0.85M114.4 120.8h0.85M89.2 109.4h0.85M119.9 66.0h0.85M95.7 145.0h0.85M92.4 48.9h0.85M93.4 49.8h0.85M95.4 56.8h0.85M96.3 125.5h0.85M94.4 118.8h0.85M90.4 76.8h0.85M94.1 133.8h0.85M86.5 88.2h0.85M90.3 149.2h0.85M89.1 141.5h0.85M96.0 73.9h0.85M97.2 51.5h0.85M91.0 125.4h0.85M100.3 53.5h0.85M101.4 119.3h0.85M97.6 132.9h0.85M107.0 62.3h0.85M91.1 96.6h0.85M89.6 127.6h0.85M93.5 112.4h0.85M91.4 139.1h0.85M92.0 109.0h0.85M90.5 113.0h0.85M87.7 106.0h0.85M110.1 63.5h0.85M92.4 127.7h0.85M96.6 45.3h0.85M88.5 98.8h0.85M93.3 147.8h0.85M91.2 158.4h0.85M90.4 156.8h0.85M105.6 142.9h0.85M96.8 96.8h0.85M99.4 133.8h0.85M90.8 63.3h0.85M93.4 127.7h0.85M87.4 86.8h0.85M96.1 160.9h0.85M96.4 60.3h0.85M93.4 64.1h0.85M107.2 129.7h0.85M89.9 118.1h0.85M89.4 126.5h0.85M92.2 122.8h0.85M92.9 48.3h0.85M91.6 123.4h0.85M85.6 101.7h0.85M97.5 68.7h0.85M93.8 154.3h0.85M89.6 141.9h0.85M94.1 131.0h0.85M88.9 98.3h0.85M100.0 63.6h0.85M91.1 42.0h0.85M92.2 105.9h0.85M87.8 107.9h0.85M87.3 82.1h0.85M87.0 98.8h0.85M96.7 127.1h0.85M85.7 102.1h0.85M89.1 68.2h0.85M93.9 58.7h0.85M91.2 158.0h0.85M90.8 68.9h0.85M88.6 83.9h0.85M89.0 142.5h0.85M99.2 45.9h0.85M88.1 112.6h0.85M83.3 85.8h0.85M84.5 169.5h0.85M94.7 113.6h0.85M87.4 111.9h0.85M110.0 129.6h0.85M94.2 81.7h0.85M91.7 45.3h0.85M107.2 122.1h0.85M106.9 102.8h0.85M92.9 70.8h0.85M89.7 139.8h0.85M91.6 141.9h0.85M90.8 74.0h0.85M86.1 94.3h0.85M94.0 143.5h0.85M95.1 44.5h0.85M91.2 153.9h0.85M89.8 131.2h0.85M96.2 83.9h0.85M94.6 105.4h0.85M95.8 74.3h0.85M104.4 166.6h0.85M92.3 61.8h0.85M105.6 64.9h0.85M90.8 135.4h0.85M88.9 108.8h0.85M92.8 55.8h0.85M102.6 103.9h0.85M88.4 97.1h0.85M112.3 65.4h0.85M87.6 107.8h0.85M96.1 48.0h0.85M97.9 66.1h0.85M98.6 158.0h0.85M97.1 50.1h0.85M90.3 130.7h0.85M87.5 103.7h0.85M91.2 132.7h0.85M84.2 88.3h0.85M85.1 82.2h0.85M84.4 168.1h0.85M94.5 111.5h0.85M101.1 82.3h0.85M85.7 101.8h0.85M95.3 163.2h0.85M88.9 157.6h0.85M97.1 55.6h0.85M88.8 149.0h0.85M94.5 133.1h0.85M90.0 131.0h0.85M96.4 85.6h0.85M86.1 169.8h0.85M117.2 118.9h0.85M95.6 53.3h0.85M91.3 110.6h0.85M94.0 74.7h0.85M85.8 98.0h0.85M83.6 87.1h0.85M100.6 117.8h0.85M95.1 60.0h0.85M89.3 102.7h0.85M87.5 85.9h0.85M105.2 134.9h0.85M86.4 75.7h0.85M88.0 88.8h0.85M88.7 77.3h0.85M92.6 55.0h0.85M96.9 67.5h0.85M83.7 92.9h0.85M92.2 144.0h0.85M110.7 52.8h0.85M94.4 61.2h0.85M90.0 124.0h0.85M89.9 64.5h0.85M87.8 74.9h0.85M104.6 91.6h0.85M92.1 126.8h0.85M91.6 64.5h0.85M100.5 50.9h0.85M85.4 95.2h0.85M96.7 133.7h0.85M90.2 151.8h0.85M89.4 119.1h0.85M84.7 85.9h0.85M85.5 84.6h0.85M95.6 146.4h0.85M101.1 145.6h0.85M94.2 131.9h0.85M96.2 114.0h0.85M93.9 70.4h0.85M93.0 119.2h0.85M129.2 43.2h0.85M91.9 171.2h0.85M91.8 113.4h0.85M87.8 107.1h0.85M87.2 171.1h0.85M84.5 82.1h0.85M95.5 64.9h0.85M110.7 100.5h0.85M85.0 94.5h0.85M95.7 117.9h0.85M91.2 130.7h0.85M84.6 97.0h0.85M98.7 132.2h0.85M104.0 126.6h0.85M92.0 110.0h0.85M92.8 45.7h0.85M85.2 77.8h0.85M85.9 93.4h0.85M84.0 91.2h0.85M92.1 76.5h0.85M92.1 47.6h0.85M98.3 138.4h0.85M84.4 92.3h0.85M88.6 113.5h0.85M95.6 131.4h0.85M88.4 75.3h0.85M92.5 80.0h0.85M103.8 126.7h0.85M88.5 154.8h0.85M88.9 66.6h0.85M96.3 98.7h0.85M89.0 70.1h0.85M97.7 58.2h0.85M91.2 96.9h0.85M100.3 97.9h0.85M91.5 43.9h0.85M91.6 73.1h0.85M108.0 49.3h0.85M94.5 44.7h0.85M91.5 114.2h0.85M94.4 86.0h0.85M106.9 134.4h0.85M90.3 68.1h0.85M94.5 59.6h0.85M94.9 141.9h0.85M99.1 48.9h0.85M97.3 116.9h0.85M96.4 49.1h0.85M100.4 49.7h0.85M89.3 117.5h0.85M92.5 142.6h0.85M88.8 156.7h0.85M100.1 103.6h0.85M88.2 104.3h0.85M88.9 87.4h0.85M99.8 125.5h0.85M111.2 46.3h0.85M89.1 135.0h0.85M89.3 141.6h0.85M96.3 136.0h0.85M102.3 126.3h0.85M96.2 85.8h0.85M89.2 134.8h0.85M85.3 94.5h0.85M89.2 129.5h0.85M87.3 76.2h0.85M101.1 78.0h0.85M99.6 130.5h0.85M91.1 65.4h0.85M90.7 153.6h0.85M94.1 117.1h0.85M92.1 77.3h0.85M83.3 88.7h0.85M92.3 62.2h0.85M101.2 143.4h0.85M96.9 58.0h0.85M92.4 51.8h0.85M86.4 101.0h0.85M86.2 174.1h0.85M89.1 70.2h0.85M94.6 69.9h0.85M94.6 96.5h0.85M86.3 87.6h0.85M90.0 78.1h0.85M88.8 120.2h0.85M92.5 56.7h0.85M99.6 54.2h0.85M94.0 108.9h0.85M80.0 170.9h0.85M90.6 68.7h0.85M111.1 73.1h0.85M90.4 72.7h0.85M105.2 53.5h0.85M92.4 55.3h0.85M84.3 85.4h0.85M90.6 80.9h0.85M98.2 121.9h0.85M93.0 64.2h0.85M92.5 119.4h0.85M91.0 151.3h0.85M101.7 59.3h0.85M91.8 97.4h0.85M83.6 87.0h0.85M92.6 161.5h0.85M103.3 101.9h0.85M86.3 81.9h0.85M84.7 96.5h0.85M114.1 122.3h0.85M88.0 74.9h0.85M99.5 110.3h0.85M96.4 86.6h0.85M92.7 59.3h0.85M97.6 45.9h0.85M110.6 164.1h0.85M89.7 80.7h0.85M90.5 145.9h0.85M91.2 97.4h0.85M87.7 89.7h0.85M86.4 81.0h0.85M84.8 86.9h0.85M84.8 90.2h0.85M98.6 58.1h0.85M140.2 153.9h0.85M86.7 99.7h0.85M92.5 68.2h0.85M87.4 98.0h0.85M87.8 106.8h0.85M110.2 144.0h0.85M97.9 64.0h0.85M99.3 109.9h0.85M99.4 62.5h0.85M95.4 91.6h0.85M91.9 137.5h0.85M84.1 88.0h0.85M96.4 131.8h0.85M98.4 77.7h0.85M84.0 86.0h0.85M94.4 52.2h0.85M111.1 81.9h0.85M93.4 53.8h0.85M85.1 77.7h0.85M95.0 66.5h0.85M100.4 92.9h0.85M96.5 171.8h0.85M82.9 167.0h0.85M110.8 156.0h0.85M95.1 150.9h0.85M90.4 65.0h0.85M91.2 109.8h0.85M98.7 148.8h0.85M99.5 169.8h0.85M94.9 125.1h0.85M102.7 60.4h0.85M87.4 89.3h0.85M91.5 67.6h0.85M101.9 95.9h0.85M104.6 42.1h0.85M87.1 161.7h0.85M81.9 168.4h0.85M89.7 143.6h0.85M92.4 79.1h0.85M92.2 59.2h0.85M110.1 152.7h0.85M98.1 78.2h0.85M89.8 123.6h0.85M104.0 54.6h0.85M94.8 62.1h0.85M88.8 160.6h0.85M93.1 65.6h0.85M89.3 130.8h0.85M98.3 138.7h0.85M88.6 114.1h0.85M89.3 110.2h0.85M97.1 134.6h0.85M96.7 45.6h0.85M96.6 173.2h0.85M97.0 124.9h0.85M100.3 106.9h0.85M87.4 80.2h0.85M91.3 79.2h0.85M89.4 125.9h0.85M90.7 68.2h0.85M105.3 137.3h0.85M96.3 53.7h0.85M87.0 94.5h0.85M122.6 80.5h0.85M98.5 42.3h0.85M99.4 136.7h0.85M93.1 162.8h0.85M88.3 94.8h0.85M93.5 74.7h0.85M96.1 131.3h0.85M93.0 57.4h0.85M87.9 157.8h0.85M102.6 110.8h0.85M90.6 134.6h0.85M87.7 83.7h0.85M92.1 113.6h0.85M99.6 119.0h0.85M93.4 126.5h0.85M91.8 100.6h0.85M89.0 100.7h0.85M88.3 100.2h0.85M99.4 47.4h0.85M95.5 92.4h0.85M95.6 134.5h0.85M92.5 92.8h0.85M86.6 79.3h0.85M92.5 98.6h0.85M84.9 81.4h0.85M97.9 97.5h0.85M95.7 61.0h0.85M104.6 119.9h0.85M109.6 61.2h0.85M87.2 103.6h0.85M92.1 145.5h0.85M92.6 131.8h0.85M84.4 93.9h0.85M94.0 69.6h0.85M87.9 80.1h0.85M86.4 78.9h0.85M89.0 132.4h0.85M102.1 61.4h0.85M89.8 103.8h0.85M93.8 136.9h0.85M92.2 56.7h0.85M101.0 120.0h0.85M85.9 169.1h0.85M97.3 158.6h0.85M87.3 74.2h0.85M90.0 169.1h0.85M96.8 58.4h0.85M91.0 101.1h0.85M98.1 131.6h0.85M87.0 160.1h0.85M92.7 155.0h0.85M87.8 98.2h0.85M92.9 90.4h0.85M90.1 137.2h0.85M87.2 79.5h0.85M86.8 99.2h0.85M87.5 158.0h0.85M95.1 80.2h0.85M90.4 157.4h0.85M93.4 49.8h0.85M99.9 53.8h0.85M85.0 91.5h0.85M92.6 134.4h0.85M96.2 72.3h0.85M100.4 123.3h0.85M98.3 52.7h0.85M85.8 74.0h0.85M95.3 57.3h0.85M92.9 45.3h0.85M85.2 75.6h0.85M102.9 45.8h0.85M88.6 69.4h0.85M88.0 108.6h0.85M87.2 104.2h0.85M106.6 117.5h0.85M100.9 57.6h0.85M84.4 89.0h0.85M90.2 130.5h0.85M92.4 107.5h0.85M86.4 169.8h0.85M86.2 98.9h0.85M92.5 70.6h0.85M106.1 134.2h0.85M91.0 146.6h0.85M92.8 65.4h0.85M93.3 126.1h0.85M89.7 109.8h0.85M86.9 165.2h0.85M86.0 82.2h0.85M91.2 108.2h0.85M88.4 86.1h0.85M93.4 151.6h0.85M93.4 49.5h0.85M96.9 135.6h0.85M94.7 42.6h0.85M94.1 49.6h0.85M88.8 147.8h0.85M95.1 71.0h0.85M105.2 119.6h0.85M94.4 166.1h0.85M89.0 66.1h0.85M86.0 95.6h0.85M90.0 147.8h0.85M93.5 125.7h0.85M99.2 127.1h0.85M94.4 68.1h0.85M92.3 113.4h0.85M88.6 156.2h0.85M112.3 113.5h0.85M105.7 129.0h0.85M91.6 137.0h0.85M86.2 91.8h0.85M90.8 112.2h0.85M94.9 90.5h0.85M85.4 79.5h0.85M103.8 52.2h0.85M98.7 162.6h0.85M84.0 88.7h0.85M89.5 138.8h0.85M89.9 70.0h0.85M90.0 123.1h0.85M112.3 142.9h0.85M89.1 136.9h0.85M86.9 106.7h0.85M90.8 62.7h0.85M89.3 143.1h0.85M102.0 58.5h0.85M88.3 110.2h0.85M91.8 42.8h0.85M93.0 50.4h0.85M92.6 164.6h0.85M95.4 47.2h0.85M102.2 53.4h0.85M103.1 56.4h0.85M91.3 107.0h0.85M100.0 146.4h0.85M103.2 59.8h0.85M100.1 140.0h0.85M84.3 82.3h0.85M93.5 128.6h0.85M95.1 62.7h0.85M87.3 86.7h0.85M92.5 150.9h0.85M93.0 52.3h0.85M90.8 63.0h0.85M100.9 80.9h0.85M87.7 70.6h0.85M96.7 161.4h0.85M90.6 154.8h0.85M89.8 101.5h0.85M89.9 128.0h0.85M88.8 119.7h0.85M94.4 129.3h0.85M121.5 125.6h0.85M93.4 46.3h0.85M103.4 117.7h0.85M91.9 87.8h0.85M87.5 70.3h0.85M87.8 110.9h0.85M86.6 72.9h0.85M95.7 122.2h0.85M87.9 116.0h0.85M91.0 135.9h0.85M90.4 45.4h0.85M99.2 149.1h0.85M94.6 58.5h0.85M92.8 106.6h0.85M87.1 98.8h0.85M90.5 150.4h0.85M88.7 166.2h0.85M88.3 78.4h0.85M95.1 110.2h0.85M89.6 160.9h0.85M88.8 110.4h0.85M88.3 76.3h0.85M88.1 113.9h0.85M110.5 124.2h0.85M100.4 55.1h0.85M106.7 67.4h0.85M99.1 99.2h0.85M116.5 162.9h0.85M100.6 106.9h0.85M86.9 169.5h0.85M100.9 107.0h0.85M91.7 141.6h0.85M99.4 136.2h0.85M93.5 43.6h0.85M86.3 101.0h0.85M97.8 119.9h0.85M95.4 153.0h0.85M88.5 74.4h0.85M84.3 82.1h0.85M99.7 108.4h0.85M85.7 91.0h0.85M88.0 91.7h0.85M98.9 119.1h0.85M94.2 48.4h0.85M88.1 100.3h0.85M100.6 51.8h0.85M96.0 44.1h0.85M93.7 50.3h0.85M92.0 131.4h0.85M98.7 147.0h0.85M99.6 53.1h0.85M98.2 52.7h0.85M91.5 46.0h0.85M91.9 107.0h0.85M96.4 62.3h0.85M75.6 175.1h0.85M95.7 125.6h0.85M94.6 162.2h0.85M94.9 55.3h0.85M92.4 121.3h0.85M92.7 145.0h0.85M85.8 102.4h0.85M94.2 109.4h0.85M93.4 49.1h0.85M103.8 71.1h0.85M90.2 76.9h0.85M88.7 102.1h0.85M98.2 44.1h0.85M104.3 53.9h0.85M94.0 122.1h0.85M96.5 77.0h0.85M98.6 113.8h0.85M99.2 109.6h0.85M97.3 114.4h0.85M91.1 111.5h0.85M97.4 47.6h0.85M98.1 44.0h0.85M87.3 102.4h0.85M105.1 58.8h0.85M84.2 85.5h0.85M90.9 62.3h0.85M91.7 149.8h0.85M91.2 81.8h0.85M94.3 122.5h0.85M89.1 79.0h0.85M91.1 63.9h0.85M100.8 160.4h0.85M111.5 109.1h0.85M94.4 139.4h0.85M100.8 102.4h0.85M94.7 45.6h0.85M94.3 58.7h0.85M92.2 62.0h0.85M96.2 46.3h0.85M87.6 96.8h0.85M104.9 57.2h0.85M95.9 89.4h0.85M96.0 123.8h0.85M98.5 129.8h0.85M92.1 45.9h0.85M87.7 163.7h0.85M85.3 82.1h0.85M96.8 82.2h0.85M100.9 127.9h0.85M93.4 98.9h0.85M100.4 112.9h0.85M97.8 129.5h0.85M121.2 58.1h0.85M92.8 86.9h0.85M84.4 168.9h0.85M102.6 83.8h0.85M96.3 52.5h0.85M99.5 148.4h0.85M91.4 71.6h0.85M88.7 72.7h0.85M85.5 98.0h0.85M102.3 53.3h0.85M95.7 134.2h0.85M94.0 87.8h0.85M92.1 133.5h0.85M108.3 60.1h0.85M85.4 90.8h0.85M96.8 63.1h0.85M92.7 56.2h0.85M91.2 79.4h0.85M86.0 92.1h0.85M94.1 45.2h0.85M92.6 129.3h0.85M94.0 129.5h0.85M84.9 81.1h0.85M101.4 101.0h0.85M85.1 79.0h0.85M94.1 55.8h0.85M89.5 104.6h0.85M89.0 153.5h0.85M92.9 111.0h0.85M78.5 172.2h0.85M92.4 125.3h0.85M89.4 118.2h0.85M89.0 118.1h0.85M90.9 127.2h0.85M89.8 156.2h0.85M95.4 58.8h0.85M94.0 139.3h0.85M101.2 139.2h0.85M98.4 89.9h0.85M85.0 92.3h0.85M93.2 122.7h0.85M90.6 43.1h0.85M112.0 153.7h0.85M87.7 67.8h0.85M89.9 108.4h0.85M100.8 64.1h0.85M97.8 145.1h0.85M90.9 131.1h0.85M92.7 53.3h0.85M98.8 51.6h0.85M89.8 144.0h0.85M88.8 81.2h0.85M98.0 139.2h0.85M85.8 101.2h0.85M94.2 158.0h0.85M84.6 88.1h0.85M92.7 54.4h0.85M91.5 155.9h0.85M86.0 83.0h0.85M86.6 95.9h0.85M92.5 147.5h0.85M87.6 76.1h0.85M92.1 45.9h0.85M96.8 145.5h0.85M95.6 158.0h0.85M122.5 126.7h0.85M88.6 68.5h0.85M100.8 56.3h0.85M93.6 146.9h0.85M90.6 141.3h0.85M117.3 148.2h0.85M127.7 124.3h0.85M89.2 122.0h0.85M102.4 147.1h0.85M94.1 64.3h0.85M87.9 109.5h0.85M89.0 110.2h0.85M89.3 135.2h0.85M90.3 79.7h0.85M97.4 144.3h0.85M84.0 95.9h0.85M103.7 101.8h0.85M86.4 162.0h0.85M106.7 87.5h0.85M88.6 163.1h0.85M89.0 91.5h0.85M83.8 85.0h0.85M89.2 67.5h0.85M92.0 69.4h0.85M85.2 80.0h0.85M91.1 78.7h0.85M100.8 130.5h0.85M84.4 80.5h0.85M85.5 80.4h0.85M76.6 176.6h0.85M84.6 92.8h0.85M85.3 89.5h0.85M99.2 113.6h0.85M89.6 70.5h0.85M93.5 86.3h0.85M94.0 140.9h0.85M84.5 94.7h0.85M96.8 72.3h0.85M91.2 42.3h0.85M91.2 61.5h0.85M105.4 56.6h0.85M105.6 67.6h0.85M91.0 130.7h0.85M89.4 101.0h0.85M96.9 61.4h0.85M97.6 128.9h0.85M99.7 77.7h0.85M88.9 107.2h0.85M90.5 157.3h0.85M82.3 172.7h0.85M97.8 121.6h0.85M97.3 114.1h0.85M93.2 99.0h0.85M93.4 43.1h0.85M98.1 82.1h0.85M94.7 154.3h0.85M88.0 91.0h0.85M111.0 131.4h0.85M97.4 149.8h0.85M88.3 85.1h0.85M88.6 74.2h0.85M88.8 167.9h0.85M96.2 70.7h0.85M93.0 139.1h0.85M90.1 128.8h0.85M94.2 118.6h0.85M95.2 84.3h0.85M87.4 98.0h0.85M92.0 64.4h0.85M94.5 97.5h0.85M100.3 48.1h0.85M92.9 67.3h0.85M92.9 74.3h0.85M96.2 63.3h0.85M101.1 114.9h0.85M91.7 61.7h0.85M94.2 54.3h0.85M101.9 51.5h0.85M93.9 52.8h0.85M111.9 111.5h0.85M98.4 162.5h0.85M96.0 45.1h0.85M93.7 144.5h0.85M93.5 114.2h0.85M96.0 125.2h0.85M74.0 178.0h0.85M102.8 63.8h0.85M104.1 84.0h0.85M99.3 135.4h0.85M94.9 66.5h0.85M86.2 167.2h0.85M96.4 64.1h0.85M88.3 95.5h0.85M90.7 160.0h0.85M95.9 149.2h0.85M87.8 97.4h0.85M88.1 93.2h0.85M88.6 116.3h0.85M101.5 65.8h0.85M89.9 114.9h0.85M97.7 117.3h0.85M83.4 85.5h0.85M93.0 61.8h0.85M96.4 54.2h0.85M86.7 90.7h0.85M87.9 115.5h0.85M75.1 175.9h0.85M87.8 68.7h0.85M91.7 44.7h0.85M90.2 82.8h0.85M86.6 105.8h0.85M97.5 120.8h0.85M94.3 87.9h0.85M84.4 166.3h0.85M86.6 71.2h0.85M100.9 77.8h0.85M102.8 77.0h0.85M106.3 173.6h0.85M87.1 107.0h0.85M84.9 89.9h0.85M92.0 48.9h0.85M85.8 94.5h0.85M94.7 69.0h0.85M97.4 47.3h0.85M92.3 66.2h0.85M98.9 51.5h0.85M88.7 81.1h0.85M88.6 155.7h0.85M114.1 81.3h0.85M94.4 56.1h0.85M98.5 78.9h0.85M96.2 125.3h0.85M89.9 128.6h0.85M94.2 111.7h0.85M84.3 167.6h0.85M79.9 176.4h0.85M92.1 156.8h0.85M96.1 134.2h0.85M94.4 52.7h0.85M91.1 101.6h0.85M92.4 136.1h0.85M85.0 96.3h0.85M88.4 90.9h0.85M90.2 95.4h0.85M94.1 115.0h0.85M112.0 134.0h0.85M100.4 119.6h0.85M93.0 87.3h0.85M96.3 118.5h0.85M85.0 89.9h0.85M94.4 133.1h0.85M93.9 117.8h0.85M96.4 56.6h0.85M91.5 127.8h0.85M94.1 52.0h0.85M97.0 117.1h0.85M91.2 64.2h0.85M88.6 98.8h0.85M94.5 64.4h0.85M93.1 166.8h0.85M100.1 147.2h0.85M88.7 119.6h0.85M91.8 82.5h0.85M96.2 56.0h0.85M95.1 138.6h0.85M85.9 74.9h0.85M84.8 165.6h0.85M86.8 161.4h0.85M90.7 64.1h0.85M98.2 177.6h0.85M99.6 52.7h0.85M103.3 111.5h0.85M92.8 81.6h0.85M95.1 127.6h0.85M95.9 78.0h0.85M94.3 51.6h0.85M89.8 91.8h0.85M98.1 69.0h0.85M97.2 138.5h0.85M88.2 82.1h0.85M88.9 123.4h0.85M93.7 57.0h0.85M84.6 78.7h0.85M103.7 146.4h0.85M89.5 117.1h0.85M98.0 120.4h0.85M92.1 49.7h0.85M99.8 122.4h0.85M95.2 121.5h0.85M94.8 72.0h0.85M97.3 140.5h0.85M96.5 59.1h0.85M98.2 114.4h0.85M107.4 54.6h0.85M89.2 157.1h0.85M85.7 96.7h0.85M88.7 103.2h0.85M90.3 110.4h0.85M95.0 48.7h0.85M87.8 85.3h0.85M88.7 121.9h0.85M98.8 50.7h0.85M91.2 111.2h0.85M100.6 147.3h0.85M92.7 71.5h0.85M91.4 89.0h0.85M85.6 81.1h0.85M90.5 142.8h0.85M85.0 81.0h0.85M89.3 165.5h0.85M92.3 155.1h0.85M92.0 116.6h0.85M88.5 85.4h0.85M97.2 43.7h0.85M91.7 134.6h0.85M95.3 152.6h0.85M98.4 170.0h0.85M108.1 65.0h0.85M100.8 46.7h0.85M91.4 122.3h0.85M84.8 96.1h0.85M98.7 73.4h0.85M107.8 132.9h0.85M101.6 113.2h0.85M89.2 125.4h0.85M88.8 66.1h0.85M109.1 50.7h0.85M89.7 129.9h0.85M98.0 43.4h0.85M110.8 70.5h0.85M90.1 166.8h0.85M85.9 95.1h0.85M95.5 141.5h0.85M92.4 131.6h0.85M92.5 57.2h0.85M101.1 143.2h0.85M91.4 44.0h0.85M94.6 56.0h0.85M87.3 106.6h0.85M88.6 107.5h0.85M106.9 106.0h0.85M99.7 65.6h0.85M95.0 151.9h0.85M89.4 161.5h0.85M91.7 61.6h0.85M96.6 42.4h0.85M90.2 77.2h0.85M91.3 48.0h0.85M93.1 51.2h0.85M92.4 45.5h0.85M101.5 78.1h0.85M95.9 52.5h0.85M122.1 61.2h0.85M88.4 115.7h0.85M98.0 165.5h0.85M89.0 160.5h0.85M100.1 57.4h0.85M90.2 155.2h0.85M89.4 75.9h0.85M89.7 70.2h0.85M83.8 91.7h0.85M115.2 148.0h0.85M74.5 176.8h0.85M91.9 115.4h0.85M87.2 97.1h0.85M92.0 91.2h0.85M102.7 103.1h0.85M93.3 75.2h0.85M95.1 137.9h0.85M89.2 121.2h0.85M87.6 89.4h0.85M89.4 137.9h0.85M95.7 148.2h0.85M93.0 67.4h0.85M90.0 95.0h0.85M89.0 126.8h0.85M92.3 51.0h0.85M93.3 56.4h0.85M93.4 147.8h0.85M105.3 145.2h0.85M88.4 70.7h0.85M85.0 94.9h0.85M87.3 111.2h0.85M89.4 148.3h0.85M88.8 70.1h0.85M87.4 99.2h0.85M106.7 86.7h0.85M98.2 155.9h0.85M88.6 86.9h0.85M95.0 140.9h0.85M89.7 101.3h0.85M89.3 66.6h0.85M95.4 127.4h0.85M90.1 63.7h0.85M112.0 58.0h0.85M99.4 89.3h0.85M86.1 91.6h0.85M107.5 124.1h0.85M95.5 126.1h0.85M101.9 121.6h0.85M85.1 78.3h0.85M90.0 83.0h0.85M84.4 79.0h0.85M89.3 124.3h0.85M91.6 137.9h0.85M89.3 73.1h0.85M86.7 102.7h0.85M95.6 111.6h0.85M85.5 89.7h0.85M85.6 96.0h0.85M102.5 54.0h0.85M87.4 161.4h0.85M73.7 177.8h0.85M88.5 160.0h0.85M95.4 125.8h0.85M94.8 45.3h0.85M80.2 172.5h0.85M92.6 148.0h0.85M95.3 114.2h0.85M89.7 110.3h0.85M95.7 127.7h0.85M94.7 140.8h0.85M95.0 116.6h0.85M91.4 90.0h0.85M111.0 52.6h0.85M90.8 96.1h0.85M96.8 54.9h0.85M88.6 93.8h0.85M98.3 160.8h0.85M94.1 111.2h0.85M102.9 136.1h0.85M109.3 100.2h0.85M88.3 118.3h0.85M87.0 80.1h0.85M89.6 146.4h0.85M91.3 93.9h0.85M90.1 103.6h0.85M96.7 96.5h0.85M98.0 64.1h0.85M89.4 72.9h0.85M90.3 120.2h0.85M93.3 63.4h0.85M77.5 176.0h0.85M108.0 147.8h0.85M91.2 145.8h0.85M100.2 115.9h0.85M98.6 123.6h0.85M102.5 61.8h0.85M92.6 66.6h0.85M89.3 132.4h0.85M103.5 132.8h0.85M112.2 95.9h0.85M89.9 72.7h0.85M91.4 63.5h0.85M93.1 50.2h0.85M96.4 168.9h0.85M93.1 113.9h0.85M106.9 120.5h0.85M92.3 130.8h0.85M94.6 58.2h0.85M87.4 74.4h0.85M86.3 74.0h0.85M91.5 111.2h0.85M90.3 68.3h0.85M99.1 155.9h0.85M94.1 92.7h0.85M90.2 127.6h0.85M89.0 141.1h0.85M83.4 90.7h0.85M93.1 121.6h0.85M85.7 93.5h0.85M93.7 73.0h0.85M91.7 103.3h0.85M98.7 49.7h0.85M102.0 123.4h0.85M100.6 50.1h0.85M84.0 88.4h0.85M93.1 116.0h0.85M101.7 88.7h0.85M91.7 108.4h0.85M92.4 57.9h0.85M85.5 76.3h0.85M94.5 61.2h0.85M91.8 148.8h0.85M89.6 142.6h0.85M89.1 147.8h0.85M92.5 60.2h0.85M86.1 90.9h0.85M92.3 88.7h0.85M91.3 72.3h0.85M88.7 73.9h0.85M95.1 83.6h0.85M90.1 173.0h0.85M93.4 94.0h0.85M92.2 149.7h0.85M92.0 143.9h0.85M89.4 108.7h0.85M93.8 111.1h0.85M104.4 66.7h0.85M97.4 93.0h0.85M99.2 138.9h0.85M89.8 119.7h0.85M87.7 91.5h0.85M107.3 55.3h0.85M92.5 144.8h0.85M85.3 81.4h0.85M87.1 71.7h0.85M105.8 106.4h0.85M94.4 57.6h0.85M88.5 88.9h0.85M93.9 55.1h0.85M97.0 53.5h0.85M92.7 70.1h0.85M89.2 68.2h0.85M88.6 97.2h0.85M121.9 51.9h0.85M80.4 176.2h0.85M94.2 79.6h0.85M93.5 98.9h0.85M108.6 59.6h0.85M104.6 136.0h0.85M88.5 103.4h0.85M114.4 53.4h0.85M85.8 97.9h0.85M93.6 136.6h0.85M89.5 74.9h0.85M102.8 80.7h0.85M84.2 95.2h0.85M88.5 155.8h0.85M95.4 130.9h0.85M102.7 89.0h0.85M94.2 84.6h0.85M100.0 90.5h0.85M87.1 94.6h0.85M96.2 105.1h0.85M84.2 97.1h0.85M92.7 88.3h0.85M100.0 144.4h0.85M101.0 161.5h0.85M103.2 160.9h0.85M98.6 62.9h0.85M91.5 120.9h0.85M93.6 65.6h0.85M94.0 161.5h0.85M89.7 111.3h0.85M101.9 43.9h0.85M108.0 152.5h0.85M91.9 133.4h0.85M93.0 57.9h0.85M93.7 50.3h0.85M73.9 177.8h0.85M88.8 102.3h0.85M93.9 123.6h0.85M86.6 95.2h0.85M91.9 107.2h0.85M94.9 154.7h0.85M91.4 149.5h0.85M93.7 98.2h0.85M93.9 155.5h0.85M92.4 85.7h0.85M91.0 148.9h0.85M104.3 84.9h0.85M86.9 78.1h0.85M99.2 112.1h0.85M92.1 66.6h0.85M93.8 51.5h0.85M89.0 98.1h0.85M109.3 52.9h0.85M110.4 61.1h0.85M85.4 93.4h0.85M93.8 145.8h0.85M94.1 91.9h0.85M96.6 47.4h0.85M87.4 99.8h0.85M86.9 99.4h0.85M88.6 75.9h0.85M84.9 88.0h0.85M93.4 106.7h0.85M88.6 112.1h0.85M89.7 124.6h0.85M90.1 135.0h0.85M87.2 92.1h0.85M91.6 44.1h0.85M89.7 101.7h0.85M102.5 79.5h0.85M104.6 126.4h0.85M95.8 70.7h0.85M101.7 124.1h0.85M90.8 77.9h0.85M93.3 64.8h0.85M91.9 49.5h0.85M91.2 107.3h0.85M99.1 59.0h0.85M91.8 68.2h0.85M113.5 79.1h0.85M90.8 63.4h0.85M91.0 43.8h0.85M98.9 58.7h0.85M108.4 141.2h0.85M86.3 99.3h0.85M93.6 133.6h0.85M94.1 136.4h0.85M90.6 124.1h0.85M92.9 119.3h0.85M98.5 52.9h0.85M87.1 84.8h0.85M91.8 42.7h0.85M92.9 103.1h0.85M89.4 159.9h0.85M90.1 112.9h0.85M90.0 158.1h0.85M92.5 125.4h0.85M95.5 48.2h0.85M108.5 53.8h0.85M98.4 63.4h0.85M96.9 60.8h0.85M88.2 82.5h0.85M94.4 157.2h0.85M110.8 135.7h0.85M104.4 148.3h0.85M93.7 95.1h0.85M88.4 101.8h0.85M88.8 86.1h0.85M86.9 71.4h0.85M91.5 83.3h0.85M93.1 61.6h0.85M79.8 170.8h0.85M95.7 126.6h0.85M80.7 171.8h0.85M114.4 60.9h0.85M93.0 127.2h0.85M88.0 102.8h0.85M84.7 166.0h0.85M104.4 44.5h0.85M130.0 124.4h0.85M94.6 113.3h0.85M98.6 49.4h0.85M88.7 106.4h0.85M88.9 81.3h0.85M90.5 81.9h0.85M106.2 47.6h0.85M89.0 154.6h0.85M94.7 68.5h0.85M93.1 60.9h0.85M88.0 161.4h0.85M79.2 172.9h0.85M93.2 107.9h0.85M90.9 158.7h0.85M86.6 77.1h0.85M101.7 61.0h0.85M89.2 142.3h0.85M113.0 119.3h0.85M91.5 157.9h0.85M113.4 117.1h0.85M90.4 99.4h0.85M91.2 97.4h0.85M91.6 86.4h0.85M87.3 75.7h0.85M117.6 152.7h0.85M90.6 81.2h0.85M95.5 63.3h0.85M105.6 118.6h0.85M84.6 82.2h0.85M95.2 56.6h0.85M86.1 95.5h0.85M95.1 56.2h0.85M88.4 83.9h0.85M86.0 98.8h0.85M95.1 61.9h0.85M94.0 136.5h0.85M106.0 48.7h0.85M85.9 99.3h0.85M83.7 84.7h0.85M99.9 166.6h0.85M95.3 58.7h0.85M112.5 52.4h0.85M99.7 86.3h0.85M84.6 172.3h0.85M86.9 107.1h0.85M92.1 47.8h0.85M97.4 149.3h0.85M94.9 138.9h0.85M80.9 174.8h0.85M97.6 67.1h0.85M93.3 57.3h0.85M88.9 111.9h0.85M96.3 164.6h0.85M120.0 120.6h0.85M86.5 105.4h0.85M98.7 45.4h0.85M94.5 133.8h0.85M93.0 143.6h0.85M101.5 121.9h0.85M106.5 145.1h0.85M105.4 107.4h0.85M86.2 74.1h0.85M82.9 171.2h0.85M95.9 53.0h0.85M86.8 78.7h0.85M101.5 69.9h0.85M93.0 124.9h0.85M89.9 105.0h0.85M93.7 119.8h0.85M93.6 105.5h0.85M89.2 125.1h0.85M97.7 56.5h0.85M99.4 92.4h0.85M92.4 116.5h0.85M91.6 124.7h0.85M111.0 101.5h0.85M95.7 49.0h0.85M89.4 137.2h0.85M98.8 110.2h0.85M88.5 88.7h0.85M95.1 134.5h0.85M95.2 47.7h0.85M91.7 135.3h0.85M103.5 51.1h0.85M97.2 125.5h0.85M96.0 128.3h0.85M87.1 110.1h0.85M88.5 107.9h0.85M100.4 58.1h0.85M95.2 76.3h0.85M87.7 87.5h0.85M89.7 115.2h0.85M90.2 80.6h0.85M86.4 80.4h0.85M94.7 149.8h0.85M90.3 155.5h0.85M93.5 160.2h0.85M90.4 42.6h0.85M85.2 165.4h0.85M110.1 56.0h0.85M104.2 45.0h0.85M96.0 57.7h0.85M88.0 76.4h0.85M91.7 115.5h0.85M100.4 50.0h0.85M89.2 166.1h0.85M107.7 101.4h0.85M98.2 138.7h0.85M90.1 76.9h0.85M106.9 69.6h0.85M93.2 120.2h0.85M94.2 54.8h0.85M85.7 78.6h0.85M93.7 58.9h0.85M89.7 122.6h0.85M87.8 92.0h0.85M115.0 45.7h0.85M83.7 169.6h0.85M93.0 155.0h0.85M96.9 46.6h0.85M88.3 80.2h0.85M86.7 94.1h0.85M94.2 175.9h0.85M91.0 46.4h0.85M96.2 126.6h0.85M94.6 96.4h0.85M86.1 97.2h0.85M92.1 132.4h0.85M85.8 84.3h0.85M93.9 82.7h0.85M88.9 149.7h0.85M84.1 86.0h0.85M94.0 152.2h0.85M83.6 88.2h0.85M92.2 134.8h0.85M104.0 42.1h0.85M87.9 115.5h0.85M90.7 102.0h0.85M99.8 124.8h0.85M109.3 131.1h0.85M104.8 65.5h0.85M89.6 158.9h0.85M91.2 112.4h0.85M90.6 78.8h0.85M89.9 79.3h0.85M91.2 116.9h0.85M92.8 102.0h0.85M94.4 59.2h0.85M86.1 161.1h0.85M93.5 139.3h0.85M92.8 68.2h0.85M81.2 168.8h0.85M100.4 119.8h0.85M86.8 105.9h0.85M92.3 159.5h0.85M97.5 56.1h0.85M101.5 54.4h0.85M94.3 58.5h0.85M90.5 103.0h0.85M74.9 174.8h0.85M88.7 84.9h0.85M92.2 168.1h0.85M91.6 64.2h0.85M97.5 42.2h0.85M98.8 110.8h0.85M82.4 169.2h0.85M94.3 148.0h0.85M102.6 106.8h0.85M89.6 147.4h0.85M92.2 139.4h0.85M93.4 63.8h0.85M94.3 133.8h0.85M88.3 74.1h0.85M85.6 95.2h0.85M96.0 70.8h0.85M87.2 92.8h0.85M87.7 97.3h0.85M90.6 151.4h0.85M112.0 143.7h0.85M95.0 66.0h0.85M90.4 137.3h0.85M88.9 87.2h0.85M98.6 121.3h0.85M94.9 56.8h0.85M99.7 64.6h0.85M87.4 78.0h0.85M88.6 147.4h0.85M88.2 67.1h0.85M85.6 79.5h0.85M90.5 112.0h0.85M86.6 98.5h0.85M87.8 70.3h0.85M98.1 113.2h0.85M89.9 111.0h0.85M90.7 62.8h0.85M98.8 109.6h0.85M94.7 101.5h0.85M90.5 153.1h0.85M90.5 127.7h0.85M96.1 56.9h0.85M98.6 58.1h0.85M103.6 108.0h0.85M99.3 131.1h0.85M106.2 132.6h0.85M87.0 159.0h0.85M91.3 65.9h0.85M95.9 56.3h0.85M101.7 89.5h0.85M85.0 82.8h0.85M100.2 116.2h0.85M98.0 81.3h0.85M96.8 118.0h0.85M90.2 105.1h0.85M88.2 157.0h0.85M108.2 73.4h0.85M93.3 71.5h0.85M109.3 157.0h0.85M92.4 157.4h0.85M93.1 159.4h0.85M88.7 92.7h0.85M93.3 59.3h0.85M99.9 116.2h0.85M88.0 171.6h0.85M89.1 121.8h0.85M89.6 135.0h0.85M91.2 46.1h0.85M85.2 97.8h0.85M91.2 66.0h0.85M97.0 53.1h0.85M88.8 71.8h0.85M89.7 81.2h0.85M90.1 110.1h0.85M92.1 125.3h0.85M89.3 115.6h0.85M97.3 90.6h0.85M94.6 62.7h0.85M87.0 109.4h0.85M102.9 164.2h0.85M88.3 163.2h0.85M89.7 120.0h0.85M91.6 112.5h0.85M89.0 72.1h0.85M102.1 143.3h0.85M94.8 121.1h0.85M91.0 96.7h0.85M92.9 50.3h0.85M89.3 66.5h0.85M94.6 135.5h0.85M88.3 112.1h0.85M89.4 147.6h0.85M100.0 57.7h0.85M91.8 134.0h0.85M91.2 161.6h0.85M99.3 46.2h0.85M117.9 50.2h0.85M91.7 141.0h0.85M87.9 114.6h0.85M86.3 84.2h0.85M94.1 89.8h0.85M95.8 46.9h0.85M93.2 145.1h0.85M112.9 45.0h0.85M80.3 174.0h0.85M89.8 155.7h0.85M92.4 59.3h0.85M88.7 126.5h0.85M99.4 152.4h0.85M87.4 97.0h0.85M86.5 99.6h0.85M89.3 149.8h0.85M95.3 44.8h0.85M96.0 93.0h0.85M104.0 168.0h0.85M89.5 69.2h0.85M102.2 75.8h0.85M96.9 116.9h0.85M93.0 120.3h0.85M92.0 133.2h0.85M89.4 126.4h0.85M89.0 73.2h0.85M89.9 160.2h0.85M94.2 62.2h0.85M89.8 143.1h0.85M100.4 42.5h0.85M114.1 161.5h0.85M96.3 77.6h0.85M95.0 117.2h0.85M92.1 107.8h0.85M88.5 81.6h0.85M94.2 52.4h0.85M85.2 96.0h0.85M83.8 84.1h0.85M92.4 77.7h0.85M97.6 147.6h0.85M85.4 94.2h0.85M102.0 61.1h0.85M89.3 67.2h0.85M94.7 105.1h0.85M104.9 69.4h0.85M91.6 106.9h0.85M95.7 56.9h0.85M95.3 107.3h0.85M86.8 74.5h0.85M90.0 94.1h0.85M83.0 168.6h0.85M93.4 107.8h0.85M107.5 142.4h0.85M94.5 86.2h0.85M89.2 68.2h0.85M84.9 89.2h0.85M87.7 70.8h0.85M93.1 111.3h0.85M89.2 133.6h0.85M87.1 78.0h0.85M94.9 137.7h0.85M100.4 111.7h0.85M127.1 150.0h0.85M89.8 145.6h0.85M80.4 170.1h0.85M90.8 135.3h0.85M95.9 50.7h0.85M90.6 88.7h0.85M84.6 96.0h0.85M89.4 160.7h0.85M87.1 159.9h0.85M87.2 71.5h0.85M85.4 164.1h0.85M87.3 98.3h0.85M92.3 133.6h0.85M97.2 132.9h0.85M88.3 100.6h0.85M94.4 118.4h0.85M92.5 106.1h0.85M91.5 134.9h0.85M88.6 154.4h0.85M100.6 115.8h0.85M87.4 161.4h0.85M92.8 110.3h0.85M91.8 49.3h0.85M96.7 123.1h0.85M84.3 86.1h0.85M101.2 142.3h0.85M86.5 80.6h0.85M90.4 129.6h0.85M88.0 68.2h0.85M110.9 130.2h0.85M103.1 136.1h0.85M93.6 46.4h0.85M88.0 103.3h0.85M86.9 102.8h0.85M84.7 81.7h0.85M119.6 134.1h0.85M91.1 102.2h0.85M88.1 156.5h0.85M102.4 134.4h0.85M91.8 131.5h0.85M95.8 142.3h0.85M109.5 103.2h0.85M90.6 43.2h0.85M94.1 142.1h0.85M104.6 100.3h0.85M90.8 159.4h0.85M88.0 162.2h0.85M91.2 155.3h0.85M92.6 116.5h0.85M91.0 127.9h0.85M90.9 129.2h0.85M87.2 102.7h0.85M93.7 96.7h0.85M92.8 42.2h0.85M87.1 160.0h0.85M91.8 59.8h0.85M95.6 57.3h0.85M91.1 146.7h0.85M95.1 44.0h0.85M90.4 131.9h0.85M96.4 74.8h0.85M88.4 118.8h0.85M89.6 73.2h0.85M99.3 121.4h0.85M90.0 141.7h0.85M100.8 157.4h0.85M94.5 44.6h0.85M85.3 167.8h0.85M94.3 154.2h0.85M87.2 73.6h0.85M90.3 123.9h0.85M88.5 113.3h0.85M89.2 124.4h0.85M86.1 75.2h0.85M89.5 138.0h0.85M93.1 119.1h0.85M87.3 170.9h0.85M84.4 92.4h0.85M90.8 115.1h0.85M98.0 128.1h0.85M96.0 125.9h0.85M89.6 87.6h0.85M89.2 122.9h0.85M85.3 100.2h0.85M97.9 140.9h0.85M86.5 91.4h0.85M95.3 103.2h0.85M96.0 122.1h0.85M118.7 67.2h0.85M93.0 116.3h0.85M87.1 161.5h0.85M89.6 136.6h0.85M88.8 110.0h0.85M96.9 59.6h0.85M98.5 120.2h0.85M95.0 98.0h0.85M84.1 93.1h0.85M90.6 139.5h0.85M92.2 112.5h0.85M88.3 67.3h0.85M86.5 103.3h0.85M86.1 90.5h0.85M98.7 154.0h0.85M90.0 114.6h0.85M90.9 138.1h0.85M98.9 50.3h0.85M85.9 79.8h0.85M92.3 44.9h0.85M104.2 135.5h0.85M82.0 167.9h0.85M92.8 156.6h0.85M91.7 62.7h0.85M98.1 59.3h0.85M86.6 93.1h0.85M93.4 50.2h0.85M105.2 125.5h0.85M91.0 131.5h0.85M89.8 134.8h0.85M89.4 154.3h0.85M87.7 85.5h0.85M92.4 44.0h0.85M100.8 66.3h0.85M101.8 153.8h0.85M91.6 62.1h0.85M100.9 56.4h0.85M97.1 135.5h0.85M88.9 124.9h0.85M90.4 152.4h0.85M87.6 161.3h0.85M85.2 164.7h0.85M96.4 43.7h0.85M94.3 77.8h0.85M96.2 54.7h0.85M89.8 164.8h0.85M91.9 82.5h0.85M93.1 61.6h0.85M93.3 119.0h0.85M95.5 154.4h0.85M83.3 86.1h0.85M89.2 158.5h0.85M77.0 173.7h0.85M89.8 114.7h0.85M88.3 73.4h0.85M114.7 82.6h0.85M89.4 64.9h0.85M89.8 102.0h0.85M85.8 96.0h0.85M84.8 81.6h0.85M91.1 97.0h0.85M87.9 77.6h0.85M91.5 166.6h0.85M100.3 101.1h0.85M98.5 57.8h0.85M87.4 81.9h0.85M93.6 135.1h0.85M76.1 175.2h0.85M93.8 144.8h0.85M95.9 50.9h0.85M83.5 89.4h0.85M96.1 51.1h0.85M90.4 118.4h0.85M107.6 95.8h0.85M86.5 102.8h0.85M92.1 80.8h0.85M96.6 54.2h0.85M98.6 148.5h0.85M83.8 88.8h0.85M94.3 51.5h0.85M94.1 69.5h0.85M95.2 48.7h0.85M89.2 160.9h0.85M112.7 65.4h0.85M92.9 58.6h0.85M88.6 149.4h0.85M88.4 71.3h0.85M97.5 138.9h0.85M79.1 173.4h0.85M93.8 105.0h0.85M94.2 71.2h0.85M91.5 131.7h0.85M93.7 124.8h0.85M86.6 75.1h0.85M89.5 115.3h0.85M89.4 111.1h0.85M85.9 97.9h0.85M96.3 92.7h0.85M88.9 131.8h0.85M94.8 97.8h0.85M97.2 118.6h0.85M89.5 127.2h0.85M90.5 160.2h0.85M95.9 103.2h0.85M95.9 152.8h0.85M94.0 63.5h0.85M90.9 141.2h0.85M100.8 137.5h0.85M90.4 43.7h0.85M89.0 129.6h0.85M95.8 52.0h0.85M85.8 165.7h0.85M94.8 117.5h0.85M100.1 62.4h0.85M90.9 141.6h0.85M84.6 79.1h0.85M95.4 51.4h0.85M91.3 118.4h0.85M101.7 150.8h0.85M96.2 139.2h0.85M91.4 151.2h0.85M110.0 138.6h0.85M86.6 94.4h0.85M88.9 71.6h0.85M84.7 88.1h0.85M108.2 45.1h0.85M102.7 52.5h0.85M94.6 43.4h0.85M99.2 117.5h0.85M88.4 112.9h0.85M116.9 143.2h0.85M96.4 46.1h0.85M88.9 142.4h0.85M92.0 126.0h0.85M89.2 128.1h0.85M85.9 79.5h0.85M97.3 124.9h0.85M94.2 145.7h0.85M91.8 156.8h0.85M93.5 52.5h0.85M91.0 138.9h0.85M92.7 116.2h0.85M98.8 142.1h0.85M92.0 143.7h0.85M100.7 116.9h0.85M97.4 158.9h0.85M88.8 72.1h0.85M84.3 94.6h0.85M91.1 119.0h0.85M94.2 65.1h0.85M117.0 151.7h0.85M95.8 65.9h0.85M93.5 131.8h0.85M85.1 84.6h0.85M99.8 162.0h0.85M84.8 83.7h0.85M93.8 52.4h0.85M88.5 168.7h0.85M102.8 167.6h0.85M96.5 60.2h0.85M88.6 117.6h0.85M89.5 132.8h0.85M85.6 84.7h0.85M89.4 141.4h0.85M85.9 93.3h0.85M94.5 118.5h0.85M90.4 100.4h0.85M91.0 110.1h0.85M93.4 98.3h0.85M87.4 107.9h0.85M90.7 137.0h0.85M83.7 86.7h0.85M94.4 45.2h0.85M91.5 134.5h0.85M87.5 103.2h0.85M99.1 159.5h0.85M95.2 45.1h0.85M88.7 146.2h0.85M84.8 83.0h0.85M88.8 85.9h0.85M97.2 58.7h0.85M89.2 129.9h0.85M91.9 70.8h0.85M89.7 150.6h0.85M94.7 117.3h0.85M89.1 133.7h0.85M93.5 103.6h0.85M89.2 123.9h0.85M98.2 49.6h0.85M98.4 55.7h0.85M85.6 76.1h0.85M90.6 111.9h0.85M96.6 43.2h0.85M85.3 77.7h0.85M95.7 54.3h0.85M96.4 153.5h0.85M90.6 117.2h0.85M87.6 71.8h0.85M89.2 154.4h0.85M83.8 87.1h0.85M93.1 126.0h0.85M100.6 88.1h0.85M93.8 71.1h0.85M97.0 51.5h0.85M92.1 46.9h0.85M102.5 153.5h0.85M85.3 98.7h0.85M99.0 60.4h0.85M93.4 135.5h0.85M90.6 68.7h0.85M98.4 101.5h0.85M85.2 87.0h0.85M89.1 141.0h0.85M93.5 143.7h0.85M97.3 126.1h0.85M97.2 111.2h0.85M96.0 142.7h0.85M88.4 66.6h0.85M95.7 69.6h0.85M89.7 65.5h0.85M90.1 68.1h0.85M98.9 103.7h0.85M92.3 61.5h0.85M120.6 51.6h0.85M87.4 168.8h0.85M93.8 149.9h0.85M91.9 117.3h0.85M90.0 113.6h0.85M86.2 86.6h0.85M88.3 100.8h0.85M92.3 151.2h0.85M102.1 112.3h0.85M94.5 125.7h0.85M96.6 129.5h0.85M114.2 73.8h0.85M78.6 177.8h0.85M93.4 50.7h0.85M94.8 45.6h0.85M91.4 90.4h0.85M84.8 175.5h0.85M94.3 77.5h0.85M95.5 51.4h0.85M83.7 85.6h0.85M89.7 146.0h0.85M90.6 149.5h0.85M99.8 52.6h0.85M86.0 98.6h0.85M88.0 100.3h0.85M102.5 65.5h0.85M99.3 62.2h0.85M88.1 85.7h0.85M83.9 94.2h0.85M109.6 124.4h0.85M93.8 130.9h0.85M101.7 125.4h0.85M89.6 99.5h0.85M93.8 65.7h0.85M93.7 57.3h0.85M92.8 60.7h0.85M91.0 141.9h0.85M87.7 68.0h0.85M99.4 106.4h0.85M86.7 75.4h0.85M85.6 78.0h0.85M89.5 143.3h0.85M88.3 115.0h0.85M94.3 127.0h0.85M104.5 128.3h0.85M89.6 150.5h0.85M94.5 42.2h0.85M102.2 78.6h0.85M83.3 177.9h0.85M94.3 137.2h0.85M88.4 154.1h0.85M95.7 67.1h0.85M96.9 47.1h0.85M88.4 75.0h0.85M85.2 79.6h0.85M91.1 112.2h0.85M90.4 74.8h0.85M90.9 65.9h0.85M98.2 52.7h0.85M140.1 134.2h0.85M89.7 78.3h0.85M97.3 69.0h0.85M92.6 141.1h0.85M104.2 151.0h0.85M88.9 81.2h0.85M88.7 84.8h0.85M90.1 149.9h0.85M98.5 151.3h0.85M96.4 65.4h0.85M85.0 77.6h0.85M84.2 93.8h0.85M103.9 135.9h0.85M86.8 101.3h0.85M93.4 109.5h0.85M92.1 70.5h0.85M99.2 97.2h0.85M100.4 57.4h0.85M87.4 112.2h0.85M92.6 51.9h0.85M90.4 43.3h0.85M93.5 60.6h0.85M87.7 85.5h0.85M87.9 162.1h0.85M98.1 53.3h0.85M92.8 120.4h0.85M99.6 109.9h0.85M88.7 121.8h0.85M90.8 131.0h0.85M94.5 109.6h0.85M91.2 164.6h0.85M102.5 129.3h0.85M90.5 63.2h0.85M89.9 120.7h0.85M98.9 49.1h0.85M88.8 77.6h0.85M88.0 164.8h0.85M100.2 49.6h0.85M83.5 88.6h0.85M95.0 51.3h0.85M92.3 163.5h0.85M93.7 49.7h0.85M90.7 118.7h0.85M88.4 104.8h0.85M100.5 48.5h0.85M95.2 44.1h0.85M94.5 154.2h0.85M96.5 66.9h0.85M85.6 101.6h0.85M93.7 165.8h0.85M90.7 85.2h0.85M90.2 70.9h0.85M91.8 151.1h0.85M89.0 149.8h0.85M94.7 123.6h0.85M87.1 70.3h0.85M89.9 144.4h0.85M89.2 117.4h0.85M94.0 99.4h0.85M100.6 121.6h0.85M106.3 63.0h0.85M86.2 92.7h0.85M88.6 168.5h0.85M97.7 148.0h0.85M105.1 130.2h0.85M90.6 80.4h0.85M95.3 91.9h0.85M93.3 46.7h0.85M104.8 51.5h0.85M101.0 48.4h0.85M94.1 51.6h0.85M97.6 58.2h0.85M92.0 53.7h0.85M95.9 57.6h0.85M97.6 52.6h0.85M100.0 48.4h0.85M94.5 46.0h0.85M94.8 58.5h0.85M97.6 62.5h0.85M102.6 45.9h0.85M95.8 46.2h0.85M95.2 47.0h0.85M98.5 56.5h0.85M99.0 54.5h0.85M98.8 51.9h0.85M93.4 53.4h0.85M93.3 40.6h0.85M99.8 52.7h0.85M92.9 52.3h0.85M96.5 57.6h0.85M101.4 48.1h0.85M93.9 49.6h0.85M95.0 55.4h0.85M101.2 75.0h0.85M104.0 49.0h0.85M105.3 69.9h0.85M106.0 46.5h0.85M93.3 54.2h0.85M95.9 46.4h0.85M105.1 64.6h0.85M104.1 54.8h0.85M93.7 55.4h0.85M96.3 62.0h0.85M105.1 64.2h0.85M95.2 48.6h0.85M104.4 55.8h0.85M92.3 49.9h0.85M100.8 63.0h0.85M95.3 37.2h0.85M96.5 71.2h0.85M99.8 52.0h0.85M93.9 37.4h0.85M109.1 56.1h0.85M92.3 47.2h0.85M101.1 54.1h0.85M96.6 54.9h0.85M104.5 62.3h0.85M94.8 39.4h0.85M96.8 57.0h0.85M101.2 63.0h0.85M97.7 43.6h0.85M96.1 59.8h0.85M107.8 60.3h0.85M94.8 49.6h0.85M94.6 38.7h0.85M105.9 55.1h0.85M95.5 50.1h0.85M93.4 66.3h0.85M92.6 52.0h0.85M93.9 59.5h0.85M95.8 56.7h0.85M96.2 55.4h0.85M101.0 44.1h0.85M102.0 48.1h0.85M96.8 54.7h0.85M98.7 53.3h0.85M102.3 53.1h0.85M97.7 60.0h0.85M102.6 54.3h0.85M92.9 59.6h0.85M102.4 54.6h0.85M104.4 56.9h0.85M92.3 49.8h0.85M93.3 42.0h0.85M100.5 60.6h0.85M98.3 60.8h0.85M99.0 59.0h0.85M96.9 47.5h0.85M100.3 62.6h0.85M95.8 54.7h0.85M96.7 55.2h0.85M103.0 48.6h0.85M93.6 50.0h0.85M98.2 48.9h0.85M104.1 56.8h0.85M96.6 48.5h0.85M97.7 53.7h0.85M105.0 49.6h0.85M98.5 43.7h0.85M106.1 54.3h0.85M100.0 54.9h0.85M97.9 54.5h0.85M97.9 62.1h0.85M98.3 53.8h0.85M94.0 46.3h0.85M93.5 69.0h0.85M92.1 54.1h0.85M97.7 59.8h0.85M103.0 54.9h0.85M104.1 63.4h0.85M99.0 44.9h0.85M105.2 62.5h0.85M103.2 52.9h0.85M101.1 47.1h0.85M94.8 50.2h0.85M93.1 45.9h0.85M94.5 54.1h0.85M100.6 45.2h0.85M101.4 59.6h0.85M93.7 49.7h0.85M97.6 50.3h0.85M105.7 69.6h0.85M92.7 60.1h0.85M103.1 48.8h0.85M95.7 56.8h0.85M98.3 41.1h0.85M96.7 47.9h0.85M99.4 52.5h0.85M93.9 48.0h0.85M93.6 45.9h0.85M112.5 58.9h0.85M102.6 49.1h0.85M97.2 47.5h0.85M97.6 49.1h0.85M93.3 48.7h0.85M93.1 60.1h0.85M98.1 56.2h0.85M93.2 42.0h0.85M97.7 64.4h0.85M102.8 62.4h0.85M92.6 51.6h0.85M96.2 46.0h0.85M93.6 54.0h0.85M101.2 49.3h0.85M95.4 57.9h0.85M94.1 53.5h0.85M98.7 63.8h0.85M107.3 41.0h0.85M96.5 49.0h0.85M95.8 56.0h0.85M97.0 49.9h0.85M97.0 50.5h0.85M104.4 44.7h0.85M213.7 64.8h0.85M199.6 59.8h0.85M101.1 55.1h0.85M107.2 48.9h0.85M134.8 39.0h0.85M181.9 50.6h0.85M214.5 52.8h0.85M205.2 44.2h0.85M101.3 57.2h0.85M123.1 61.7h0.85M213.1 50.5h0.85M153.4 51.1h0.85M168.8 54.5h0.85M154.9 69.3h0.85M162.5 67.2h0.85M111.1 40.0h0.85M195.3 50.3h0.85M147.6 77.1h0.85M163.2 51.7h0.85M137.0 70.1h0.85M123.7 59.1h0.85M129.0 65.8h0.85M151.1 51.5h0.85M117.2 55.4h0.85M181.3 59.5h0.85M130.5 54.5h0.85M206.8 54.2h0.85M199.9 67.3h0.85M208.6 53.3h0.85M169.9 66.3h0.85M166.7 49.4h0.85M140.8 51.9h0.85M103.8 61.1h0.85M190.5 59.2h0.85M171.6 63.2h0.85M136.2 55.1h0.85M167.2 54.5h0.85M202.0 50.6h0.85M120.4 40.8h0.85M111.1 51.1h0.85M149.4 63.8h0.85M127.0 54.1h0.85M207.7 56.5h0.85M198.7 65.7h0.85M114.5 46.7h0.85M139.7 57.8h0.85M183.8 49.8h0.85M157.0 64.7h0.85M208.5 41.9h0.85M206.8 51.7h0.85M101.2 50.3h0.85M209.0 51.8h0.85M114.1 49.8h0.85M121.2 71.2h0.85M185.2 52.8h0.85M177.7 53.4h0.85M117.0 42.1h0.85M210.6 43.1h0.85M154.9 48.1h0.85M170.5 44.1h0.85M118.0 59.2h0.85M199.0 49.6h0.85M197.2 50.8h0.85M138.8 53.5h0.85M158.3 46.8h0.85M105.7 43.7h0.85M197.9 48.8h0.85M119.1 56.5h0.85M193.7 53.8h0.85M118.0 47.3h0.85M155.9 68.7h0.85M206.4 58.0h0.85M118.0 60.6h0.85M124.6 68.2h0.85M151.2 46.7h0.85M174.8 63.1h0.85M103.8 57.0h0.85M147.2 57.3h0.85M129.0 41.5h0.85M127.6 47.7h0.85M128.4 54.8h0.85M174.2 54.4h0.85M180.8 68.2h0.85M122.3 51.5h0.85M124.9 56.9h0.85M190.1 52.1h0.85M210.9 43.4h0.85M159.4 51.7h0.85M209.4 55.6h0.85M171.4 69.9h0.85M132.2 65.6h0.85M210.6 50.1h0.85M122.1 47.0h0.85M199.8 54.6h0.85M203.3 49.9h0.85M142.2 76.3h0.85M103.1 62.2h0.85M202.4 54.4h0.85M158.4 50.1h0.85M139.7 45.5h0.85M116.7 50.1h0.85M142.1 78.1h0.85M102.7 56.2h0.85M136.7 65.6h0.85M139.4 155.5h0.85M150.7 102.9h0.85M158.2 65.4h0.85M100.6 135.3h0.85M103.2 55.4h0.85M113.5 73.6h0.85M127.4 152.0h0.85M147.5 99.5h0.85M151.2 52.0h0.85M156.4 68.3h0.85M109.0 109.4h0.85M125.4 110.7h0.85M159.5 148.9h0.85M128.1 143.3h0.85M142.6 97.7h0.85M147.3 185.6h0.85M104.9 96.4h0.85M136.0 79.9h0.85M113.3 50.7h0.85M125.5 118.1h0.85M158.1 133.8h0.85M112.7 150.3h0.85M151.7 141.9h0.85M136.1 153.2h0.85M90.3 179.6h0.85M100.4 126.7h0.85M125.1 187.9h0.85M137.8 156.9h0.85M151.2 63.0h0.85M117.4 102.4h0.85M120.5 146.0h0.85M155.3 71.4h0.85M97.6 172.6h0.85M129.8 160.7h0.85M144.4 133.1h0.85M111.0 76.4h0.85M151.4 135.2h0.85M136.5 167.9h0.85M106.8 141.9h0.85M139.3 77.7h0.85M133.3 187.0h0.85M188.2 58.9h0.85M188.7 61.7h0.85M187.1 60.8h0.85M184.0 65.3h0.85M183.9 67.8h0.85M191.1 60.3h0.85M187.3 59.0h0.85M188.7 71.1h0.85M189.8 60.1h0.85M194.8 60.3h0.85M187.5 73.1h0.85M191.0 68.3h0.85M190.9 65.0h0.85M191.1 66.1h0.85M196.4 56.4h0.85M180.4 60.9h0.85M183.5 63.1h0.85M184.6 62.5h0.85M192.6 59.7h0.85M186.1 66.3h0.85M186.1 61.9h0.85M188.2 55.8h0.85M192.0 56.8h0.85M191.8 64.2h0.85M185.0 60.5h0.85M191.7 60.8h0.85M196.4 57.3h0.85M192.9 53.9h0.85M187.8 67.3h0.85M182.0 63.6h0.85M184.8 55.6h0.85M186.1 59.5h0.85M186.9 59.2h0.85M185.6 49.0h0.85M193.4 72.9h0.85M190.2 60.8h0.85M185.2 63.6h0.85M189.6 57.6h0.85M188.0 66.0h0.85M189.7 61.9h0.85M189.1 58.5h0.85M188.4 62.6h0.85M186.0 61.6h0.85M191.8 67.5h0.85M180.9 54.9h0.85M192.1 64.3h0.85M190.2 55.1h0.85M188.9 65.1h0.85M190.1 58.5h0.85M186.6 63.8h0.85M189.3 68.8h0.85M180.7 59.2h0.85M193.0 56.4h0.85M189.0 69.5h0.85M185.1 63.9h0.85M195.4 55.7h0.85M181.6 67.5h0.85M186.9 61.9h0.85M188.9 68.4h0.85M187.6 67.2h0.85M191.3 62.1h0.85M192.3 63.7h0.85M188.3 77.5h0.85M181.6 56.3h0.85M185.0 60.0h0.85M189.2 61.0h0.85M196.6 59.5h0.85M184.8 62.2h0.85M187.1 59.6h0.85M191.8 63.7h0.85M192.6 56.7h0.85M190.7 62.2h0.85M186.4 54.1h0.85M188.3 56.2h0.85M191.1 64.4h0.85M190.3 76.3h0.85M193.0 51.8h0.85M190.7 63.2h0.85M189.3 59.5h0.85M191.8 47.7h0.85M183.8 65.2h0.85M189.2 66.8h0.85M187.2 59.3h0.85M191.3 62.9h0.85M182.4 66.9h0.85M184.7 66.6h0.85M189.2 65.0h0.85M192.2 56.9h0.85M190.9 61.8h0.85M187.6 62.1h0.85M186.7 62.3h0.85M189.4 58.8h0.85M192.4 62.5h0.85M184.6 64.4h0.85M190.4 54.7h0.85M189.6 60.1h0.85M189.4 61.2h0.85M189.9 63.0h0.85M180.5 62.5h0.85M190.5 65.7h0.85M192.9 63.8h0.85M193.2 66.5h0.85M186.9 58.5h0.85M193.1 65.7h0.85M182.3 56.7h0.85M192.7 62.9h0.85M182.4 64.3h0.85M192.1 65.4h0.85M188.4 61.0h0.85M186.7 59.4h0.85M189.5 75.0h0.85M197.7 61.2h0.85M183.3 61.6h0.85M187.5 60.8h0.85M182.6 61.7h0.85M186.2 62.3h0.85M183.0 62.2h0.85M184.2 57.8h0.85M186.2 59.2h0.85M186.6 59.1h0.85M186.3 58.4h0.85M186.5 60.2h0.85M195.2 66.8h0.85M186.4 55.0h0.85M192.6 62.0h0.85M189.8 68.0h0.85M181.7 58.9h0.85M189.2 69.2h0.85M188.2 62.4h0.85M188.4 61.8h0.85M189.1 59.1h0.85M186.0 60.1h0.85M190.7 68.0h0.85M189.0 60.6h0.85M192.9 64.9h0.85M191.1 61.4h0.85M187.0 64.6h0.85M188.0 68.1h0.85M185.4 63.7h0.85M188.6 56.8h0.85M187.3 56.7h0.85M187.3 60.7h0.85M197.9 56.7h0.85M190.8 59.7h0.85M189.8 60.3h0.85M185.7 69.4h0.85M192.5 53.1h0.85M188.0 60.2h0.85M182.9 62.9h0.85M190.3 62.3h0.85M190.2 71.1h0.85M186.9 68.5h0.85M196.3 47.2h0.85M187.7 69.0h0.85M189.8 58.9h0.85M193.6 66.6h0.85M182.9 66.3h0.85M187.9 63.1h0.85M184.4 64.9h0.85M189.1 57.3h0.85M187.4 69.4h0.85M194.0 54.5h0.85M190.4 60.6h0.85M186.8 63.4h0.85M194.0 65.0h0.85M185.2 62.4h0.85M190.2 67.8h0.85M188.4 62.8h0.85M189.4 65.5h0.85M181.9 69.3h0.85M189.7 62.2h0.85M184.7 63.5h0.85M195.6 59.1h0.85M182.8 64.4h0.85M188.7 61.9h0.85M183.2 64.3h0.85M190.9 40.0h0.85M189.2 66.1h0.85M185.4 51.2h0.85M188.9 73.2h0.85M189.9 73.8h0.85M189.8 61.0h0.85M185.8 69.5h0.85M183.9 59.0h0.85M187.1 63.7h0.85M188.8 54.5h0.85M184.4 71.0h0.85M188.9 62.2h0.85M187.4 63.6h0.85M185.9 67.9h0.85M191.7 62.1h0.85M191.9 61.3h0.85M187.1 67.3h0.85M188.3 58.0h0.85M194.3 61.2h0.85M190.2 70.0h0.85M184.1 60.6h0.85M192.1 60.7h0.85M187.0 61.4h0.85M187.6 60.6h0.85M190.1 62.7h0.85M194.8 63.9h0.85M194.6 62.9h0.85M194.9 61.5h0.85M193.0 63.1h0.85M194.4 58.2h0.85M187.0 64.3h0.85M185.2 69.8h0.85M188.0 65.0h0.85M192.3 65.4h0.85M186.1 55.4h0.85M182.7 57.6h0.85M186.0 58.2h0.85M190.3 55.3h0.85M182.9 63.1h0.85M195.0 57.5h0.85M188.2 62.0h0.85M192.5 66.7h0.85M187.1 67.0h0.85M188.9 66.4h0.85M195.1 51.0h0.85M183.6 55.2h0.85M184.2 62.7h0.85M189.1 71.1h0.85M193.7 63.7h0.85M188.2 65.6h0.85M190.1 59.7h0.85M191.1 59.6h0.85M188.3 61.4h0.85M186.5 58.8h0.85M188.8 61.5h0.85M184.2 70.7h0.85M194.6 70.6h0.85M192.8 61.6h0.85M185.2 56.9h0.85M182.4 60.4h0.85M182.5 62.7h0.85M189.5 59.3h0.85M186.6 61.8h0.85M190.6 60.3h0.85M194.5 57.5h0.85M186.4 59.6h0.85M187.8 63.1h0.85M190.5 60.4h0.85M194.1 52.6h0.85M189.5 62.2h0.85M183.7 54.7h0.85M188.9 67.8h0.85M189.9 61.6h0.85M187.4 59.4h0.85M187.1 65.2h0.85M192.2 64.7h0.85M186.0 64.8h0.85M192.1 52.6h0.85M189.6 59.2h0.85M188.8 55.4h0.85M184.7 61.3h0.85M186.5 59.4h0.85M185.3 64.1h0.85M192.2 57.0h0.85M189.3 59.6h0.85M189.3 67.5h0.85M189.3 61.2h0.85M184.7 67.5h0.85M194.1 52.2h0.85M190.4 61.0h0.85M183.9 70.6h0.85M190.2 72.4h0.85M185.6 59.5h0.85M183.2 62.2h0.85M186.7 61.1h0.85M189.2 64.4h0.85M189.0 62.9h0.85M188.8 61.9h0.85M187.1 64.2h0.85M188.1 59.3h0.85M187.2 67.1h0.85M186.7 59.1h0.85M188.5 64.7h0.85M188.4 56.5h0.85M189.1 61.9h0.85M186.9 66.6h0.85M188.1 55.2h0.85M185.8 61.7h0.85M187.6 63.4h0.85M188.3 59.3h0.85M188.5 63.2h0.85M187.2 65.4h0.85M188.3 61.6h0.85M188.5 59.2h0.85M187.5 61.9h0.85M187.3 68.2h0.85M188.4 65.2h0.85M189.7 68.0h0.85M190.0 59.1h0.85M189.6 60.8h0.85M188.0 63.2h0.85M188.3 62.4h0.85M188.5 68.4h0.85M186.3 56.8h0.85M187.1 63.6h0.85M188.3 64.0h0.85M189.9 62.6h0.85M187.0 64.2h0.85M189.8 70.2h0.85M188.1 63.1h0.85M188.5 64.8h0.85M188.1 60.7h0.85M189.6 68.5h0.85M188.2 60.2h0.85M187.7 58.0h0.85M187.1 61.4h0.85M187.6 63.6h0.85M187.8 58.9h0.85M187.9 52.8h0.85M188.5 61.6h0.85M189.4 60.7h0.85M188.1 58.9h0.85M190.0 63.6h0.85M189.3 61.2h0.85M188.7 58.8h0.85M187.7 61.3h0.85M187.4 65.3h0.85M188.9 67.1h0.85M187.4 60.2h0.85M188.2 65.0h0.85M187.1 61.4h0.85M189.1 62.8h0.85M188.1 58.0h0.85M187.9 65.1h0.85M196.2 44.5h0.85M191.1 57.2h0.85M180.1 78.6h0.85M193.2 50.2h0.85M179.3 62.4h0.85M175.5 58.6h0.85M191.8 47.8h0.85M189.1 64.8h0.85M182.2 64.2h0.85M193.1 64.7h0.85M182.1 68.8h0.85M184.9 62.5h0.85M188.1 60.4h0.85M171.0 70.6h0.85M191.5 61.7h0.85M192.6 56.4h0.85M186.3 65.4h0.85M169.8 53.3h0.85M182.6 57.5h0.85M183.1 52.9h0.85M189.5 68.0h0.85M191.2 70.3h0.85M191.7 74.7h0.85M200.6 56.0h0.85M180.8 54.7h0.85M184.7 67.5h0.85M191.8 62.5h0.85M182.0 56.4h0.85M185.9 62.6h0.85M162.7 62.9h0.85M191.6 53.5h0.85M199.3 67.9h0.85M193.3 45.1h0.85M194.1 62.0h0.85M189.2 38.2h0.85M174.7 57.5h0.85M176.5 73.2h0.85M178.3 67.7h0.85M190.5 87.9h0.85M188.0 74.9h0.85M183.9 49.4h0.85M190.5 72.9h0.85M183.1 70.7h0.85M192.5 60.7h0.85M189.4 61.9h0.85M182.6 62.0h0.85M191.1 53.5h0.85M166.1 66.9h0.85M182.0 66.0h0.85M180.6 64.4h0.85M185.8 57.5h0.85M187.2 64.1h0.85M173.1 72.7h0.85M196.1 63.8h0.85M174.1 68.8h0.85M187.7 76.6h0.85M183.9 58.8h0.85M195.8 39.7h0.85M184.4 58.9h0.85M168.5 51.4h0.85M189.6 63.9h0.85M201.4 69.9h0.85M176.6 68.3h0.85M190.9 61.7h0.85M178.2 78.9h0.85M202.3 63.6h0.85M181.0 49.5h0.85M178.4 69.4h0.85M173.6 71.9h0.85M186.3 64.2h0.85M194.1 84.1h0.85M193.9 59.1h0.85M190.9 62.1h0.85M188.1 61.8h0.85M179.5 63.8h0.85M176.5 71.8h0.85M184.7 49.3h0.85M193.3 67.4h0.85M188.7 46.0h0.85M177.0 66.1h0.85M206.6 63.3h0.85M190.3 66.6h0.85M180.6 71.7h0.85M182.6 61.2h0.85M181.1 49.0h0.85M181.5 51.7h0.85M184.5 75.9h0.85M190.3 55.3h0.85M191.3 55.3h0.85M197.3 68.6h0.85M184.9 60.4h0.85M188.5 51.0h0.85M178.3 59.6h0.85M180.4 60.7h0.85M195.0 58.8h0.85M192.8 78.1h0.85M184.4 75.0h0.85M181.1 49.8h0.85M189.5 59.4h0.85M175.8 73.6h0.85M195.1 51.5h0.85M186.3 60.2h0.85M177.7 64.2h0.85M176.7 44.1h0.85M200.0 54.8h0.85M181.7 58.8h0.85M182.0 82.0h0.85M191.8 69.2h0.85M195.4 81.8h0.85M169.4 68.6h0.85M189.5 61.8h0.85M197.7 67.1h0.85M173.6 63.4h0.85M186.6 71.9h0.85M170.7 67.3h0.85M189.2 67.4h0.85M191.3 40.5h0.85M193.8 60.7h0.85M181.4 70.2h0.85M187.6 77.2h0.85M197.0 50.1h0.85M194.5 61.0h0.85M187.8 59.5h0.85M196.5 53.1h0.85M191.6 45.9h0.85M190.7 48.6h0.85M177.4 60.6h0.85M178.6 71.8h0.85M178.8 76.7h0.85M194.8 62.0h0.85M193.3 63.0h0.85M207.7 65.9h0.85M183.1 64.8h0.85M185.2 60.3h0.85M183.1 55.8h0.85M195.1 60.6h0.85M194.4 58.0h0.85M187.3 56.4h0.85M198.8 77.2h0.85M187.3 69.9h0.85M176.0 48.6h0.85M194.2 44.0h0.85M211.4 71.0h0.85M202.6 60.2h0.85M176.8 52.4h0.85M180.8 69.5h0.85M179.4 53.1h0.85M201.3 49.2h0.85M182.8 74.6h0.85M209.1 44.9h0.85M167.8 54.3h0.85M189.9 60.7h0.85M183.5 48.4h0.85M195.3 56.1h0.85M182.6 61.6h0.85M200.4 63.0h0.85M210.0 58.0h0.85M193.4 39.9h0.85M182.7 61.0h0.85M182.3 53.5h0.85M183.5 51.6h0.85M183.7 62.0h0.85M191.4 50.5h0.85M186.5 53.3h0.85M196.0 78.6h0.85M189.9 65.5h0.85M186.0 66.2h0.85M186.5 48.7h0.85M198.8 83.8h0.85M193.6 61.3h0.85M192.4 78.2h0.85M184.4 68.8h0.85M189.9 39.7h0.85M185.3 67.1h0.85M191.4 60.3h0.85M177.8 64.0h0.85M189.9 66.9h0.85M203.7 61.9h0.85M197.8 66.4h0.85M212.0 66.6h0.85M211.0 51.6h0.85M178.2 66.4h0.85M187.4 74.8h0.85M195.5 70.0h0.85M182.0 61.5h0.85M195.9 56.1h0.85M188.8 74.0h0.85M188.4 64.3h0.85M199.1 66.4h0.85M176.3 63.1h0.85M189.0 65.4h0.85M208.3 73.4h0.85M190.1 55.3h0.85M196.1 63.9h0.85M200.0 65.2h0.85M197.4 53.9h0.85M187.3 62.5h0.85M181.8 65.9h0.85M185.6 58.3h0.85M182.9 61.0h0.85M174.8 70.9h0.85M192.3 67.6h0.85M199.4 64.7h0.85M186.2 75.2h0.85M185.5 63.5h0.85M170.3 56.4h0.85M188.5 68.3h0.85M193.1 71.4h0.85M183.8 56.1h0.85M190.4 53.7h0.85M185.1 62.2h0.85M171.5 45.7h0.85M191.9 54.3h0.85M194.8 56.6h0.85M179.5 67.6h0.85M186.1 65.0h0.85M182.6 53.3h0.85M185.5 53.4h0.85M186.7 51.2h0.85M191.1 69.0h0.85M192.2 48.5h0.85M198.6 43.8h0.85M189.9 62.2h0.85M194.6 54.5h0.85M183.9 72.7h0.85M197.8 51.0h0.85M185.8 53.3h0.85M166.1 72.5h0.85M182.6 61.8h0.85M190.3 48.3h0.85" stroke="#101010" stroke-width="0.85" fill="none" opacity="1"/>
<ellipse cx="188.3" cy="59.4" rx="17.6" ry="21.3" fill="none" stroke="#1a1a1a" stroke-width="1.3"/>
<rect x="47.5" y="35.5" width="171.0" height="171.0" fill="none" stroke="#2a2a2a" stroke-width="1"/>
<path d="M51.20 206.5v5M82.10 206.5v5M122.80 206.5v5M163.40 206.5v5M202.00 206.5v5" stroke="#111" stroke-width="1.7" fill="none"/>
<path d="M110.55 206.5v3.6M151.18 206.5v3.6M190.38 206.5v3.6" stroke="#111" stroke-width="1" fill="none"/>
<path d="M65.06 206.5v2.8M63.52 206.5v2.8M61.98 206.5v2.8M60.44 206.5v2.8M58.90 206.5v2.8M57.36 206.5v2.8M55.82 206.5v2.8M54.28 206.5v2.8M52.74 206.5v2.8M68.15 206.5v2.8M69.70 206.5v2.8M71.25 206.5v2.8M72.80 206.5v2.8M74.35 206.5v2.8M75.90 206.5v2.8M77.45 206.5v2.8M79.00 206.5v2.8M80.55 206.5v2.8M94.35 206.5v2.8M101.52 206.5v2.8M106.60 206.5v2.8M113.77 206.5v2.8M116.50 206.5v2.8M118.86 206.5v2.8M120.94 206.5v2.8M135.02 206.5v2.8M142.17 206.5v2.8M147.24 206.5v2.8M154.39 206.5v2.8M157.11 206.5v2.8M159.47 206.5v2.8M161.54 206.5v2.8M175.02 206.5v2.8M181.82 206.5v2.8M186.64 206.5v2.8M193.44 206.5v2.8M196.02 206.5v2.8M198.26 206.5v2.8M200.23 206.5v2.8" stroke="#111" stroke-width="0.85" fill="none"/>
<rect x="64.40" y="206.5" width="4.40" height="4" fill="#111"/>
<rect x="64.40" y="206.5" width="4.40" height="4" fill="#111"/>
<path d="M47.5 48.50h-5M47.5 81.80h-5M47.5 122.10h-5M47.5 157.40h-5M47.5 196.40h-5" stroke="#111" stroke-width="1.7" fill="none"/>
<path d="M47.5 58.52h-3.6M47.5 93.93h-3.6M47.5 129.77h-3.6M47.5 149.46h-3.6M47.5 184.66h-3.6" stroke="#111" stroke-width="1" fill="none"/>
<path d="M47.5 71.78h-2.8M47.5 65.91h-2.8M47.5 61.75h-2.8M47.5 55.89h-2.8M47.5 53.66h-2.8M47.5 51.73h-2.8M47.5 50.02h-2.8M47.5 109.97h-2.8M47.5 102.87h-2.8M47.5 97.84h-2.8M47.5 90.74h-2.8M47.5 88.04h-2.8M47.5 85.71h-2.8M47.5 83.64h-2.8M47.5 134.37h-2.8M47.5 132.83h-2.8M47.5 131.30h-2.8M47.5 128.23h-2.8M47.5 126.70h-2.8M47.5 125.17h-2.8M47.5 123.63h-2.8M47.5 144.69h-2.8M47.5 146.28h-2.8M47.5 147.87h-2.8M47.5 151.04h-2.8M47.5 152.63h-2.8M47.5 154.22h-2.8M47.5 155.81h-2.8M47.5 169.14h-2.8M47.5 176.01h-2.8M47.5 180.88h-2.8M47.5 187.75h-2.8M47.5 190.36h-2.8M47.5 192.62h-2.8M47.5 194.62h-2.8" stroke="#111" stroke-width="0.85" fill="none"/>
<rect x="43.5" y="135.90" width="4" height="3.60" fill="#111"/>
<rect x="43.5" y="139.50" width="4" height="3.60" fill="#111"/>
<text transform="translate(68.00 221.70) scale(.95 1)" font-size="6.6" text-anchor="start" font-family="'Liberation Sans', sans-serif" fill="#151515">0</text>
<text transform="translate(122.50 221.70) scale(.95 1)" font-size="6.6" text-anchor="start" font-family="'Liberation Sans', sans-serif" fill="#151515">10</text>
<text transform="translate(130.80 217.50) scale(.95 1)" font-size="6.6" text-anchor="start" font-family="'Liberation Sans', sans-serif" fill="#151515">3</text>
<text transform="translate(163.10 221.70) scale(.95 1)" font-size="6.6" text-anchor="start" font-family="'Liberation Sans', sans-serif" fill="#151515">10</text>
<text transform="translate(171.40 217.50) scale(.95 1)" font-size="6.6" text-anchor="start" font-family="'Liberation Sans', sans-serif" fill="#151515">4</text>
<text transform="translate(201.70 221.70) scale(.95 1)" font-size="6.6" text-anchor="start" font-family="'Liberation Sans', sans-serif" fill="#151515">10</text>
<text transform="translate(210.00 217.50) scale(.95 1)" font-size="6.6" text-anchor="start" font-family="'Liberation Sans', sans-serif" fill="#151515">5</text>
<text transform="translate(39.50 48.30) scale(.95 1)" font-size="6.6" text-anchor="end" font-family="'Liberation Sans', sans-serif" fill="#151515">5</text>
<text transform="translate(34.50 52.50) scale(.95 1)" font-size="6.6" text-anchor="end" font-family="'Liberation Sans', sans-serif" fill="#151515">10</text>
<text transform="translate(39.50 81.60) scale(.95 1)" font-size="6.6" text-anchor="end" font-family="'Liberation Sans', sans-serif" fill="#151515">4</text>
<text transform="translate(34.50 85.80) scale(.95 1)" font-size="6.6" text-anchor="end" font-family="'Liberation Sans', sans-serif" fill="#151515">10</text>
<text transform="translate(39.50 121.90) scale(.95 1)" font-size="6.6" text-anchor="end" font-family="'Liberation Sans', sans-serif" fill="#151515">3</text>
<text transform="translate(34.50 126.10) scale(.95 1)" font-size="6.6" text-anchor="end" font-family="'Liberation Sans', sans-serif" fill="#151515">10</text>
<text transform="translate(34.90 141.80) scale(.95 1)" font-size="6.6" text-anchor="end" font-family="'Liberation Sans', sans-serif" fill="#151515">0</text>
<text transform="translate(39.50 157.20) scale(.95 1)" font-size="6.6" text-anchor="end" font-family="'Liberation Sans', sans-serif" fill="#151515">3</text>
<text transform="translate(34.50 161.40) scale(.95 1)" font-size="6.6" text-anchor="end" font-family="'Liberation Sans', sans-serif" fill="#151515">-10</text>
<text transform="translate(39.50 196.20) scale(.95 1)" font-size="6.6" text-anchor="end" font-family="'Liberation Sans', sans-serif" fill="#151515">4</text>
<text transform="translate(34.50 200.40) scale(.95 1)" font-size="6.6" text-anchor="end" font-family="'Liberation Sans', sans-serif" fill="#151515">-10</text>
<text x="127.5" y="25" font-size="14" text-anchor="middle" font-weight="normal" font-family="'Liberation Serif', serif" >Lymphocytes</text>
<text transform="translate(12.2 119.1) rotate(-90)" font-size="14" text-anchor="middle" font-family="'Liberation Serif', serif">CD19</text>
<rect x="142" y="83.5" width="92" height="16" fill="#fff"/>
<text x="188.3" y="94.7" font-size="14" text-anchor="middle" font-weight="normal" font-family="'Liberation Serif', serif" >BCR transgenic</text>
<text x="188.6" y="111.2" font-size="14" text-anchor="middle" font-weight="normal" font-family="'Liberation Serif', serif" >B cells</text>
<rect x="279.5" y="35.5" width="171.0" height="171.0" fill="none" stroke="#2a2a2a" stroke-width="1"/>
<path d="M289.70 206.5v5M346.00 206.5v5M393.10 206.5v5M434.00 206.5v5" stroke="#111" stroke-width="1.7" fill="none"/>
<path d="M303.26 206.5v3.6M332.28 206.5v3.6M378.92 206.5v3.6M421.69 206.5v3.6" stroke="#111" stroke-width="1" fill="none"/>
<path d="M311.39 206.5v2.8M308.68 206.5v2.8M305.97 206.5v2.8M300.54 206.5v2.8M297.83 206.5v2.8M295.12 206.5v2.8M292.41 206.5v2.8M324.04 206.5v2.8M326.79 206.5v2.8M329.53 206.5v2.8M335.02 206.5v2.8M337.77 206.5v2.8M340.51 206.5v2.8M343.26 206.5v2.8M360.18 206.5v2.8M368.47 206.5v2.8M374.36 206.5v2.8M382.65 206.5v2.8M385.80 206.5v2.8M388.54 206.5v2.8M390.94 206.5v2.8M405.41 206.5v2.8M412.61 206.5v2.8M417.72 206.5v2.8M424.93 206.5v2.8M427.66 206.5v2.8M430.04 206.5v2.8M432.13 206.5v2.8" stroke="#111" stroke-width="0.85" fill="none"/>
<rect x="314.10" y="206.5" width="3.60" height="4" fill="#111"/>
<rect x="317.70" y="206.5" width="3.60" height="4" fill="#111"/>
<path d="M279.5 51.10h-5M279.5 92.00h-5M279.5 138.60h-5M279.5 194.60h-5" stroke="#111" stroke-width="1.7" fill="none"/>
<path d="M279.5 63.41h-3.6M279.5 106.03h-3.6M279.5 152.21h-3.6M279.5 181.10h-3.6" stroke="#111" stroke-width="1" fill="none"/>
<path d="M279.5 79.69h-2.8M279.5 72.49h-2.8M279.5 67.38h-2.8M279.5 60.17h-2.8M279.5 57.44h-2.8M279.5 55.06h-2.8M279.5 52.97h-2.8M279.5 124.57h-2.8M279.5 116.37h-2.8M279.5 110.54h-2.8M279.5 102.34h-2.8M279.5 99.22h-2.8M279.5 96.52h-2.8M279.5 94.13h-2.8M279.5 160.38h-2.8M279.5 157.66h-2.8M279.5 154.93h-2.8M279.5 149.49h-2.8M279.5 146.77h-2.8M279.5 144.04h-2.8M279.5 141.32h-2.8M279.5 173.00h-2.8M279.5 175.70h-2.8M279.5 178.40h-2.8M279.5 183.80h-2.8M279.5 186.50h-2.8M279.5 189.20h-2.8M279.5 191.90h-2.8" stroke="#111" stroke-width="0.85" fill="none"/>
<rect x="275.5" y="163.10" width="4" height="3.60" fill="#111"/>
<rect x="275.5" y="166.70" width="4" height="3.60" fill="#111"/>
<text transform="translate(286.71 221.70) scale(.95 1)" font-size="6.6" text-anchor="start" font-family="'Liberation Sans', sans-serif" fill="#151515">-10</text>
<text transform="translate(298.40 217.50) scale(.95 1)" font-size="6.6" text-anchor="start" font-family="'Liberation Sans', sans-serif" fill="#151515">3</text>
<text transform="translate(318.70 221.70) scale(.95 1)" font-size="6.6" text-anchor="start" font-family="'Liberation Sans', sans-serif" fill="#151515">0</text>
<text transform="translate(345.40 221.70) scale(.95 1)" font-size="6.6" text-anchor="start" font-family="'Liberation Sans', sans-serif" fill="#151515">10</text>
<text transform="translate(353.70 217.50) scale(.95 1)" font-size="6.6" text-anchor="start" font-family="'Liberation Sans', sans-serif" fill="#151515">3</text>
<text transform="translate(392.50 221.70) scale(.95 1)" font-size="6.6" text-anchor="start" font-family="'Liberation Sans', sans-serif" fill="#151515">10</text>
<text transform="translate(400.80 217.50) scale(.95 1)" font-size="6.6" text-anchor="start" font-family="'Liberation Sans', sans-serif" fill="#151515">4</text>
<text transform="translate(433.40 221.70) scale(.95 1)" font-size="6.6" text-anchor="start" font-family="'Liberation Sans', sans-serif" fill="#151515">10</text>
<text transform="translate(441.70 217.50) scale(.95 1)" font-size="6.6" text-anchor="start" font-family="'Liberation Sans', sans-serif" fill="#151515">5</text>
<text transform="translate(271.50 50.90) scale(.95 1)" font-size="6.6" text-anchor="end" font-family="'Liberation Sans', sans-serif" fill="#151515">5</text>
<text transform="translate(266.50 55.10) scale(.95 1)" font-size="6.6" text-anchor="end" font-family="'Liberation Sans', sans-serif" fill="#151515">10</text>
<text transform="translate(271.50 91.80) scale(.95 1)" font-size="6.6" text-anchor="end" font-family="'Liberation Sans', sans-serif" fill="#151515">4</text>
<text transform="translate(266.50 96.00) scale(.95 1)" font-size="6.6" text-anchor="end" font-family="'Liberation Sans', sans-serif" fill="#151515">10</text>
<text transform="translate(271.50 138.40) scale(.95 1)" font-size="6.6" text-anchor="end" font-family="'Liberation Sans', sans-serif" fill="#151515">3</text>
<text transform="translate(266.50 142.60) scale(.95 1)" font-size="6.6" text-anchor="end" font-family="'Liberation Sans', sans-serif" fill="#151515">10</text>
<text transform="translate(266.90 169.00) scale(.95 1)" font-size="6.6" text-anchor="end" font-family="'Liberation Sans', sans-serif" fill="#151515">0</text>
<text transform="translate(271.50 194.40) scale(.95 1)" font-size="6.6" text-anchor="end" font-family="'Liberation Sans', sans-serif" fill="#151515">3</text>
<text transform="translate(266.50 198.60) scale(.95 1)" font-size="6.6" text-anchor="end" font-family="'Liberation Sans', sans-serif" fill="#151515">-10</text>
<path d="M339.3 76.5h2.6M330.2 79.9h2.6M336.3 86.1h2.6M348.3 67.3h2.6M338.1 76.4h2.6M348.8 65.5h2.6M335.0 82.9h2.6M349.1 68.3h2.6M343.7 69.6h2.6M338.6 71.4h2.6M341.2 67.8h2.6M335.8 87.7h2.6M342.5 69.5h2.6M345.9 70.5h2.6M335.1 77.8h2.6M343.0 72.6h2.6M343.6 78.7h2.6M338.1 79.4h2.6M347.7 72.5h2.6M335.9 83.5h2.6M347.7 62.9h2.6M340.3 80.0h2.6M336.0 77.7h2.6M339.7 88.4h2.6M338.7 78.7h2.6M334.0 92.0h2.6M329.2 82.7h2.6M336.6 73.2h2.6M337.1 82.1h2.6M336.8 85.0h2.6M345.7 77.6h2.6M325.1 81.4h2.6M332.9 89.5h2.6M331.7 78.8h2.6M334.3 90.7h2.6M337.8 70.7h2.6M332.9 79.1h2.6M344.9 59.0h2.6M339.8 84.1h2.6M342.5 61.4h2.6M338.1 77.4h2.6M343.5 60.7h2.6M336.1 79.0h2.6M351.1 64.1h2.6M336.3 79.0h2.6M345.2 76.1h2.6M341.0 82.9h2.6M331.0 82.7h2.6M335.8 80.5h2.6M339.6 75.9h2.6M338.0 84.2h2.6M337.6 74.3h2.6M336.5 73.2h2.6M344.2 64.2h2.6M335.8 85.0h2.6M339.2 80.0h2.6M340.5 70.7h2.6M345.9 67.5h2.6M334.9 94.0h2.6M334.0 91.3h2.6M346.1 91.8h2.6M325.9 90.9h2.6M341.8 87.2h2.6M328.2 93.0h2.6M325.0 94.9h2.6M341.3 84.3h2.6M335.8 91.3h2.6M357.2 90.6h2.6M325.6 90.0h2.6M341.9 92.3h2.6M341.6 90.3h2.6M342.1 89.6h2.6M336.6 94.9h2.6M326.8 87.7h2.6M346.9 89.6h2.6M347.0 89.5h2.6M344.0 88.3h2.6M343.0 89.2h2.6M350.9 95.6h2.6M349.0 88.2h2.6M346.6 99.2h2.6M335.3 85.7h2.6M349.3 82.9h2.6M333.2 88.6h2.6M344.0 86.7h2.6M332.1 95.1h2.6M339.3 92.4h2.6M347.4 87.3h2.6M338.0 90.2h2.6M348.8 89.9h2.6M336.6 99.6h2.6M354.9 91.4h2.6M339.3 91.8h2.6M362.9 92.7h2.6M346.8 91.7h2.6M340.4 90.9h2.6M331.1 88.0h2.6M337.1 91.2h2.6M357.5 91.6h2.6M330.0 86.4h2.6M327.3 91.2h2.6M343.2 86.7h2.6M351.4 85.3h2.6M337.5 90.6h2.6M333.3 92.6h2.6M338.8 94.0h2.6M338.9 89.0h2.6M350.3 86.0h2.6M356.7 87.9h2.6M339.4 90.0h2.6M333.6 90.5h2.6M330.5 92.4h2.6M325.9 90.3h2.6M340.1 94.4h2.6M327.4 88.8h2.6M346.7 92.4h2.6M338.7 93.0h2.6M334.6 92.2h2.6M352.9 92.7h2.6M325.8 87.3h2.6M338.3 59.0h2.6M362.2 63.4h2.6M363.7 67.9h2.6M359.2 70.8h2.6M318.7 73.7h2.6M318.7 76.7h2.6M327.7 74.5h2.6M324.7 79.6h2.6M322.2 83.3h2.6M363.9 75.5h2.6M366.6 82.6h2.6M360.7 88.4h2.6M326.9 95.8h2.6M326.9 102.4h2.6M339.4 102.4h2.6M353.3 109.0h2.6M331.3 112.3h2.6M342.3 116.0h2.6M355.6 103.1h2.6M347.5 99.5h2.6M366.1 151.0h2.6M383.2 126.4h2.6M382.6 132.2h2.6M388.6 117.5h2.6M379.6 141.9h2.6M380.5 127.6h2.6M374.4 123.4h2.6M373.7 147.5h2.6M381.6 122.0h2.6M366.6 138.7h2.6M372.6 144.9h2.6M381.6 136.4h2.6M390.4 114.1h2.6M387.8 138.1h2.6M368.9 142.1h2.6M369.6 168.6h2.6M365.4 168.5h2.6M366.6 151.1h2.6M369.6 153.0h2.6M383.6 126.3h2.6M368.6 116.4h2.6M372.6 146.3h2.6M366.4 145.2h2.6M384.1 145.4h2.6M386.2 146.1h2.6M370.9 142.2h2.6M370.8 133.8h2.6M382.3 125.4h2.6M380.2 148.3h2.6M368.3 135.9h2.6M368.7 154.6h2.6M379.2 128.0h2.6M368.8 131.0h2.6M389.4 121.9h2.6M373.6 147.4h2.6M379.0 121.3h2.6M375.4 94.0h2.6M387.5 121.5h2.6M368.1 123.5h2.6M370.3 135.6h2.6M372.4 129.5h2.6M370.1 158.2h2.6M363.8 141.5h2.6M366.4 153.0h2.6M374.9 160.5h2.6M371.5 154.4h2.6M373.1 152.2h2.6M384.4 127.5h2.6M377.2 143.8h2.6M383.3 134.2h2.6M372.9 149.7h2.6M371.0 125.7h2.6M385.4 147.7h2.6M364.7 127.2h2.6M362.7 149.2h2.6M362.7 157.7h2.6M388.5 157.8h2.6M377.5 128.9h2.6M378.7 159.5h2.6M370.0 105.8h2.6M366.8 139.1h2.6M382.8 111.0h2.6M372.0 136.5h2.6M380.5 115.2h2.6M380.1 135.4h2.6M378.6 123.6h2.6M371.6 158.7h2.6M370.9 151.5h2.6M374.1 154.5h2.6M380.9 144.6h2.6M368.9 134.8h2.6M378.3 132.4h2.6M386.1 115.8h2.6M376.8 122.5h2.6M372.0 150.5h2.6M390.5 129.1h2.6M382.3 143.2h2.6M395.4 120.6h2.6M368.2 160.5h2.6M370.7 135.0h2.6M366.7 169.6h2.6M380.0 145.6h2.6M376.4 133.9h2.6M385.9 128.7h2.6M370.8 161.8h2.6M375.2 149.7h2.6M370.8 151.3h2.6M359.6 154.5h2.6M382.0 139.0h2.6M375.0 128.7h2.6M377.6 143.5h2.6M381.8 105.9h2.6M389.5 138.4h2.6M374.9 156.6h2.6M379.4 132.8h2.6M368.2 169.7h2.6M370.7 130.7h2.6M382.1 118.5h2.6M381.4 147.1h2.6M376.1 133.8h2.6M357.4 147.7h2.6M372.0 125.5h2.6M387.7 146.5h2.6M370.9 138.8h2.6M375.9 141.3h2.6M358.1 153.5h2.6M373.9 123.3h2.6M369.7 133.9h2.6M377.4 156.3h2.6M375.8 158.3h2.6M377.0 149.4h2.6M386.8 117.3h2.6M371.2 140.4h2.6M389.4 129.7h2.6M374.8 131.2h2.6M387.6 109.7h2.6M368.2 154.0h2.6M375.4 150.9h2.6M379.7 111.2h2.6M377.7 130.5h2.6M377.5 137.7h2.6M377.0 126.5h2.6M373.8 145.5h2.6M382.1 129.8h2.6M370.7 112.2h2.6M371.6 129.3h2.6M370.3 144.5h2.6M368.7 120.4h2.6M375.4 149.7h2.6M368.5 155.0h2.6M367.1 147.2h2.6M363.6 146.4h2.6M369.3 134.9h2.6M376.8 146.1h2.6M368.8 123.7h2.6M390.4 95.5h2.6M382.6 124.2h2.6M372.5 161.9h2.6M359.5 154.6h2.6M373.6 117.8h2.6M383.9 132.5h2.6M375.3 123.7h2.6M374.1 115.6h2.6M371.4 130.5h2.6M375.5 150.1h2.6M361.9 137.2h2.6M383.9 131.9h2.6M384.8 98.3h2.6M384.0 115.9h2.6M363.6 150.5h2.6M377.1 139.3h2.6M383.5 150.7h2.6M374.9 95.5h2.6M368.2 120.7h2.6M377.4 124.2h2.6M380.9 112.5h2.6M375.4 108.4h2.6M366.6 151.4h2.6M391.3 113.7h2.6M364.8 155.2h2.6M360.5 151.7h2.6M373.7 129.9h2.6M389.9 111.7h2.6M382.6 125.6h2.6M377.7 123.4h2.6M368.3 124.5h2.6M377.5 122.3h2.6M396.3 136.8h2.6M380.9 130.8h2.6M383.3 134.9h2.6M363.9 135.4h2.6M368.2 157.3h2.6M364.3 171.1h2.6M388.1 136.2h2.6M373.6 134.5h2.6M375.5 133.1h2.6M368.5 152.7h2.6M383.4 137.9h2.6M362.0 133.4h2.6M369.2 146.0h2.6M360.2 154.2h2.6M372.5 128.4h2.6M370.5 143.4h2.6M378.0 104.3h2.6M388.3 124.3h2.6M364.9 144.3h2.6M378.6 108.4h2.6M384.6 109.6h2.6M371.5 140.3h2.6M378.4 101.5h2.6M390.7 130.3h2.6M368.0 142.1h2.6M371.2 166.6h2.6M363.3 163.2h2.6M381.3 122.7h2.6M365.6 132.5h2.6M380.0 142.5h2.6M374.3 155.2h2.6M372.9 161.0h2.6M372.6 149.6h2.6M375.8 141.9h2.6M372.7 117.6h2.6M372.1 154.4h2.6M381.7 125.9h2.6M375.1 153.3h2.6M363.8 159.4h2.6M384.5 110.8h2.6M359.5 171.3h2.6M370.6 132.7h2.6M365.3 155.0h2.6M367.5 152.6h2.6M367.9 168.6h2.6M376.1 156.8h2.6M377.4 164.7h2.6M375.6 150.9h2.6M372.6 122.4h2.6M381.4 132.9h2.6M380.1 148.3h2.6M366.3 152.9h2.6M366.0 138.8h2.6M376.6 123.7h2.6M393.9 114.3h2.6M372.7 137.8h2.6M380.8 134.1h2.6M368.3 127.7h2.6M365.2 146.9h2.6M371.8 149.1h2.6M381.0 138.5h2.6M380.0 101.2h2.6M372.8 124.3h2.6M365.1 125.2h2.6M384.7 147.2h2.6M368.2 125.3h2.6M385.7 132.2h2.6M373.8 116.9h2.6M385.6 126.6h2.6M365.9 150.8h2.6M378.0 143.8h2.6M383.5 121.6h2.6M388.7 114.9h2.6M369.3 154.2h2.6M384.3 136.1h2.6M373.9 146.8h2.6M366.7 141.6h2.6M382.1 138.5h2.6M393.1 92.9h2.6M371.9 152.2h2.6M368.1 167.2h2.6M380.6 137.7h2.6M388.2 133.4h2.6M365.3 140.2h2.6M383.9 132.0h2.6M396.5 104.4h2.6M370.0 130.1h2.6M379.4 136.2h2.6M371.9 155.0h2.6M381.2 119.3h2.6M385.4 130.9h2.6M363.4 136.8h2.6M369.8 144.6h2.6M358.2 170.4h2.6M370.6 147.7h2.6M386.6 148.0h2.6M371.6 115.5h2.6M366.1 164.5h2.6M376.7 106.4h2.6M373.3 160.2h2.6M369.7 151.8h2.6M369.0 138.4h2.6M373.2 118.1h2.6M372.1 146.0h2.6M367.8 128.3h2.6M375.8 138.1h2.6M373.7 137.9h2.6M381.6 131.1h2.6M365.8 151.3h2.6M379.3 116.5h2.6M374.6 119.2h2.6M391.7 98.7h2.6M358.8 128.6h2.6M364.2 139.4h2.6M386.3 132.1h2.6M369.8 119.4h2.6M370.1 132.5h2.6M364.2 146.2h2.6M381.3 101.9h2.6M381.9 127.6h2.6M380.5 120.7h2.6M369.1 146.9h2.6M386.0 142.0h2.6M377.4 118.1h2.6M366.4 145.5h2.6M380.8 140.6h2.6M374.6 127.8h2.6M360.3 141.7h2.6M369.6 132.5h2.6M384.2 124.2h2.6M370.2 154.4h2.6M379.9 108.8h2.6M373.1 169.7h2.6M368.5 140.7h2.6M365.5 128.9h2.6M373.4 143.8h2.6M373.7 119.8h2.6M376.4 129.2h2.6M362.7 171.3h2.6M367.9 144.6h2.6M365.2 133.5h2.6M377.7 133.6h2.6M386.1 152.5h2.6M362.8 152.5h2.6M384.7 130.6h2.6M375.9 157.2h2.6M370.4 136.0h2.6M367.8 135.6h2.6M376.4 149.7h2.6M375.1 123.4h2.6M378.5 109.0h2.6M372.3 133.7h2.6M386.0 151.8h2.6M364.3 131.1h2.6M375.2 151.8h2.6M384.8 157.7h2.6M377.5 130.3h2.6M390.8 136.6h2.6M375.6 134.0h2.6M374.1 147.9h2.6M379.2 145.1h2.6M369.2 139.8h2.6M370.6 160.6h2.6M378.0 143.5h2.6M369.2 141.5h2.6M381.2 123.7h2.6M382.9 137.9h2.6M361.9 160.1h2.6M371.8 149.0h2.6M377.7 138.7h2.6M370.2 135.0h2.6M385.9 120.4h2.6M386.8 123.9h2.6M367.4 154.7h2.6M376.9 137.2h2.6M370.2 138.3h2.6M369.8 159.0h2.6M380.1 129.5h2.6M375.7 128.4h2.6M371.5 161.7h2.6M369.7 147.8h2.6M389.5 109.1h2.6M382.1 136.6h2.6M373.4 123.2h2.6M381.1 128.0h2.6M395.4 132.7h2.6M377.6 108.2h2.6M387.9 124.2h2.6M388.5 168.6h2.6M374.5 133.3h2.6M382.9 128.5h2.6M390.2 113.0h2.6M380.9 132.9h2.6M377.0 159.4h2.6M376.7 137.0h2.6M381.3 142.8h2.6M384.3 133.1h2.6M379.4 143.0h2.6M370.9 149.2h2.6M374.7 134.0h2.6M375.3 138.8h2.6M372.9 141.3h2.6M375.9 103.8h2.6M362.8 152.9h2.6M368.3 168.7h2.6M365.7 151.3h2.6M371.8 141.2h2.6M367.2 130.6h2.6M364.0 143.4h2.6M365.4 171.2h2.6M368.4 163.0h2.6M393.7 125.0h2.6M369.4 163.7h2.6M385.4 125.0h2.6M381.2 126.0h2.6M378.0 134.7h2.6M370.9 148.1h2.6M380.8 133.3h2.6M375.7 154.6h2.6M363.9 142.6h2.6M374.7 164.6h2.6M378.6 113.2h2.6M363.2 139.3h2.6M367.3 148.9h2.6M375.1 164.1h2.6M389.4 101.1h2.6M375.2 133.3h2.6M391.1 103.0h2.6M379.6 144.9h2.6M365.8 127.7h2.6M366.1 143.1h2.6M374.3 154.9h2.6M365.6 152.5h2.6M371.3 133.9h2.6M375.3 148.1h2.6M371.8 129.0h2.6M362.9 147.4h2.6M392.0 129.0h2.6M362.0 152.1h2.6M374.8 123.6h2.6M381.1 148.1h2.6M379.6 111.9h2.6M367.5 141.0h2.6M387.6 117.8h2.6M382.9 127.5h2.6M357.5 153.7h2.6M368.7 118.6h2.6M387.9 97.1h2.6M392.8 108.9h2.6M370.4 141.1h2.6M378.3 156.8h2.6M363.0 139.3h2.6M362.5 138.8h2.6M362.1 156.5h2.6M378.9 137.0h2.6M371.9 161.1h2.6M375.2 163.6h2.6M363.1 132.2h2.6M383.0 159.9h2.6M369.6 150.0h2.6M395.2 135.6h2.6M377.0 137.4h2.6M357.9 156.5h2.6M379.1 116.2h2.6M374.3 110.0h2.6M382.4 158.0h2.6M369.9 171.7h2.6M383.3 142.6h2.6M365.5 155.7h2.6M375.0 109.2h2.6M380.8 114.5h2.6M377.5 128.1h2.6M369.4 131.4h2.6M378.4 140.4h2.6M385.4 129.2h2.6M372.7 136.3h2.6M372.0 134.2h2.6M369.3 148.2h2.6M375.3 156.2h2.6M371.0 152.9h2.6M373.4 161.9h2.6M384.0 134.2h2.6M374.4 129.5h2.6M379.5 104.6h2.6M378.7 108.1h2.6M383.2 151.5h2.6M372.5 145.7h2.6M375.4 138.0h2.6M373.9 131.8h2.6M386.0 115.7h2.6M385.8 98.8h2.6M368.5 126.9h2.6M383.0 132.7h2.6M387.1 92.1h2.6M379.4 160.3h2.6M381.4 125.3h2.6M373.1 144.7h2.6M363.0 160.0h2.6M377.1 163.4h2.6M385.4 131.7h2.6M365.1 154.1h2.6M371.4 153.0h2.6M378.3 138.1h2.6M372.9 142.8h2.6M381.0 121.6h2.6M371.3 141.7h2.6M372.6 125.5h2.6M384.9 133.2h2.6M362.0 138.9h2.6M376.5 153.6h2.6M370.0 132.9h2.6M376.2 132.4h2.6M371.5 129.7h2.6M371.9 129.7h2.6M375.4 145.3h2.6M369.7 110.6h2.6M366.9 137.9h2.6M378.2 115.9h2.6M381.6 127.1h2.6M366.1 150.1h2.6M383.4 167.4h2.6M371.5 140.0h2.6M378.7 147.7h2.6M360.8 140.2h2.6M369.1 129.2h2.6M367.2 138.5h2.6M362.8 154.2h2.6M362.5 140.6h2.6M373.1 130.3h2.6M370.3 128.7h2.6M385.3 145.5h2.6M375.6 131.3h2.6M373.8 153.3h2.6M364.4 112.3h2.6M383.4 150.5h2.6M389.3 122.7h2.6M367.0 135.7h2.6M365.6 155.4h2.6M387.3 128.0h2.6M366.4 130.3h2.6M364.1 152.9h2.6M359.8 153.7h2.6M377.1 136.6h2.6M378.6 150.3h2.6M369.2 129.7h2.6M372.2 156.4h2.6M370.4 128.4h2.6M377.0 147.6h2.6M385.0 134.0h2.6M385.5 132.1h2.6M328.7 130.0h2.6M321.5 143.0h2.6M344.0 138.5h2.6M333.7 156.0h2.6M340.2 154.6h2.6M341.7 164.8h2.6M340.2 178.2h2.6M350.4 155.5h2.6M352.7 149.6h2.6M342.5 116.0h2.6M348.4 119.0h2.6M351.3 122.8h2.6M384.1 79.7h2.6M378.6 85.0h2.6M371.3 90.5h2.6M368.9 94.2h2.6M361.7 107.4h2.6M394.7 100.0h2.6M396.7 128.0h2.6M397.7 141.0h2.6" stroke="#111" stroke-width="2.6" fill="none"/>
<path d="M315.6 52.7H381.6V77L356 114.2H315.6Z" fill="none" stroke="#1a1a1a" stroke-width="1.25"/>
<path d="M386 76.4H401.4V180.3H356.5V116.5Z" fill="none" stroke="#1a1a1a" stroke-width="1.25"/>
<text x="369.7" y="26.1" font-size="14" text-anchor="middle" font-weight="normal" font-family="'Liberation Serif', serif" >BCR transgenic B cells</text>
<text transform="translate(244.8 119.6) rotate(-90)" font-size="14" text-anchor="middle" font-family="'Liberation Serif', serif">CD38</text>
<text x="364.1" y="237.9" font-size="14" text-anchor="middle" font-weight="normal" font-family="'Liberation Serif', serif" >CD95</text>
<rect x="267" y="61.5" width="46.5" height="28.5" fill="#fff"/>
<text x="290.8" y="71.8" font-size="13.6" text-anchor="middle" font-weight="normal" font-family="'Liberation Serif', serif" >naive &amp;</text>
<text x="291.1" y="87.7" font-size="13.6" text-anchor="middle" font-weight="normal" font-family="'Liberation Serif', serif" >MBC</text>
<text x="425.6" y="129.7" font-size="13.6" text-anchor="middle" font-weight="normal" font-family="'Liberation Serif', serif" >GC</text>
<text x="425.9" y="144.7" font-size="13.5" text-anchor="middle" font-weight="normal" font-family="'Liberation Serif', serif" >B cells</text>
<rect x="511.5" y="35.5" width="172.0" height="171.0" fill="none" stroke="#2a2a2a" stroke-width="1"/>
<path d="M522.50 206.5v5M578.60 206.5v5M625.80 206.5v5M666.50 206.5v5" stroke="#111" stroke-width="1.7" fill="none"/>
<path d="M536.00 206.5v3.6M564.93 206.5v3.6M611.59 206.5v3.6M654.25 206.5v3.6" stroke="#111" stroke-width="1" fill="none"/>
<path d="M544.10 206.5v2.8M541.40 206.5v2.8M538.70 206.5v2.8M533.30 206.5v2.8M530.60 206.5v2.8M527.90 206.5v2.8M525.20 206.5v2.8M556.73 206.5v2.8M559.47 206.5v2.8M562.20 206.5v2.8M567.67 206.5v2.8M570.40 206.5v2.8M573.13 206.5v2.8M575.87 206.5v2.8M592.81 206.5v2.8M601.12 206.5v2.8M607.02 206.5v2.8M615.33 206.5v2.8M618.49 206.5v2.8M621.23 206.5v2.8M623.64 206.5v2.8M638.05 206.5v2.8M645.22 206.5v2.8M650.30 206.5v2.8M657.47 206.5v2.8M660.20 206.5v2.8M662.56 206.5v2.8M664.64 206.5v2.8" stroke="#111" stroke-width="0.85" fill="none"/>
<rect x="546.80" y="206.5" width="3.60" height="4" fill="#111"/>
<rect x="550.40" y="206.5" width="3.60" height="4" fill="#111"/>
<path d="M511.5 51.10h-5M511.5 92.00h-5M511.5 138.60h-5M511.5 194.60h-5" stroke="#111" stroke-width="1.7" fill="none"/>
<path d="M511.5 63.41h-3.6M511.5 106.03h-3.6M511.5 152.21h-3.6M511.5 181.10h-3.6" stroke="#111" stroke-width="1" fill="none"/>
<path d="M511.5 79.69h-2.8M511.5 72.49h-2.8M511.5 67.38h-2.8M511.5 60.17h-2.8M511.5 57.44h-2.8M511.5 55.06h-2.8M511.5 52.97h-2.8M511.5 124.57h-2.8M511.5 116.37h-2.8M511.5 110.54h-2.8M511.5 102.34h-2.8M511.5 99.22h-2.8M511.5 96.52h-2.8M511.5 94.13h-2.8M511.5 160.38h-2.8M511.5 157.66h-2.8M511.5 154.93h-2.8M511.5 149.49h-2.8M511.5 146.77h-2.8M511.5 144.04h-2.8M511.5 141.32h-2.8M511.5 173.00h-2.8M511.5 175.70h-2.8M511.5 178.40h-2.8M511.5 183.80h-2.8M511.5 186.50h-2.8M511.5 189.20h-2.8M511.5 191.90h-2.8" stroke="#111" stroke-width="0.85" fill="none"/>
<rect x="507.5" y="163.10" width="4" height="3.60" fill="#111"/>
<rect x="507.5" y="166.70" width="4" height="3.60" fill="#111"/>
<text transform="translate(519.51 221.70) scale(.95 1)" font-size="6.6" text-anchor="start" font-family="'Liberation Sans', sans-serif" fill="#151515">-10</text>
<text transform="translate(531.20 217.50) scale(.95 1)" font-size="6.6" text-anchor="start" font-family="'Liberation Sans', sans-serif" fill="#151515">3</text>
<text transform="translate(551.40 221.70) scale(.95 1)" font-size="6.6" text-anchor="start" font-family="'Liberation Sans', sans-serif" fill="#151515">0</text>
<text transform="translate(578.00 221.70) scale(.95 1)" font-size="6.6" text-anchor="start" font-family="'Liberation Sans', sans-serif" fill="#151515">10</text>
<text transform="translate(586.30 217.50) scale(.95 1)" font-size="6.6" text-anchor="start" font-family="'Liberation Sans', sans-serif" fill="#151515">3</text>
<text transform="translate(625.20 221.70) scale(.95 1)" font-size="6.6" text-anchor="start" font-family="'Liberation Sans', sans-serif" fill="#151515">10</text>
<text transform="translate(633.50 217.50) scale(.95 1)" font-size="6.6" text-anchor="start" font-family="'Liberation Sans', sans-serif" fill="#151515">4</text>
<text transform="translate(665.90 221.70) scale(.95 1)" font-size="6.6" text-anchor="start" font-family="'Liberation Sans', sans-serif" fill="#151515">10</text>
<text transform="translate(674.20 217.50) scale(.95 1)" font-size="6.6" text-anchor="start" font-family="'Liberation Sans', sans-serif" fill="#151515">5</text>
<text transform="translate(503.50 50.90) scale(.95 1)" font-size="6.6" text-anchor="end" font-family="'Liberation Sans', sans-serif" fill="#151515">5</text>
<text transform="translate(498.50 55.10) scale(.95 1)" font-size="6.6" text-anchor="end" font-family="'Liberation Sans', sans-serif" fill="#151515">10</text>
<text transform="translate(503.50 91.80) scale(.95 1)" font-size="6.6" text-anchor="end" font-family="'Liberation Sans', sans-serif" fill="#151515">4</text>
<text transform="translate(498.50 96.00) scale(.95 1)" font-size="6.6" text-anchor="end" font-family="'Liberation Sans', sans-serif" fill="#151515">10</text>
<text transform="translate(503.50 138.40) scale(.95 1)" font-size="6.6" text-anchor="end" font-family="'Liberation Sans', sans-serif" fill="#151515">3</text>
<text transform="translate(498.50 142.60) scale(.95 1)" font-size="6.6" text-anchor="end" font-family="'Liberation Sans', sans-serif" fill="#151515">10</text>
<text transform="translate(498.90 169.00) scale(.95 1)" font-size="6.6" text-anchor="end" font-family="'Liberation Sans', sans-serif" fill="#151515">0</text>
<text transform="translate(503.50 194.40) scale(.95 1)" font-size="6.6" text-anchor="end" font-family="'Liberation Sans', sans-serif" fill="#151515">3</text>
<text transform="translate(498.50 198.60) scale(.95 1)" font-size="6.6" text-anchor="end" font-family="'Liberation Sans', sans-serif" fill="#151515">-10</text>
<path d="M546.5 73.6h2.5M542.3 64.9h2.5M552.0 67.9h2.5M543.8 68.5h2.5M547.7 67.4h2.5M555.5 72.0h2.5M545.1 72.6h2.5M557.0 67.5h2.5M549.3 70.4h2.5M560.1 66.0h2.5M553.9 71.0h2.5M551.8 64.5h2.5M552.4 72.6h2.5M553.5 69.4h2.5M548.4 69.1h2.5M551.0 62.1h2.5M547.5 65.1h2.5M543.8 66.7h2.5M549.2 75.0h2.5M550.9 68.7h2.5M557.8 64.3h2.5M548.8 75.1h2.5M548.0 76.2h2.5M553.0 78.7h2.5M553.7 63.9h2.5M556.0 64.7h2.5M559.8 63.6h2.5M549.2 78.2h2.5M546.7 70.9h2.5M545.0 64.5h2.5M546.4 62.2h2.5M547.8 71.0h2.5M549.3 65.2h2.5M543.1 63.9h2.5M550.3 65.3h2.5M549.9 61.6h2.5M547.3 72.6h2.5M553.9 75.8h2.5M546.2 62.3h2.5M544.4 68.7h2.5M546.3 64.3h2.5M554.2 70.0h2.5M543.4 61.9h2.5M554.5 61.6h2.5M558.0 65.4h2.5M555.4 66.7h2.5M548.4 70.1h2.5M546.2 64.3h2.5M547.9 71.8h2.5M546.1 63.0h2.5M544.7 69.4h2.5M554.9 65.3h2.5M561.3 61.6h2.5M546.9 62.3h2.5M548.2 70.2h2.5M553.8 68.3h2.5M558.3 70.2h2.5M552.7 76.2h2.5M555.5 65.3h2.5M553.5 64.0h2.5M554.8 63.0h2.5M556.6 71.3h2.5M549.6 66.9h2.5M542.4 62.5h2.5M546.8 65.2h2.5M554.9 71.5h2.5M560.9 62.0h2.5M546.7 62.1h2.5M545.4 67.5h2.5M549.8 69.6h2.5M530.9 62.8h2.5M536.6 64.4h2.5M541.1 61.8h2.5M533.5 73.1h2.5M538.9 72.8h2.5M546.0 58.1h2.5M560.6 58.1h2.5M557.8 80.6h2.5M540.0 81.2h2.5M541.5 82.4h2.5M548.9 83.5h2.5M551.1 84.1h2.5M543.8 86.3h2.5M557.8 88.2h2.5M555.5 89.7h2.5M549.6 88.5h2.5M546.0 89.7h2.5M540.9 90.0h2.5M536.6 91.5h2.5M555.5 93.1h2.5M538.9 97.8h2.5M539.6 100.0h2.5M550.9 98.5h2.5M551.1 102.5h2.5M540.9 105.4h2.5M550.0 112.1h2.5M546.6 115.0h2.5M574.4 63.2h2.5M575.9 112.1h2.5M583.9 132.0h2.5M610.1 134.6h2.5M548.0 160.3h2.5M547.4 162.2h2.5M549.8 163.0h2.5M551.5 165.3h2.5M613.1 168.6h2.5M627.2 58.1h2.5M608.0 66.0h2.5M615.5 68.9h2.5M618.5 69.4h2.5M622.0 69.4h2.5M608.0 72.0h2.5M615.5 72.0h2.5M631.8 73.4h2.5M635.1 71.5h2.5M637.8 76.5h2.5M606.2 76.8h2.5M607.5 80.7h2.5M615.5 79.4h2.5M626.0 78.1h2.5M624.6 81.2h2.5M623.2 83.9h2.5M625.1 86.0h2.5M610.1 86.0h2.5M618.5 85.2h2.5M623.2 89.9h2.5M614.0 91.7h2.5M608.0 93.8h2.5M624.0 98.8h2.5M608.9 103.6h2.5" stroke="#111" stroke-width="2.5" fill="none"/>
<rect x="525.4" y="56.8" width="47.5" height="59.8" fill="none" stroke="#1a1a1a" stroke-width="1.3"/>
<rect x="598.2" y="56.6" width="59.7" height="59.9" fill="none" stroke="#1a1a1a" stroke-width="1.3"/>
<text x="593.7" y="26.1" font-size="14" text-anchor="middle" font-weight="normal" font-family="'Liberation Serif', serif" >naive &amp; MBC</text>
<text transform="translate(477 111.6) rotate(-90)" font-size="14" text-anchor="middle" font-family="'Liberation Serif', serif">Antigen binding</text>
<text x="596.7" y="237.7" font-size="14" text-anchor="middle" font-weight="normal" font-family="'Liberation Serif', serif" >IgG1</text>
<text x="526" y="131.5" font-size="13.6" text-anchor="start" font-weight="normal" font-family="'Liberation Serif', serif" word-spacing="2.7">naive &amp;</text>
<text x="549.5" y="146.8" font-size="13.5" text-anchor="middle" font-weight="normal" font-family="'Liberation Serif', serif" >MBC</text>
<text x="626.9" y="131.5" font-size="13" text-anchor="middle" font-weight="normal" font-family="'Liberation Serif', serif" >IgG1</text>
<text x="627.6" y="146.8" font-size="13.5" text-anchor="middle" font-weight="normal" font-family="'Liberation Serif', serif" >MBC</text>
<path d="M60.0 355.5L60.0 354.7C61.8 354.6 67.6 354.5 70.5 354.2C73.4 353.9 75.5 353.4 77.5 353.0C79.5 352.6 81.3 352.6 82.8 351.6C84.3 350.6 85.3 348.3 86.3 347.2C87.3 346.1 87.7 345.1 88.9 345.1C90.1 345.1 92.0 347.9 93.3 347.2C94.6 346.5 95.6 342.8 96.8 341.1C98.0 339.4 98.8 337.2 100.3 337.2C101.8 337.2 103.9 341.0 105.5 341.1C107.1 341.2 108.7 340.1 109.9 337.6C111.1 335.1 111.8 329.1 112.6 326.2C113.4 323.3 113.8 320.1 114.8 320.0C115.8 319.9 117.7 326.3 118.7 325.3C119.7 324.3 120.3 316.4 121.0 313.9C121.7 311.3 122.2 309.4 123.1 310.0C124.0 310.6 125.0 317.9 126.2 317.4C127.4 316.9 128.7 310.2 130.1 306.9C131.5 303.6 133.2 298.2 134.5 297.6C135.8 297.0 136.8 301.0 138.0 303.4C139.2 305.8 140.4 310.9 141.5 312.2C142.6 313.4 143.6 309.9 144.6 310.9C145.6 311.9 146.7 315.9 147.6 318.3C148.5 320.7 149.0 323.1 150.2 325.3C151.4 327.5 153.3 329.1 154.6 331.4C155.9 333.7 156.8 336.8 158.1 339.3C159.4 341.8 161.2 344.2 162.5 346.3C163.8 348.4 164.7 350.4 166.0 351.6C167.3 352.9 168.1 353.2 170.4 353.8C172.7 354.4 178.4 354.8 180.0 355.0L180.0 355.5Z" fill="#111"/>
<path d="M63.1 398L63.1 397.8C63.8 397.6 66.0 396.9 67.5 396.3C69.0 395.7 70.4 395.2 71.9 394.1C73.4 393.1 75.1 391.0 76.3 390.0C77.5 389.0 78.0 388.7 79.2 388.3C80.4 387.9 82.5 388.6 83.6 387.8C84.7 387.0 84.9 385.6 85.8 383.5C86.7 381.4 87.7 377.3 88.7 375.4C89.7 373.5 90.6 372.6 91.6 372.2C92.6 371.8 93.5 372.4 94.5 372.8C95.5 373.2 96.6 375.2 97.4 374.7C98.2 374.2 98.7 371.6 99.6 369.6C100.5 367.7 101.7 363.4 102.6 363.0C103.5 362.6 104.3 365.6 105.2 367.4C106.1 369.2 106.9 372.4 107.7 374.0C108.5 375.6 108.9 376.1 109.9 376.9C110.9 377.7 112.3 377.8 113.5 378.6C114.7 379.5 116.0 381.3 117.2 382.0C118.4 382.7 119.7 382.3 120.8 383.0C121.9 383.7 122.6 385.0 123.7 386.4C124.8 387.8 126.2 390.4 127.4 391.5C128.6 392.6 129.7 392.7 131.0 393.2C132.3 393.7 133.8 393.8 135.4 394.4C137.0 395.0 138.9 396.4 140.5 397.0C142.1 397.6 144.2 397.7 144.9 397.8L144.9 398Z" fill="#111"/>
<path d="M66.8 440.5L66.8 439.5C67.4 439.0 69.2 437.4 70.4 436.6C71.6 435.8 72.9 435.3 74.1 434.7C75.3 434.1 76.7 434.0 77.7 433.2C78.7 432.4 79.1 431.9 79.9 430.0C80.8 428.1 81.8 424.2 82.8 422.0C83.8 419.8 84.9 417.1 85.8 416.9C86.7 416.6 87.2 418.6 88.2 420.5C89.2 422.4 90.4 426.8 91.6 428.6C92.8 430.4 94.1 430.8 95.3 431.5C96.5 432.2 97.7 433.1 98.9 433.0C100.1 432.9 101.4 431.8 102.6 430.8C103.8 429.8 105.0 428.1 106.2 427.1C107.4 426.1 108.6 424.9 109.6 424.9C110.6 424.9 111.0 426.1 112.0 427.1C113.0 428.1 114.4 430.0 115.7 430.8C117.0 431.6 118.6 431.4 120.1 431.8C121.6 432.2 123.3 432.5 124.5 433.2C125.7 433.9 126.4 435.0 127.4 435.9C128.4 436.8 128.6 438.0 130.3 438.5C132.0 439.0 135.9 438.6 137.6 438.8C139.3 439.0 140.0 439.4 140.5 439.5L140.5 440.5Z" fill="#111"/>
<path d="M46.5 355.5H218.5M46.5 397.5H218.5" stroke="#2a2a2a" stroke-width="1" fill="none"/>
<path d="M46.5 440.5V268.5H218.5V440.5" stroke="#2a2a2a" stroke-width="1" fill="none"/>
<path d="M46.0 440.5H219.0" stroke="#111" stroke-width="1.6" fill="none"/>
<path d="M57.00 441.0v3.8M113.30 441.0v3.8M160.80 441.0v3.8M200.80 441.0v3.8" stroke="#111" stroke-width="1.3" fill="none"/>
<path d="M70.56 441.0v2.4M99.58 441.0v2.4M146.50 441.0v2.4M188.76 441.0v2.4" stroke="#111" stroke-width="1" fill="none"/>
<path d="M78.69 441.0v1.7M75.98 441.0v1.7M73.27 441.0v1.7M67.84 441.0v1.7M65.13 441.0v1.7M62.42 441.0v1.7M59.71 441.0v1.7M91.34 441.0v1.7M94.09 441.0v1.7M96.83 441.0v1.7M102.32 441.0v1.7M105.07 441.0v1.7M107.81 441.0v1.7M110.56 441.0v1.7M127.60 441.0v1.7M135.96 441.0v1.7M141.90 441.0v1.7M150.26 441.0v1.7M153.44 441.0v1.7M156.20 441.0v1.7M158.63 441.0v1.7M172.84 441.0v1.7M179.88 441.0v1.7M184.88 441.0v1.7M191.93 441.0v1.7M194.60 441.0v1.7M196.92 441.0v1.7M198.97 441.0v1.7" stroke="#111" stroke-width="0.85" fill="none"/>
<rect x="81.40" y="441.0" width="3.60" height="2.8" fill="#111"/>
<rect x="85.00" y="441.0" width="3.60" height="2.8" fill="#111"/>
<text transform="translate(55.30 454.40) scale(.95 1)" font-size="6.0" text-anchor="start" font-family="'Liberation Sans', sans-serif" fill="#151515">-10</text>
<text transform="translate(66.80 450.20) scale(.95 1)" font-size="6.0" text-anchor="start" font-family="'Liberation Sans', sans-serif" fill="#151515">3</text>
<text transform="translate(85.50 454.40) scale(.95 1)" font-size="6.0" text-anchor="start" font-family="'Liberation Sans', sans-serif" fill="#151515">0</text>
<text transform="translate(113.80 454.40) scale(.95 1)" font-size="6.0" text-anchor="start" font-family="'Liberation Sans', sans-serif" fill="#151515">10</text>
<text transform="translate(122.10 450.20) scale(.95 1)" font-size="6.0" text-anchor="start" font-family="'Liberation Sans', sans-serif" fill="#151515">3</text>
<text transform="translate(161.30 454.40) scale(.95 1)" font-size="6.0" text-anchor="start" font-family="'Liberation Sans', sans-serif" fill="#151515">10</text>
<text transform="translate(169.60 450.20) scale(.95 1)" font-size="6.0" text-anchor="start" font-family="'Liberation Sans', sans-serif" fill="#151515">4</text>
<text transform="translate(201.30 454.40) scale(.95 1)" font-size="6.0" text-anchor="start" font-family="'Liberation Sans', sans-serif" fill="#151515">10</text>
<text transform="translate(209.60 450.20) scale(.95 1)" font-size="6.0" text-anchor="start" font-family="'Liberation Sans', sans-serif" fill="#151515">5</text>
<text x="138" y="472" font-size="14" text-anchor="middle" font-weight="normal" font-family="'Liberation Serif', serif" >CXCR4</text>
<text x="231" y="336.7" font-size="13.5" text-anchor="start" font-weight="normal" font-family="'Liberation Serif', serif" >GC B cells</text>
<text x="231" y="383.5" font-size="13.5" text-anchor="start" font-weight="normal" font-family="'Liberation Serif', serif" >naive &amp; MBC</text>
<text x="231.4" y="425.8" font-size="13.5" text-anchor="start" font-weight="normal" font-family="'Liberation Serif', serif" >IgG1 MBC</text>
</svg>
</body></html>
